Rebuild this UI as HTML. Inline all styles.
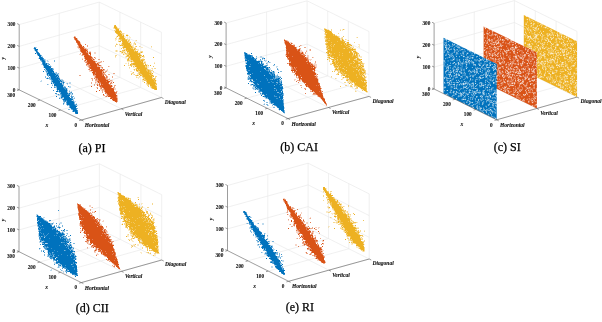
<!DOCTYPE html><html><head><meta charset="utf-8"><style>html,body{margin:0;padding:0;background:#fff}svg{display:block}</style></head><body>
<svg width="602" height="322" viewBox="0 0 602 322">
<defs><filter id="bl" x="0" y="0" width="602" height="322" filterUnits="userSpaceOnUse"><feGaussianBlur stdDeviation="0.3"/></filter></defs>
<rect width="602" height="322" fill="#fff"/>
<g filter="url(#bl)">
<path d="M99.2 67.4L161.4 97.5M99.2 45.63L161.4 75.73M19.2 68.13L99.2 45.63M99.2 23.87L161.4 53.97M19.2 46.37L99.2 23.87M99.2 2.1L161.4 32.2M19.2 24.6L99.2 2.1M161.4 97.5L161.4 32.2M81.4 120L161.4 97.5M140.67 87.47L140.67 22.17M60.67 109.97L140.67 87.47M119.93 77.43L119.93 12.13M39.93 99.93L119.93 77.43M99.2 67.4L99.2 2.1M59.2 78.65L59.2 13.35M59.2 78.65L121.4 108.75" stroke="#e6e6e6" stroke-width="0.6" fill="none"/>
<path d="M114.5 25h1.5v.5h-1.5zM114 25.5h2v.5h-2zM114 26h2.5v1h-2.5zM114 27h3v.5h-3zM113.5 27.5h4v1h-4zM118.5 28h1v.5h-1zM115 28.5h3v.5h-3zM118.5 28.5h.5v.5h-.5zM115.5 29h3.5v1.5h-3.5zM114.5 30h.5v1h-.5zM115.5 30.5h4v.5h-4zM120 30.5h1v.5h-1zM115 31h6.5v1h-6.5zM115 32h5.5v.5h-5.5zM121 32h.5v.5h-.5zM116 32.5h4.5v.5h-4.5zM115 32.5h.5v.5h-.5zM121 32.5h1v.5h-1zM116 33h5.5v.5h-5.5zM123.5 33h.5v.5h-.5zM122 33.5h1v.5h-1zM123.5 33.5h1v.5h-1zM116.5 33.5h5v.5h-5zM117 34h6v.5h-6zM123.5 34h.5v1h-.5zM127.5 34.5h.5v.5h-.5zM126 34.5h.5v.5h-.5zM118 34.5h4v1h-4zM126 35h2.5v.5h-2.5zM123 35h1v.5h-1zM117.5 35.5h6.5v.5h-6.5zM126 35.5h2v.5h-2zM127.5 36h.5v.5h-.5zM119 36h5v.5h-5zM117 36h1.5v.5h-1.5zM129.5 36.5h.5v.5h-.5zM116.5 36.5h1.5v.5h-1.5zM119.5 36.5h5v.5h-5zM129.5 37h1v.5h-1zM116 37h1v.5h-1zM119.5 37h4.5v1h-4.5zM124.5 37.5h1v.5h-1zM115.5 38h.5v.5h-.5zM119 38h6v.5h-6zM115.5 38.5h1v.5h-1zM127.5 38.5h.5v1h-.5zM118.5 38.5h7v1h-7zM126 39h.5v.5h-.5zM115.5 39.5h1v.5h-1zM121.5 39.5h6v.5h-6zM128.5 39.5h1.5v.5h-1.5zM120 39.5h.5v.5h-.5zM115.5 40h.5v.5h-.5zM128 40h2v.5h-2zM120 40h7.5v.5h-7.5zM135.5 40h1v.5h-1zM136 40.5h.5v.5h-.5zM128.5 40.5h.5v.5h-.5zM121 40.5h.5v.5h-.5zM118.5 40.5h.5v.5h-.5zM122 40.5h5v.5h-5zM128 41h1v.5h-1zM122 41h5.5v.5h-5.5zM118.5 41h2.5v1h-2.5zM122 41.5h6.5v.5h-6.5zM129.5 41.5h1v.5h-1zM129 42h2v.5h-2zM122.5 42h6v.5h-6zM122 42.5h6v.5h-6zM134 42.5h1v.5h-1zM128.5 42.5h.5v.5h-.5zM130 42.5h1v.5h-1zM134 43h1.5v.5h-1.5zM122 43h8.5v.5h-8.5zM135 43.5h.5v.5h-.5zM116 43.5h.5v.5h-.5zM133.5 43.5h.5v.5h-.5zM131 43.5h.5v.5h-.5zM121.5 43.5h8.5v.5h-8.5zM123 44h7v.5h-7zM130.5 44h1v.5h-1zM135 44h1v.5h-1zM133.5 44h1v.5h-1zM121.5 44h1v.5h-1zM116 44h1.5v.5h-1.5zM116.5 44.5h1v.5h-1zM135 44.5h.5v.5h-.5zM121.5 44.5h9.5v.5h-9.5zM119 44.5h1v.5h-1zM124 45h7v.5h-7zM119 45h.5v.5h-.5zM120 45h3.5v.5h-3.5zM122 45.5h9v.5h-9zM120 45.5h1.5v.5h-1.5zM131.5 45.5h.5v.5h-.5zM132.5 45.5h1v1h-1zM115 45.5h1v1h-1zM135.5 46h1.5v.5h-1.5zM139.5 46h1v.5h-1zM123 46h9v.5h-9zM151 46.5h1v.5h-1zM139.5 46.5h.5v.5h-.5zM123.5 46.5h9v.5h-9zM135.5 46.5h.5v.5h-.5zM136.5 46.5h.5v.5h-.5zM122.5 46.5h.5v.5h-.5zM151.5 47h.5v.5h-.5zM141.5 47h1v.5h-1zM131 47h2.5v.5h-2.5zM122 47h8.5v.5h-8.5zM123 47.5h9v.5h-9zM132.5 47.5h1v.5h-1zM134.5 47.5h1v1h-1zM125.5 48h6v.5h-6zM132 48h.5v.5h-.5zM121 48h.5v.5h-.5zM123 48h1v.5h-1zM121 48.5h1v.5h-1zM133.5 48.5h2.5v.5h-2.5zM123.5 48.5h1v.5h-1zM126 48.5h7v.5h-7zM133.5 49h3.5v.5h-3.5zM125.5 49h7.5v.5h-7.5zM123.5 49h.5v.5h-.5zM125.5 49.5h9.5v.5h-9.5zM124 49.5h1v.5h-1zM137.5 49.5h1v1h-1zM122.5 50h2.5v.5h-2.5zM126 50h9v.5h-9zM122 50.5h1.5v.5h-1.5zM135 50.5h1v.5h-1zM124 50.5h1.5v.5h-1.5zM126 50.5h1.5v.5h-1.5zM128 50.5h6v.5h-6zM115.5 50.5h2v1h-2zM120 51h1.5v.5h-1.5zM126.5 51h7.5v.5h-7.5zM122 51h2v.5h-2zM137 51h1v.5h-1zM124.5 51h1v.5h-1zM134.5 51h2v.5h-2zM140.5 51.5h2.5v.5h-2.5zM127 51.5h11v.5h-11zM119.5 51.5h2v.5h-2zM128.5 52h9v.5h-9zM127 52h1v.5h-1zM122 52h1v.5h-1zM124.5 52h.5v.5h-.5zM140.5 52h2v1h-2zM138.5 52.5h1v.5h-1zM121 52.5h2.5v.5h-2.5zM127 52.5h.5v.5h-.5zM124 52.5h1.5v.5h-1.5zM128.5 52.5h9.5v1h-9.5zM125 53h1v.5h-1zM122.5 53h1v.5h-1zM138.5 53h1.5v.5h-1.5zM121.5 53h.5v.5h-.5zM124.5 53.5h1v1h-1zM126 53.5h14.5v1h-14.5zM123.5 54h.5v.5h-.5zM123 54.5h1v.5h-1zM128.5 54.5h12v.5h-12zM127 55h2.5v.5h-2.5zM139 55h3v.5h-3zM130 55h8v.5h-8zM143 55h1v1h-1zM115.5 55h1v1h-1zM141.5 55.5h.5v.5h-.5zM130 55.5h11v.5h-11zM126.5 55.5h3v.5h-3zM142 56h2v.5h-2zM126.5 56h13.5v.5h-13.5zM142 56.5h1v.5h-1zM129.5 56.5h12v.5h-12zM128.5 56.5h.5v.5h-.5zM125.5 56.5h2v.5h-2zM115 56.5h1v.5h-1zM143.5 56.5h1v1h-1zM125.5 57h1v.5h-1zM115.5 57h.5v.5h-.5zM129 57h12.5v.5h-12.5zM153 57h1v1h-1zM128 57.5h2.5v.5h-2.5zM140 57.5h1v.5h-1zM131 57.5h8.5v.5h-8.5zM128 58h1.5v.5h-1.5zM131 58h9v.5h-9zM130 58h.5v.5h-.5zM130 58.5h10.5v.5h-10.5zM127.5 58.5h2v.5h-2zM142.5 58.5h1v.5h-1zM141.5 59h2v.5h-2zM127 59h2v.5h-2zM144 59h1v.5h-1zM130.5 59h10.5v.5h-10.5zM141 59.5h1.5v.5h-1.5zM130.5 59.5h9.5v.5h-9.5zM143 59.5h1.5v.5h-1.5zM127.5 59.5h2v.5h-2zM127 60h2v.5h-2zM132.5 60h8v.5h-8zM130.5 60h1.5v.5h-1.5zM141 60h3.5v.5h-3.5zM129 60.5h1v.5h-1zM132.5 60.5h10.5v.5h-10.5zM143.5 60.5h.5v.5h-.5zM127.5 60.5h1v1h-1zM142 61h1v.5h-1zM129 61h.5v.5h-.5zM132.5 61h9v.5h-9zM130.5 61h1.5v1h-1.5zM132.5 61.5h.5v.5h-.5zM133.5 61.5h10v.5h-10zM144.5 61.5h1v1h-1zM134 62h9.5v.5h-9.5zM144 62.5h1.5v.5h-1.5zM154.5 62.5h.5v.5h-.5zM134.5 62.5h8.5v.5h-8.5zM133 62.5h.5v.5h-.5zM131.5 62.5h.5v.5h-.5zM128 62.5h.5v.5h-.5zM133 63h11.5v.5h-11.5zM145 63h.5v.5h-.5zM131 63h1.5v.5h-1.5zM154 63h1v.5h-1zM128 63h1v.5h-1zM125.5 63.5h1v.5h-1zM131.5 63.5h11.5v.5h-11.5zM143.5 63.5h.5v.5h-.5zM144.5 63.5h1v.5h-1zM130 64h1v.5h-1zM145 64h1v.5h-1zM131.5 64h12.5v.5h-12.5zM147 64.5h.5v.5h-.5zM128.5 64.5h.5v.5h-.5zM130 64.5h2.5v.5h-2.5zM145 64.5h1.5v.5h-1.5zM133 64.5h10.5v.5h-10.5zM136 65h11.5v.5h-11.5zM131 65h1.5v.5h-1.5zM148.5 65h.5v.5h-.5zM134 65h1.5v.5h-1.5zM128 65h1v.5h-1zM130 65h.5v.5h-.5zM124 65h1v1h-1zM150 65h1v1h-1zM145.5 65.5h1.5v.5h-1.5zM148 65.5h1v.5h-1zM129.5 65.5h2v.5h-2zM133.5 65.5h.5v.5h-.5zM135 65.5h10v1h-10zM146 66h.5v.5h-.5zM133 66h1v.5h-1zM131.5 66h.5v.5h-.5zM153.5 66h.5v.5h-.5zM153 66.5h1v.5h-1zM135 66.5h12v.5h-12zM131 66.5h1v.5h-1zM147.5 66.5h1v1h-1zM133.5 66.5h1v1h-1zM145.5 67h1.5v.5h-1.5zM136.5 67h8.5v.5h-8.5zM129 67.5h1v.5h-1zM136.5 67.5h10v.5h-10zM136.5 68h10.5v.5h-10.5zM129 68h.5v.5h-.5zM152 68h.5v.5h-.5zM154.5 68h1v1h-1zM151.5 68.5h1v.5h-1zM135.5 68.5h12v1h-12zM133.5 69h1v.5h-1zM152 69h.5v.5h-.5zM136 69.5h1v.5h-1zM140 69.5h6.5v.5h-6.5zM138 69.5h1.5v.5h-1.5zM134 69.5h1v1h-1zM147 69.5h2v1h-2zM149.5 69.5h1v1h-1zM136 70h10.5v.5h-10.5zM151.5 70h1v1h-1zM148 70.5h2.5v.5h-2.5zM138.5 70.5h9v.5h-9zM136 70.5h2v.5h-2zM150.5 71h.5v.5h-.5zM136 71h.5v.5h-.5zM139 71h8.5v.5h-8.5zM137 71h1.5v.5h-1.5zM148 71h1.5v.5h-1.5zM137.5 71.5h1v.5h-1zM153 71.5h1v.5h-1zM130.5 71.5h1v.5h-1zM140 71.5h11.5v.5h-11.5zM138.5 72h.5v.5h-.5zM133 72h1v.5h-1zM139.5 72h11.5v.5h-11.5zM153.5 72h.5v.5h-.5zM151 72.5h1v.5h-1zM138.5 72.5h11v.5h-11zM150 72.5h.5v.5h-.5zM132.5 72.5h1v1h-1zM152 73h1v.5h-1zM138.5 73h13v.5h-13zM131.5 73h.5v1h-.5zM132.5 73.5h.5v.5h-.5zM139.5 73.5h.5v.5h-.5zM151.5 73.5h1.5v.5h-1.5zM140.5 73.5h10.5v.5h-10.5zM137.5 73.5h1v1h-1zM140.5 74h8.5v.5h-8.5zM149.5 74h3v.5h-3zM133.5 74h1v.5h-1zM131 74h1v.5h-1zM139 74h1v1h-1zM140.5 74.5h.5v.5h-.5zM134 74.5h.5v.5h-.5zM142 74.5h9.5v.5h-9.5zM131.5 74.5h.5v.5h-.5zM140 75h10.5v.5h-10.5zM136.5 75h2v.5h-2zM151 75h2.5v.5h-2.5zM135.5 75h.5v.5h-.5zM142.5 75.5h11v.5h-11zM141.5 75.5h.5v.5h-.5zM135.5 75.5h3v.5h-3zM140 75.5h1v.5h-1zM142.5 76h11.5v.5h-11.5zM155.5 76h1v1h-1zM136 76.5h.5v.5h-.5zM153 76.5h1v.5h-1zM142 76.5h10v.5h-10zM139 76.5h1v.5h-1zM139.5 77h.5v.5h-.5zM142.5 77h.5v.5h-.5zM136 77h1v.5h-1zM143.5 77h9v.5h-9zM137.5 77.5h1v.5h-1zM155 77.5h1v.5h-1zM143 77.5h1.5v.5h-1.5zM145 77.5h7.5v.5h-7.5zM155 78h.5v.5h-.5zM153.5 78h1v.5h-1zM143 78h.5v.5h-.5zM138 78h.5v.5h-.5zM144 78h8.5v.5h-8.5zM144.5 78.5h8v.5h-8zM143.5 78.5h.5v.5h-.5zM153 78.5h2.5v.5h-2.5zM154 79h1.5v.5h-1.5zM144.5 79h9v.5h-9zM142.5 79h1.5v.5h-1.5zM145.5 79.5h9.5v.5h-9.5zM142.5 79.5h2v.5h-2zM154.5 80h2v.5h-2zM144 80h10v.5h-10zM146.5 80.5h9.5v.5h-9.5zM144.5 80.5h1v.5h-1zM142.5 80.5h1v1h-1zM146.5 81h7.5v.5h-7.5zM154.5 81h1v.5h-1zM146 81.5h10v.5h-10zM146.5 82h9.5v.5h-9.5zM144 82h1v1h-1zM147 82.5h8.5v.5h-8.5zM146.5 83h10v.5h-10zM146.5 83.5h1v.5h-1zM148 83.5h8.5v.5h-8.5zM150 84h5.5v.5h-5.5zM156 84h1v.5h-1zM146.5 84h3v.5h-3zM150 84.5h5v.5h-5zM148 84.5h.5v.5h-.5zM149 84.5h.5v.5h-.5zM155.5 84.5h1v.5h-1zM150 85h6.5v.5h-6.5zM147.5 85h1v1h-1zM150 85.5h5.5v.5h-5.5zM148 86h1v.5h-1zM150 86h6.5v.5h-6.5zM151.5 86.5h5.5v.5h-5.5zM148 86.5h.5v.5h-.5zM150.5 87h1v.5h-1zM152 87h5v.5h-5zM151 87.5h5.5v.5h-5.5zM151.5 88h5.5v.5h-5.5zM152.5 88.5h4.5v.5h-4.5zM154 89h3v.5h-3zM154.5 89.5h2.5v.5h-2.5z" fill="#edb120"/><path d="M74 36.5h1.5v1h-1.5zM73.5 37.5h2.5v.5h-2.5zM74 38h3v.5h-3zM75 38.5h2.5v.5h-2.5zM74 38.5h.5v.5h-.5zM74 39h3.5v.5h-3.5zM75 39.5h2.5v.5h-2.5zM75.5 40h2.5v.5h-2.5zM75.5 40.5h3.5v.5h-3.5zM76 41h3.5v.5h-3.5zM76 41.5h4v1h-4zM76.5 42.5h4v.5h-4zM77 43h3.5v.5h-3.5zM78 43.5h2.5v.5h-2.5zM77 43.5h.5v.5h-.5zM77.5 44h3.5v.5h-3.5zM85 44h1v.5h-1zM85 44.5h.5v.5h-.5zM77.5 44.5h4v.5h-4zM78 45h4v.5h-4zM78.5 45.5h3.5v1h-3.5zM87 45.5h1v1h-1zM83 46h1v.5h-1zM79 46.5h5v.5h-5zM77.5 46.5h1v1h-1zM79 47h4.5v.5h-4.5zM78.5 47.5h6.5v.5h-6.5zM78.5 48h1v.5h-1zM80 48h4v1h-4zM84.5 48h1v1h-1zM86.5 48.5h.5v.5h-.5zM81 49h5v.5h-5zM80 49h.5v.5h-.5zM86.5 49h1v1h-1zM79.5 49.5h6.5v.5h-6.5zM80.5 50h7v.5h-7zM80 50.5h7.5v.5h-7.5zM80 51h6.5v.5h-6.5zM87 51h1v1.5h-1zM89.5 51.5h1v1h-1zM81 51.5h5.5v1h-5.5zM88 52.5h.5v.5h-.5zM82 52.5h5.5v.5h-5.5zM94.5 52.5h1v1h-1zM82.5 53h6v.5h-6zM89 52.5h2v1.5h-2zM82.5 53.5h5.5v.5h-5.5zM80 53.5h1v.5h-1zM79.5 54h1v.5h-1zM82.5 54h6v.5h-6zM90 54h1v1h-1zM82 54.5h6.5v.5h-6.5zM81.5 55h2v.5h-2zM89.5 55h1.5v.5h-1.5zM84 55h5v.5h-5zM84.5 55.5h6v.5h-6zM84 56h7.5v1h-7.5zM94 57h.5v.5h-.5zM84 57h8v.5h-8zM85 57.5h8v.5h-8zM94 57.5h1.5v.5h-1.5zM92 58h1v.5h-1zM95 58h1v.5h-1zM84.5 58h7v.5h-7zM84.5 58.5h7.5v.5h-7.5zM82.5 58.5h.5v.5h-.5zM92.5 58.5h1v.5h-1zM82 59h1v.5h-1zM85 59h7v.5h-7zM98.5 59h1v1h-1zM92.5 59h2v1h-2zM85.5 59.5h6.5v.5h-6.5zM84.5 60h1.5v.5h-1.5zM87 60h6.5v1h-6.5zM84.5 60.5h2v.5h-2zM94 60.5h.5v.5h-.5zM101 61h.5v.5h-.5zM84 61h1v.5h-1zM103.5 61h.5v1h-.5zM95.5 61h1v1h-1zM86.5 61h8.5v1h-8.5zM85.5 61.5h.5v.5h-.5zM100.5 61.5h1v1h-1zM85.5 62h10v.5h-10zM98.5 62h1v1h-1zM88 62.5h7.5v.5h-7.5zM86.5 62.5h1v.5h-1zM100.5 62.5h.5v.5h-.5zM97.5 62.5h.5v.5h-.5zM85.5 62.5h.5v.5h-.5zM97 63h2.5v.5h-2.5zM87 63h9v.5h-9zM87 63.5h11v.5h-11zM86 63.5h.5v1h-.5zM98 64h1v.5h-1zM87 64h1.5v.5h-1.5zM89.5 64h8v.5h-8zM89.5 64.5h9.5v.5h-9.5zM87.5 64.5h1.5v1h-1.5zM86 64.5h1v1h-1zM97.5 65h2.5v.5h-2.5zM100.5 65h.5v.5h-.5zM89.5 65h7.5v.5h-7.5zM97.5 65.5h1v.5h-1zM99 65.5h2.5v.5h-2.5zM89 65.5h8v1h-8zM108.5 66h1v.5h-1zM100.5 66h1v.5h-1zM99.5 66h.5v.5h-.5zM88 66h.5v.5h-.5zM90.5 66.5h8.5v.5h-8.5zM87.5 66.5h1v.5h-1zM108.5 66.5h.5v.5h-.5zM89 66.5h.5v.5h-.5zM88.5 67h11.5v.5h-11.5zM101.5 67h1v.5h-1zM89.5 67.5h11v.5h-11zM101.5 67.5h1.5v.5h-1.5zM102 68h1v.5h-1zM89.5 68h10.5v1h-10.5zM103 69h1v.5h-1zM88.5 69h1.5v.5h-1.5zM91.5 69h9v.5h-9zM101 69h1v.5h-1zM107 69.5h.5v.5h-.5zM88.5 69.5h1v.5h-1zM103 69.5h2v.5h-2zM91 69.5h11.5v.5h-11.5zM104 70h.5v.5h-.5zM106.5 70h1v.5h-1zM91 70h12v.5h-12zM89.5 70.5h14.5v.5h-14.5zM103 71h1v.5h-1zM89.5 71h1v.5h-1zM92.5 71h9.5v.5h-9.5zM91 71h.5v.5h-.5zM105.5 71h1v1h-1zM93 71.5h10v.5h-10zM92 72h12v.5h-12zM104.5 72h1v1h-1zM103 72.5h1v.5h-1zM95.5 72.5h6.5v.5h-6.5zM92 72.5h3v.5h-3zM92.5 73h2.5v.5h-2.5zM95.5 73h7.5v.5h-7.5zM113.5 73h1v1h-1zM93 73.5h9.5v.5h-9.5zM103 73.5h2v.5h-2zM104 74h1v.5h-1zM93 74h10.5v.5h-10.5zM108.5 74h1v1h-1zM93 74.5h1v.5h-1zM94.5 74.5h7.5v.5h-7.5zM102.5 74.5h1.5v.5h-1.5zM105 74.5h1v1h-1zM103 75h1v.5h-1zM93.5 75h1.5v.5h-1.5zM95.5 75h7v.5h-7zM79.5 75h1v1h-1zM93.5 75.5h.5v.5h-.5zM106 75.5h1v.5h-1zM95.5 75.5h8.5v.5h-8.5zM106 76h.5v.5h-.5zM95.5 76h9v.5h-9zM94.5 76.5h10.5v.5h-10.5zM106 76.5h2v.5h-2zM112 76.5h1v1h-1zM107.5 77h.5v.5h-.5zM94.5 77h11v.5h-11zM106.5 77h.5v.5h-.5zM95.5 77.5h10v.5h-10zM106 77.5h1.5v1h-1.5zM97 78h8.5v.5h-8.5zM95.5 78h1v.5h-1zM94 78h.5v.5h-.5zM91.5 78h1v1h-1zM96 78.5h1v.5h-1zM94 78.5h1v.5h-1zM109 78.5h.5v.5h-.5zM97.5 78.5h8.5v1h-8.5zM95.5 79h1.5v.5h-1.5zM108 79h.5v.5h-.5zM109 79h1v.5h-1zM95.5 79.5h1v.5h-1zM92 79.5h1v1h-1zM97.5 79.5h11v1h-11zM110.5 80h1v.5h-1zM98.5 80.5h9.5v.5h-9.5zM110.5 80.5h.5v.5h-.5zM95 80.5h2.5v.5h-2.5zM111.5 80.5h1v1h-1zM107 81h3.5v.5h-3.5zM96.5 81h3v.5h-3zM100 81h6.5v.5h-6.5zM95.5 81h.5v.5h-.5zM97.5 81.5h12.5v.5h-12.5zM111 82h.5v.5h-.5zM109.5 82h.5v.5h-.5zM95.5 82h.5v.5h-.5zM97.5 82h11.5v.5h-11.5zM113 82h1v1h-1zM98 82.5h1.5v.5h-1.5zM95.5 82.5h1v.5h-1zM100.5 82.5h8.5v.5h-8.5zM110 82.5h.5v.5h-.5zM111 82.5h1v.5h-1zM91 82.5h1v1h-1zM100 83h8.5v.5h-8.5zM110 83h2.5v.5h-2.5zM99 83h.5v.5h-.5zM95.5 83h.5v.5h-.5zM97 83.5h.5v.5h-.5zM110 83.5h.5v.5h-.5zM101 83.5h8v.5h-8zM99 83.5h1v1h-1zM102.5 84h8v.5h-8zM101 84h1v.5h-1zM96.5 84h1v.5h-1zM100.5 84.5h9v.5h-9zM98.5 84.5h1.5v.5h-1.5zM110 84.5h.5v.5h-.5zM94 84.5h1v1h-1zM98.5 85h1v.5h-1zM110.5 85h1.5v.5h-1.5zM100.5 85h9.5v.5h-9.5zM97 84.5h1v1.5h-1zM114 85.5h2v.5h-2zM99 85.5h13.5v1h-13.5zM114 86h1v.5h-1zM91 86h1v1h-1zM101.5 86.5h11v.5h-11zM100 86.5h1v.5h-1zM100.5 87h.5v.5h-.5zM97 87h.5v.5h-.5zM101.5 87h10v.5h-10zM113.5 87h1v1h-1zM100.5 87.5h2v.5h-2zM103 87.5h8.5v.5h-8.5zM96.5 87.5h1v.5h-1zM100.5 88h1v.5h-1zM103.5 88h10v.5h-10zM97.5 88h.5v.5h-.5zM103.5 88.5h10.5v.5h-10.5zM97 88.5h1v.5h-1zM100.5 88.5h1.5v.5h-1.5zM114.5 88.5h1v1h-1zM100.5 89h.5v.5h-.5zM104 89h10v.5h-10zM101.5 89h.5v.5h-.5zM102 89.5h2v.5h-2zM104.5 89.5h9.5v.5h-9.5zM104 90h10v.5h-10zM101.5 90h2v.5h-2zM99 90h1v1h-1zM105 90.5h9v.5h-9zM104.5 91h9.5v.5h-9.5zM96 91h1v1h-1zM104.5 91.5h10.5v.5h-10.5zM116 91.5h1.5v.5h-1.5zM102 91.5h1v1h-1zM105 92h10v.5h-10zM115.5 92h1.5v.5h-1.5zM105.5 92.5h11v.5h-11zM105 93h.5v.5h-.5zM106.5 93h10v.5h-10zM116 93.5h.5v.5h-.5zM105 93.5h1v.5h-1zM106.5 93.5h9v.5h-9zM106.5 94h9.5v.5h-9.5zM103 94h1v1h-1zM107.5 94.5h8.5v.5h-8.5zM107 95h1v.5h-1zM108.5 95h8.5v.5h-8.5zM103.5 95h1v1h-1zM106.5 95.5h1v.5h-1zM108 95.5h9.5v1h-9.5zM105.5 96h2v.5h-2zM108 96.5h8.5v.5h-8.5zM105.5 96.5h1v.5h-1zM110.5 97h6v.5h-6zM110.5 97.5h7v.5h-7zM110 98h7.5v.5h-7.5zM110 98.5h2v.5h-2zM112.5 98.5h5v.5h-5zM112 99h5.5v1h-5.5zM112 100h.5v.5h-.5zM113 100h4.5v1h-4.5zM114.5 101h3v.5h-3zM115 101.5h2.5v.5h-2.5zM116 102h1v.5h-1z" fill="#d95319"/><path d="M34.5 47h.5v.5h-.5zM34 47.5h2.5v.5h-2.5zM33.5 48h2.5v.5h-2.5zM34 48.5h2v.5h-2zM34 49h4v.5h-4zM35 49.5h3v.5h-3zM34.5 50h3v.5h-3zM35 50.5h2.5v.5h-2.5zM35.5 51h2v.5h-2zM36 51.5h2v.5h-2zM36 52h2.5v.5h-2.5zM36.5 52.5h2.5v.5h-2.5zM36.5 53h3v.5h-3zM35 53h1v1h-1zM37 53.5h3v1h-3zM37.5 54.5h3v.5h-3zM37.5 55h4v.5h-4zM38 55.5h3.5v.5h-3.5zM39 56h2v.5h-2zM39 56.5h2.5v.5h-2.5zM42.5 56.5h.5v1h-.5zM39 57h3v.5h-3zM39.5 57.5h3.5v.5h-3.5zM38.5 58h5v.5h-5zM39 58.5h5v.5h-5zM40 59h4.5v.5h-4.5zM40 59.5h3.5v.5h-3.5zM44.5 59.5h1v1h-1zM40 60h4v.5h-4zM47.5 60.5h.5v.5h-.5zM41.5 60.5h3.5v.5h-3.5zM54 60.5h1v1h-1zM47.5 61h1v.5h-1zM41.5 61h4v1h-4zM42 62h3.5v.5h-3.5zM42.5 62.5h3v1h-3zM46 63h1v.5h-1zM47.5 63h1v1h-1zM42 63.5h5v.5h-5zM41.5 64h5.5v.5h-5.5zM49 64h1v.5h-1zM49.5 64.5h.5v.5h-.5zM43 64.5h4.5v.5h-4.5zM48 64.5h1v.5h-1zM43 65h6v.5h-6zM50.5 65.5h.5v.5h-.5zM43.5 65.5h5v.5h-5zM43.5 66h8v.5h-8zM44 66.5h6v.5h-6zM50.5 66.5h.5v.5h-.5zM43.5 67h7.5v.5h-7.5zM44 67.5h7v.5h-7zM52.5 68h.5v.5h-.5zM45 68h7v.5h-7zM45.5 68.5h5v.5h-5zM51 68.5h2.5v.5h-2.5zM44 69h.5v.5h-.5zM46 69h6v.5h-6zM52.5 69h1v.5h-1zM44 69.5h1v.5h-1zM45.5 69.5h8v.5h-8zM47 70h6v.5h-6zM47 70.5h6.5v.5h-6.5zM45.5 70h1v1.5h-1zM47 71h.5v.5h-.5zM48 71h6v.5h-6zM43 71h1v1h-1zM46 71.5h8v.5h-8zM53 72h1v.5h-1zM46 72h1v.5h-1zM47.5 72h5v.5h-5zM55 72.5h.5v.5h-.5zM47.5 72.5h7v.5h-7zM56 72.5h1v1h-1zM47 73h8.5v.5h-8.5zM58 73h.5v.5h-.5zM57.5 73.5h1v.5h-1zM46.5 73.5h9v.5h-9zM46.5 74h9.5v.5h-9.5zM57 74h.5v.5h-.5zM58 74h.5v.5h-.5zM49 74.5h9v.5h-9zM47 74.5h1v1h-1zM48.5 75h10v.5h-10zM47.5 75.5h.5v.5h-.5zM48.5 75.5h6.5v.5h-6.5zM55.5 75.5h3v.5h-3zM50 76h7v.5h-7zM58 76h1v.5h-1zM48.5 76h.5v1h-.5zM50.5 76.5h8.5v.5h-8.5zM45 76.5h1v1h-1zM58.5 77h.5v.5h-.5zM57 77h1v.5h-1zM49 77h1v.5h-1zM50.5 77h6v.5h-6zM47.5 77.5h.5v.5h-.5zM49 77.5h.5v.5h-.5zM50.5 77.5h9v1h-9zM46.5 78h2v.5h-2zM46.5 78.5h1.5v.5h-1.5zM48.5 78.5h1.5v.5h-1.5zM50.5 78.5h9.5v.5h-9.5zM50 79h8.5v.5h-8.5zM49 79h.5v.5h-.5zM59 79h1.5v.5h-1.5zM51.5 79.5h8.5v.5h-8.5zM61.5 79.5h1v.5h-1zM52.5 80h9v.5h-9zM51.5 80h.5v.5h-.5zM62 80h.5v.5h-.5zM51.5 80.5h8v.5h-8zM60 80.5h1.5v.5h-1.5zM41 80.5h.5v.5h-.5zM52 81h10v.5h-10zM40.5 81h1v.5h-1zM62.5 80.5h1v1.5h-1zM51 81.5h9.5v.5h-9.5zM61 81.5h1v.5h-1zM51 82h1v.5h-1zM53 82h7.5v.5h-7.5zM62.5 82h2v1h-2zM61 82.5h1v.5h-1zM52.5 82.5h7.5v.5h-7.5zM69.5 82.5h1v1h-1zM52.5 83h9.5v.5h-9.5zM62.5 83h1v.5h-1zM51 83h1v1h-1zM53 83.5h.5v.5h-.5zM54.5 83.5h7.5v.5h-7.5zM66.5 83.5h1.5v.5h-1.5zM63 83.5h1v1h-1zM67 84h.5v.5h-.5zM47.5 84h1v.5h-1zM54 84h8.5v1h-8.5zM47.5 84.5h.5v.5h-.5zM52.5 84.5h.5v.5h-.5zM52 85h1v.5h-1zM54 85h9.5v1h-9.5zM55.5 86h8v.5h-8zM68 86h1v.5h-1zM68.5 86.5h.5v.5h-.5zM54 86.5h1v.5h-1zM64 86.5h1.5v.5h-1.5zM56.5 86.5h6.5v.5h-6.5zM69.5 86.5h1v1h-1zM54 87h1.5v.5h-1.5zM56.5 87h7v.5h-7zM51 87h.5v.5h-.5zM64.5 87h1v.5h-1zM51 87.5h1v.5h-1zM54.5 87.5h1v.5h-1zM56.5 87.5h9.5v.5h-9.5zM57 88h9.5v.5h-9.5zM65.5 88.5h2v.5h-2zM56.5 88.5h8v.5h-8zM66 89h1v.5h-1zM56.5 89h9v.5h-9zM57 89.5h10.5v.5h-10.5zM53 90h1v.5h-1zM58.5 90h9v.5h-9zM57.5 90h.5v.5h-.5zM53 90.5h.5v.5h-.5zM59 90.5h8.5v.5h-8.5zM57 90.5h1v.5h-1zM69.5 90.5h.5v.5h-.5zM59 91h8v.5h-8zM69 91h1v.5h-1zM56 91h2.5v1h-2.5zM59 91.5h8.5v.5h-8.5zM71 91.5h.5v.5h-.5zM70.5 92h1.5v.5h-1.5zM59 92h1v.5h-1zM60.5 92h7v1h-7zM70.5 92.5h1v.5h-1zM69 92.5h.5v.5h-.5zM60 93h.5v.5h-.5zM72 93h.5v.5h-.5zM70.5 93h.5v.5h-.5zM55 93h1.5v.5h-1.5zM61 93h7v.5h-7zM68.5 93h1.5v.5h-1.5zM55.5 93.5h1.5v.5h-1.5zM60 93.5h8.5v.5h-8.5zM69 93.5h1.5v.5h-1.5zM71.5 93.5h1.5v1h-1.5zM58 94h.5v.5h-.5zM56 94h.5v.5h-.5zM69.5 94h.5v.5h-.5zM60 94h7.5v.5h-7.5zM68 94h1v.5h-1zM59.5 94.5h.5v.5h-.5zM57.5 94.5h1.5v.5h-1.5zM61.5 94.5h7v.5h-7zM69 94.5h1.5v.5h-1.5zM59.5 95h1v.5h-1zM58 95h.5v.5h-.5zM61 95h9v.5h-9zM61.5 95.5h8.5v.5h-8.5zM71 95.5h1v1h-1zM61.5 96h7.5v.5h-7.5zM56 96h1v1h-1zM72.5 96h1v1h-1zM70.5 96.5h1v.5h-1zM60.5 96.5h9v.5h-9zM61 97h1.5v.5h-1.5zM71 97h.5v.5h-.5zM72 97h.5v.5h-.5zM63.5 97h6.5v1h-6.5zM71 97.5h2v.5h-2zM61 97.5h2v.5h-2zM74.5 97.5h.5v.5h-.5zM59.5 97.5h1v1h-1zM61 98h1.5v.5h-1.5zM74 98h1v.5h-1zM64 98h8.5v.5h-8.5zM71.5 98.5h.5v.5h-.5zM72.5 98.5h1v.5h-1zM59 98.5h1v.5h-1zM63.5 98.5h7.5v.5h-7.5zM62.5 99h11v.5h-11zM62.5 99.5h10.5v.5h-10.5zM63.5 100h8v.5h-8zM73 100.5h1v.5h-1zM63 100.5h1.5v.5h-1.5zM65 100.5h1v.5h-1zM66.5 100.5h6v.5h-6zM63 101h1v.5h-1zM64.5 101h1.5v.5h-1.5zM66.5 101h7.5v.5h-7.5zM66.5 101.5h7v.5h-7zM64 101.5h1.5v.5h-1.5zM74.5 101.5h1v.5h-1zM64 102h.5v.5h-.5zM74.5 102h.5v.5h-.5zM66 102h8v.5h-8zM66.5 102.5h8v.5h-8zM63.5 102.5h1v1h-1zM67 103h7v.5h-7zM76 103.5h.5v.5h-.5zM63 103.5h1v1h-1zM66 103.5h9v1h-9zM75.5 104h1.5v.5h-1.5zM67 104.5h7.5v.5h-7.5zM75.5 104.5h1v.5h-1zM67 105h1v.5h-1zM68.5 105h7v.5h-7zM69.5 105.5h6.5v.5h-6.5zM76.5 105.5h1v.5h-1zM69.5 106h7.5v1h-7.5zM69.5 107h6.5v1h-6.5zM71 108h5v.5h-5zM76.5 108h1v.5h-1zM70.5 108.5h7v.5h-7zM71 109h5.5v.5h-5.5zM68.5 109h1v1h-1zM72.5 109.5h4.5v.5h-4.5zM73 110h4.5v.5h-4.5zM72.5 110.5h5.5v1h-5.5zM74.5 111.5h3v.5h-3zM72.5 111.5h1.5v.5h-1.5zM75 112h3v1.5h-3zM75.5 113.5h2.5v.5h-2.5z" fill="#0072bd"/>
<path d="M19.2 89.9L19.2 24.6M19.2 89.9L81.4 120M81.4 120L161.4 97.5M19.2 89.9L17.13 88.9M19.2 68.13L17.13 67.13M19.2 46.37L17.13 45.36M19.2 24.6L17.13 23.6M81.4 120L79.19 120.62M60.67 109.97L58.45 110.59M39.93 99.93L37.72 100.56M19.2 89.9L16.99 90.52M81.4 120L83.47 121M121.4 108.75L123.47 109.75M161.4 97.5L163.47 98.5" stroke="#4d4d4d" stroke-width="0.55" fill="none"/>
<g font-family="Liberation Serif, serif" font-weight="bold" font-size="5.25" fill="#111" stroke="#111" stroke-width="0.1"><text x="15.4" y="91.55" text-anchor="end">0</text><text x="15.4" y="69.78" text-anchor="end">100</text><text x="15.4" y="48.02" text-anchor="end">200</text><text x="15.4" y="26.25" text-anchor="end">300</text><text x="77.2" y="126.75" text-anchor="end">0</text><text x="56.47" y="116.72" text-anchor="end">100</text><text x="35.73" y="106.68" text-anchor="end">200</text><text x="15" y="96.65" text-anchor="end">300</text></g>
<g font-family="Liberation Serif, serif" font-weight="bold" font-style="italic" font-size="5.5" fill="#111" stroke="#111" stroke-width="0.1"><text x="84.8" y="127.1">Horizontal</text><text x="124.8" y="115.65">Vertical</text><text x="164.8" y="103.6">Diagonal</text><text x="46.8" y="126.85" text-anchor="middle">x</text><text transform="translate(5 58.25) rotate(-90)" text-anchor="middle">y</text></g>
<text x="78.5" y="151.5" font-family="Liberation Serif, serif" font-size="12" fill="#000" stroke="#000" stroke-width="0.25">(a) PI</text>
<path d="M307.1 65.7L369 96.4M307.1 44.07L369 74.77M226.1 66.27L307.1 44.07M307.1 22.43L369 53.13M226.1 44.63L307.1 22.43M307.1 0.8L369 31.5M226.1 23L307.1 0.8M369 96.4L369 31.5M288 118.6L369 96.4M348.37 86.17L348.37 21.27M267.37 108.37L348.37 86.17M327.73 75.93L327.73 11.03M246.73 98.13L327.73 75.93M307.1 65.7L307.1 0.8M266.6 76.8L266.6 11.9M266.6 76.8L328.5 107.5" stroke="#e6e6e6" stroke-width="0.6" fill="none"/>
<path d="M324 28.5h1.5v.5h-1.5zM326.5 29h.5v.5h-.5zM343.5 29h.5v.5h-.5zM324 29h2v.5h-2zM340.5 29.5h.5v.5h-.5zM324.5 29.5h3v.5h-3zM328 29.5h.5v.5h-.5zM342.5 29.5h2v.5h-2zM331 29.5h1v1h-1zM340 30h1v.5h-1zM342.5 30h.5v.5h-.5zM325 30h4.5v.5h-4.5zM324.5 30.5h5v.5h-5zM324.5 31h7v.5h-7zM324.5 31.5h1v.5h-1zM326 31.5h5.5v.5h-5.5zM325 32h7v1h-7zM325 33h.5v.5h-.5zM327 33h5.5v.5h-5.5zM338 33h.5v1h-.5zM324.5 33.5h8.5v.5h-8.5zM334 34h.5v.5h-.5zM324.5 34h9v.5h-9zM325.5 34.5h9.5v.5h-9.5zM333.5 35h2v.5h-2zM325.5 35h7.5v.5h-7.5zM336 35.5h1v.5h-1zM326 35.5h9.5v.5h-9.5zM324.5 36h1v.5h-1zM343 36h1v.5h-1zM338.5 36h1v.5h-1zM326 36h12v.5h-12zM338.5 36.5h.5v.5h-.5zM343.5 36.5h.5v.5h-.5zM325 36.5h12.5v.5h-12.5zM325 37h13.5v.5h-13.5zM356.5 37h1v.5h-1zM326 37.5h13.5v.5h-13.5zM357 37.5h.5v.5h-.5zM341.5 37.5h1.5v.5h-1.5zM324.5 37.5h1v1h-1zM326 38h1.5v.5h-1.5zM329.5 38h10.5v.5h-10.5zM328 38h1v.5h-1zM341 38h2v.5h-2zM326.5 38.5h14v1h-14zM325.5 39h.5v.5h-.5zM342 39h1v.5h-1zM345.5 39h.5v.5h-.5zM325.5 39.5h14.5v.5h-14.5zM343.5 39.5h.5v.5h-.5zM341.5 39.5h1.5v.5h-1.5zM345.5 39.5h1v.5h-1zM325.5 40h15v.5h-15zM342 40h2v.5h-2zM348 40h.5v.5h-.5zM347.5 40.5h1v.5h-1zM329.5 40.5h14.5v.5h-14.5zM325 40.5h3.5v.5h-3.5zM344.5 41h1v.5h-1zM325 41h19v.5h-19zM325.5 41.5h1v.5h-1zM343.5 41.5h2v.5h-2zM337.5 41.5h5.5v.5h-5.5zM327 41.5h10v.5h-10zM332 42h13v.5h-13zM327.5 42h4v.5h-4zM347 42h2v.5h-2zM346.5 42.5h2.5v.5h-2.5zM354 42.5h1v.5h-1zM328 42.5h17v.5h-17zM326 42.5h1.5v.5h-1.5zM346.5 43h2v.5h-2zM326 43h20v.5h-20zM344.5 43.5h2v.5h-2zM347.5 43.5h1.5v.5h-1.5zM327 43.5h17v.5h-17zM325 43.5h1.5v.5h-1.5zM347 44h3v.5h-3zM331.5 44h10v.5h-10zM350.5 44h.5v.5h-.5zM342 44h4v.5h-4zM325.5 44h5.5v.5h-5.5zM345 44.5h6v.5h-6zM358.5 44.5h1v.5h-1zM335 44.5h9.5v.5h-9.5zM325.5 44.5h8.5v.5h-8.5zM348.5 45h1v.5h-1zM359 45h.5v.5h-.5zM350.5 45h1.5v.5h-1.5zM327 45h21v.5h-21zM331 45.5h2v.5h-2zM333.5 45.5h11.5v.5h-11.5zM349.5 45.5h2.5v.5h-2.5zM326 45.5h1.5v.5h-1.5zM328 45.5h2.5v.5h-2.5zM345.5 45.5h3.5v.5h-3.5zM326 46h2.5v.5h-2.5zM329 46h4.5v.5h-4.5zM334 46h16v.5h-16zM358.5 46.5h1v.5h-1zM347.5 46.5h2.5v.5h-2.5zM332 46.5h14.5v.5h-14.5zM327 46.5h4.5v.5h-4.5zM352.5 46.5h1v.5h-1zM350.5 46.5h1v1h-1zM352.5 47h.5v.5h-.5zM326.5 47h.5v.5h-.5zM359 47h.5v.5h-.5zM327.5 47h22v.5h-22zM328.5 47.5h20v.5h-20zM353 47.5h1v.5h-1zM349.5 47.5h2v.5h-2zM326 47.5h2v.5h-2zM347.5 48h4v.5h-4zM353.5 48h.5v.5h-.5zM327 48h20v.5h-20zM352 48h1v1h-1zM343.5 48.5h.5v.5h-.5zM350.5 48.5h1v.5h-1zM326.5 48.5h1v.5h-1zM345 48.5h5v.5h-5zM328 48.5h3.5v.5h-3.5zM332 48.5h11v.5h-11zM354.5 48.5h1v.5h-1zM329.5 49h26v.5h-26zM326.5 49h2v1h-2zM331.5 49.5h24.5v.5h-24.5zM329 49.5h2v.5h-2zM332 50h24v.5h-24zM327.5 50h4v.5h-4zM352 50.5h1v.5h-1zM327.5 50.5h24v1h-24zM353 51h3v.5h-3zM350 51.5h2v.5h-2zM327 51.5h22.5v.5h-22.5zM353 51.5h3.5v.5h-3.5zM353 52h1v.5h-1zM328 52h11v.5h-11zM339.5 52h10v.5h-10zM326 52h1.5v.5h-1.5zM354.5 52h3v.5h-3zM350 52h2.5v1h-2.5zM329.5 52.5h20v.5h-20zM354 52.5h3.5v.5h-3.5zM326 52.5h3v.5h-3zM354 53h1v.5h-1zM327 53h2v.5h-2zM332 53h10v.5h-10zM342.5 53h10.5v.5h-10.5zM329.5 53h.5v.5h-.5zM330.5 53h1v.5h-1zM355.5 53h3.5v.5h-3.5zM330 53.5h4.5v.5h-4.5zM358 53.5h.5v.5h-.5zM335 53.5h18.5v.5h-18.5zM327.5 53.5h1.5v.5h-1.5zM354 53.5h3.5v.5h-3.5zM354 54h1.5v.5h-1.5zM328 54h25.5v.5h-25.5zM356 54h1.5v.5h-1.5zM331.5 54.5h7.5v.5h-7.5zM339.5 54.5h14v.5h-14zM354 54.5h1v.5h-1zM329 54.5h1.5v.5h-1.5zM359 54.5h.5v.5h-.5zM327.5 54.5h1v.5h-1zM356 54.5h2.5v1h-2.5zM339.5 55h2.5v.5h-2.5zM342.5 55h11v.5h-11zM331 55h8v.5h-8zM359 55h1v.5h-1zM327.5 55h3v.5h-3zM354 55h1.5v.5h-1.5zM352.5 55.5h5v.5h-5zM327.5 55.5h24.5v.5h-24.5zM359 55.5h.5v1h-.5zM330 56h2.5v.5h-2.5zM328 56h1.5v.5h-1.5zM333 56h19.5v.5h-19.5zM353 56h4.5v.5h-4.5zM358.5 56.5h1v.5h-1zM334 56.5h22.5v.5h-22.5zM330.5 56.5h3v.5h-3zM357 56.5h1v.5h-1zM329 56.5h.5v.5h-.5zM360.5 56.5h1v1h-1zM331.5 57h5.5v.5h-5.5zM337.5 57h20v.5h-20zM329 57h1v.5h-1zM327.5 57h1v.5h-1zM358.5 57.5h.5v.5h-.5zM333 57.5h25v.5h-25zM331.5 57.5h1v.5h-1zM327.5 57.5h2.5v.5h-2.5zM329 58h1.5v.5h-1.5zM336 58h20v.5h-20zM334 58h1.5v.5h-1.5zM356.5 58h2.5v.5h-2.5zM358.5 58.5h1v.5h-1zM349.5 58.5h5.5v.5h-5.5zM357 58.5h1v.5h-1zM355.5 58.5h.5v.5h-.5zM333.5 58.5h15.5v.5h-15.5zM330 58.5h1.5v.5h-1.5zM328.5 58.5h1v1h-1zM361 59h1v.5h-1zM357 59h3.5v.5h-3.5zM331 59h6.5v.5h-6.5zM338 59h2.5v.5h-2.5zM355 59h1.5v.5h-1.5zM341 59h8v.5h-8zM349.5 59h5v1h-5zM327 59h1v1h-1zM335 59.5h2v.5h-2zM356.5 59.5h5.5v.5h-5.5zM337.5 59.5h11.5v.5h-11.5zM331.5 59.5h3v.5h-3zM332 60h2.5v.5h-2.5zM336 60h1v.5h-1zM360.5 60h.5v.5h-.5zM337.5 60h18.5v.5h-18.5zM356.5 60h3.5v.5h-3.5zM333 60.5h14.5v.5h-14.5zM358.5 60.5h2.5v.5h-2.5zM348 60.5h9.5v.5h-9.5zM329 60.5h1v1h-1zM359.5 61h2.5v.5h-2.5zM335.5 61h18v.5h-18zM354 61h4.5v.5h-4.5zM332 61h2.5v1h-2.5zM335 61.5h18.5v.5h-18.5zM354.5 61.5h4v.5h-4zM361 61.5h1v1h-1zM359.5 62h1v.5h-1zM355 62h3.5v.5h-3.5zM332.5 62h6v.5h-6zM339 62h15v.5h-15zM335.5 62.5h7v.5h-7zM343 62.5h5v.5h-5zM332.5 62.5h2.5v.5h-2.5zM348.5 62.5h12.5v.5h-12.5zM361.5 62.5h1v1h-1zM352 63h1.5v.5h-1.5zM338 63h13.5v.5h-13.5zM354 63h7v.5h-7zM332 63h5.5v.5h-5.5zM363.5 63h.5v.5h-.5zM360.5 63.5h2.5v.5h-2.5zM363.5 63.5h1v.5h-1zM335.5 63.5h14.5v.5h-14.5zM330 63.5h.5v.5h-.5zM350.5 63.5h9.5v.5h-9.5zM332 63.5h3v.5h-3zM331 63.5h.5v.5h-.5zM349.5 64h9v.5h-9zM340.5 64h8.5v.5h-8.5zM330 64h2v.5h-2zM333 64h7v.5h-7zM359.5 64h1.5v.5h-1.5zM360 64.5h1.5v.5h-1.5zM334 64.5h2.5v.5h-2.5zM337 64.5h21.5v.5h-21.5zM362.5 64h1v1.5h-1zM333.5 65h2v.5h-2zM336.5 65h2.5v.5h-2.5zM339.5 65h16.5v.5h-16.5zM356.5 65h2v.5h-2zM360.5 65h1.5v.5h-1.5zM338 65.5h11v.5h-11zM333.5 65.5h3.5v.5h-3.5zM349.5 65.5h14v.5h-14zM334 66h.5v.5h-.5zM335 66h23.5v.5h-23.5zM359 66h5v.5h-5zM344.5 66.5h7.5v.5h-7.5zM339 66.5h5v.5h-5zM362 66.5h2v.5h-2zM357 66.5h4v.5h-4zM352.5 66.5h4v.5h-4zM334 66.5h4.5v1h-4.5zM362.5 67h.5v.5h-.5zM339 67h14.5v.5h-14.5zM358 67h2v.5h-2zM354 67h3.5v.5h-3.5zM360.5 67h1.5v.5h-1.5zM339 67.5h1.5v.5h-1.5zM346.5 67.5h7.5v.5h-7.5zM337.5 67.5h1v.5h-1zM356 67.5h6v.5h-6zM335.5 67.5h1v.5h-1zM341 67.5h5v.5h-5zM362.5 67.5h1v.5h-1zM354.5 67.5h1v.5h-1zM343 68h18.5v.5h-18.5zM336 68h1v.5h-1zM337.5 68h5v.5h-5zM362.5 68h.5v.5h-.5zM344 68.5h20.5v.5h-20.5zM338.5 68.5h4.5v.5h-4.5zM335 68.5h2v.5h-2zM357.5 69h1.5v.5h-1.5zM359.5 69h5v.5h-5zM345 69h11v.5h-11zM338.5 69h6v.5h-6zM335 69h3v.5h-3zM334.5 69.5h24.5v.5h-24.5zM359.5 69.5h2v.5h-2zM362 69.5h2.5v.5h-2.5zM334.5 70h2v.5h-2zM337 70h1v.5h-1zM338.5 70h8v.5h-8zM359.5 70h6v.5h-6zM347 70h11.5v1h-11.5zM362.5 70.5h2v.5h-2zM337.5 70.5h1v.5h-1zM340 70.5h6.5v.5h-6.5zM359 70.5h2.5v.5h-2.5zM365 70.5h.5v.5h-.5zM359 71h3v.5h-3zM337.5 71h1.5v.5h-1.5zM340 71h13.5v.5h-13.5zM332 71h1v.5h-1zM364 71h1.5v.5h-1.5zM334 71h1v.5h-1zM354 71h4.5v.5h-4.5zM339 71.5h2v.5h-2zM334 71.5h.5v.5h-.5zM364.5 71.5h1v.5h-1zM341.5 71.5h21v.5h-21zM363 71.5h1v.5h-1zM332.5 71.5h.5v.5h-.5zM345 72h14.5v.5h-14.5zM360 72h5.5v.5h-5.5zM338.5 72h2v.5h-2zM341 72h3.5v.5h-3.5zM342.5 72.5h21v.5h-21zM338 72.5h1v.5h-1zM341.5 72.5h.5v.5h-.5zM340 72.5h1v.5h-1zM364 72.5h1.5v.5h-1.5zM362.5 73h2v.5h-2zM340.5 73h1.5v.5h-1.5zM342.5 73h1v.5h-1zM344 73h18v.5h-18zM337.5 73h1v1h-1zM360 73.5h4.5v.5h-4.5zM341 73.5h18.5v.5h-18.5zM365 73.5h1v1h-1zM341.5 74h4v.5h-4zM364 74h.5v.5h-.5zM346 74h17.5v.5h-17.5zM338 74h1v1h-1zM336.5 74h1v1h-1zM343.5 74.5h.5v.5h-.5zM344.5 74.5h1v.5h-1zM356.5 74.5h3v.5h-3zM360 74.5h1.5v.5h-1.5zM362 74.5h1.5v.5h-1.5zM342.5 74.5h.5v.5h-.5zM346.5 74.5h9.5v.5h-9.5zM342 75h3v.5h-3zM346 75h10v.5h-10zM363 75h1v.5h-1zM360.5 75h1.5v.5h-1.5zM356.5 75h3.5v.5h-3.5zM341 75.5h1v.5h-1zM348.5 75.5h16.5v.5h-16.5zM343 75.5h5v.5h-5zM341.5 76h.5v.5h-.5zM363 76h.5v.5h-.5zM364 76h1v1h-1zM345 76h17.5v1h-17.5zM331 76.5h1v.5h-1zM365.5 76.5h1v.5h-1zM344.5 77h18.5v.5h-18.5zM343 77h1v.5h-1zM331.5 77h.5v.5h-.5zM364.5 77h2v.5h-2zM344.5 77.5h1v.5h-1zM342.5 77.5h1.5v.5h-1.5zM346.5 77.5h2v.5h-2zM349 77.5h8.5v.5h-8.5zM358 77.5h7.5v.5h-7.5zM349 78h16.5v.5h-16.5zM342.5 78h1v.5h-1zM346.5 78h.5v.5h-.5zM335.5 78h.5v.5h-.5zM335.5 78.5h1v.5h-1zM349 78.5h15.5v.5h-15.5zM347 78.5h1v1h-1zM341.5 79h.5v.5h-.5zM348.5 79h17v.5h-17zM350 79.5h15.5v.5h-15.5zM347.5 79.5h2v.5h-2zM341.5 79.5h1v.5h-1zM346 79.5h1v.5h-1zM349.5 80h17v.5h-17zM346 80h2v.5h-2zM346.5 80.5h2v.5h-2zM349 80.5h.5v.5h-.5zM361.5 80.5h5v.5h-5zM350.5 80.5h10.5v.5h-10.5zM366 81h.5v.5h-.5zM349 81h1v.5h-1zM364.5 81h1v.5h-1zM347.5 81h1v.5h-1zM350.5 81h11.5v.5h-11.5zM362.5 81h1.5v.5h-1.5zM365 81.5h.5v.5h-.5zM350.5 81.5h.5v.5h-.5zM351.5 81.5h12.5v.5h-12.5zM348 82h.5v.5h-.5zM353.5 82h1.5v.5h-1.5zM350.5 82h2v.5h-2zM355.5 82h8.5v.5h-8.5zM365.5 82h1.5v.5h-1.5zM364.5 82h.5v.5h-.5zM344.5 82h1v1h-1zM353.5 82.5h13.5v.5h-13.5zM347.5 82.5h1v.5h-1zM352 82.5h1v.5h-1zM349 82.5h.5v.5h-.5zM350 82.5h1v.5h-1zM350.5 83h.5v.5h-.5zM354 83h12.5v.5h-12.5zM349 83h1v1h-1zM351 83.5h1v.5h-1zM351.5 84h1.5v.5h-1.5zM354.5 83.5h12v1.5h-12zM352 84.5h.5v.5h-.5zM354 85h11.5v.5h-11.5zM366 85h1v.5h-1zM345.5 85h1v1h-1zM355 85.5h.5v.5h-.5zM356.5 85.5h10.5v.5h-10.5zM350.5 85h1v1.5h-1zM356 86h7.5v.5h-7.5zM340 86h1v.5h-1zM364.5 86h2v.5h-2zM354.5 86h1v.5h-1zM358 86.5h9v.5h-9zM354.5 86.5h.5v.5h-.5zM340 86.5h.5v.5h-.5zM350.5 86.5h2v.5h-2zM356.5 87h1v.5h-1zM359 87h7.5v.5h-7.5zM352 87h.5v.5h-.5zM356.5 87.5h1.5v.5h-1.5zM360 87.5h6.5v.5h-6.5zM360.5 88h6v.5h-6zM357 88h1v.5h-1zM355.5 88h1v1h-1zM361 88.5h6v.5h-6zM361.5 89h5.5v.5h-5.5zM363 89.5h3.5v.5h-3.5zM362 90h1v.5h-1zM363.5 90h3v.5h-3zM364 90.5h3v.5h-3zM355.5 90.5h.5v.5h-.5zM362 90.5h.5v.5h-.5zM355 91h1.5v.5h-1.5zM365 91h2.5v.5h-2.5zM366 91.5h1.5v.5h-1.5zM366.5 92h1v.5h-1z" fill="#edb120"/><path d="M284 39.5h1v.5h-1zM284 40h1.5v.5h-1.5zM284 40.5h3.5v.5h-3.5zM284.5 41h3v.5h-3zM284.5 41.5h4.5v1.5h-4.5zM289.5 42.5h.5v.5h-.5zM290.5 42.5h1v.5h-1zM284.5 43h5.5v.5h-5.5zM290.5 43h2v.5h-2zM285 43.5h5v.5h-5zM291 43.5h1.5v.5h-1.5zM285 44h6v.5h-6zM285.5 44.5h6.5v.5h-6.5zM293.5 44.5h1v.5h-1zM285.5 45h9v.5h-9zM300.5 45h1v.5h-1zM293.5 45.5h1.5v.5h-1.5zM300.5 45.5h.5v.5h-.5zM286 45.5h7v.5h-7zM299.5 46h.5v.5h-.5zM286 46h9v.5h-9zM286 46.5h8.5v.5h-8.5zM299 46.5h1v.5h-1zM285.5 47h11v.5h-11zM304.5 47h1v1h-1zM286 47.5h10.5v1.5h-10.5zM299.5 48h1v1h-1zM298 49h.5v.5h-.5zM286.5 49h11v.5h-11zM299 49h1v.5h-1zM300.5 49.5h.5v.5h-.5zM298 49.5h2v1h-2zM286 49.5h11.5v1h-11.5zM309.5 49.5h1.5v1h-1.5zM300.5 50h1v.5h-1zM306 50.5h.5v.5h-.5zM286 50.5h14v1h-14zM306 51h1v.5h-1zM302 51.5h.5v.5h-.5zM286.5 51.5h13v.5h-13zM300.5 51.5h1v1h-1zM302 52h1v.5h-1zM286.5 52h13.5v.5h-13.5zM286 52.5h2.5v.5h-2.5zM302 52.5h1.5v.5h-1.5zM289 52.5h11.5v.5h-11.5zM301 52.5h.5v.5h-.5zM305 52.5h1v1h-1zM286 53h14.5v.5h-14.5zM301 53h2.5v.5h-2.5zM286.5 53.5h2v.5h-2zM289 53.5h14.5v.5h-14.5zM286 54h16.5v.5h-16.5zM303 54h.5v.5h-.5zM302.5 54.5h2.5v.5h-2.5zM285.5 54.5h16v.5h-16zM304 55h.5v.5h-.5zM285.5 55h18v.5h-18zM305.5 55h.5v.5h-.5zM287 55.5h19v.5h-19zM307.5 55.5h1v1h-1zM286 56h19v.5h-19zM293 56.5h12v.5h-12zM286 56.5h6.5v.5h-6.5zM289 57h15.5v.5h-15.5zM305 57h1.5v.5h-1.5zM312.5 57h1v.5h-1zM287 57h1v.5h-1zM287 57.5h19v.5h-19zM312.5 57.5h.5v.5h-.5zM306.5 57.5h2v1h-2zM287.5 58h18.5v.5h-18.5zM287.5 58.5h20v1h-20zM308.5 59h.5v.5h-.5zM308.5 59.5h1v.5h-1zM310.5 59.5h1v.5h-1zM288.5 59.5h19.5v.5h-19.5zM310.5 60h.5v.5h-.5zM289 60h19v.5h-19zM308.5 60h.5v.5h-.5zM289 60.5h18.5v.5h-18.5zM308 60.5h1v.5h-1zM289 61h17v.5h-17zM307 61h2v.5h-2zM290.5 61.5h17v.5h-17zM308 61.5h1v.5h-1zM315 61.5h1v1h-1zM289 61.5h1v1h-1zM309.5 62h1v.5h-1zM290.5 62h18.5v.5h-18.5zM290.5 62.5h20.5v.5h-20.5zM287.5 63h.5v.5h-.5zM288.5 63h22.5v.5h-22.5zM288.5 63.5h19v.5h-19zM287 63.5h1v.5h-1zM308 63.5h2.5v.5h-2.5zM311 63.5h1.5v1h-1.5zM314.5 63.5h1v1h-1zM289 64h21.5v.5h-21.5zM289 64.5h24.5v.5h-24.5zM316 64.5h.5v.5h-.5zM290.5 65h23v.5h-23zM315.5 65h1v.5h-1zM289 65h1v.5h-1zM290 65.5h21v.5h-21zM311.5 65.5h1.5v.5h-1.5zM289 65.5h.5v.5h-.5zM313.5 65.5h1.5v.5h-1.5zM291.5 66h23.5v.5h-23.5zM290 66.5h24.5v.5h-24.5zM315.5 66.5h1v.5h-1zM295 67h18v.5h-18zM314 67h2.5v.5h-2.5zM291 67h3.5v.5h-3.5zM312 67.5h1.5v.5h-1.5zM292.5 67.5h1.5v.5h-1.5zM294.5 67.5h1.5v.5h-1.5zM296.5 67.5h15v.5h-15zM314 67.5h1.5v.5h-1.5zM291.5 68h2.5v.5h-2.5zM294.5 68h21v.5h-21zM295.5 68.5h20v.5h-20zM293 68.5h2v.5h-2zM291.5 68.5h1v1h-1zM293.5 69h1.5v.5h-1.5zM295.5 69h19.5v.5h-19.5zM291.5 69.5h23.5v.5h-23.5zM291 70h22v.5h-22zM313.5 70h2v.5h-2zM314 70.5h1v.5h-1zM291 70.5h5v.5h-5zM297 70.5h15.5v.5h-15.5zM292 71h1v.5h-1zM294 71h19v.5h-19zM313.5 71h1v.5h-1zM294 71.5h1v.5h-1zM295.5 71.5h19.5v.5h-19.5zM292 71.5h.5v.5h-.5zM292 72h1v.5h-1zM293.5 72h1.5v.5h-1.5zM295.5 72h20v.5h-20zM295 72.5h.5v.5h-.5zM296 72.5h19v.5h-19zM293.5 72.5h1v.5h-1zM295 73h21v.5h-21zM295 73.5h21.5v.5h-21.5zM317 74h.5v.5h-.5zM296 74h20v.5h-20zM316.5 74.5h1.5v.5h-1.5zM294 74.5h22v.5h-22zM296 75h19.5v.5h-19.5zM294.5 75h.5v.5h-.5zM314.5 75.5h.5v.5h-.5zM297.5 75.5h3v.5h-3zM296 75.5h1v.5h-1zM301 75.5h13v.5h-13zM316 75.5h1v.5h-1zM298 76h19.5v.5h-19.5zM298.5 76.5h17.5v.5h-17.5zM317 76.5h.5v.5h-.5zM296 76.5h1v1h-1zM301.5 77h15v.5h-15zM298.5 77h2.5v.5h-2.5zM316 77.5h1.5v.5h-1.5zM298 77.5h3v.5h-3zM302 77.5h13.5v.5h-13.5zM297 77.5h.5v1h-.5zM298.5 78h19v.5h-19zM317.5 78.5h.5v.5h-.5zM299 78.5h18v.5h-18zM301 79h17.5v.5h-17.5zM299 79h1.5v1h-1.5zM294.5 79.5h1v.5h-1zM301.5 79.5h16.5v1h-16.5zM294.5 80h.5v.5h-.5zM299 80h1v.5h-1zM297.5 80h1v1h-1zM299.5 80.5h1v1h-1zM302 80.5h16.5v1h-16.5zM296 81h1v.5h-1zM296 81.5h.5v.5h-.5zM302.5 81.5h15.5v.5h-15.5zM298 82h1v.5h-1zM303.5 82h15v1h-15zM298.5 82.5h.5v.5h-.5zM306 83h13.5v.5h-13.5zM304 83h1.5v.5h-1.5zM306 83.5h14v.5h-14zM305 84h14.5v.5h-14.5zM305 84.5h15v.5h-15zM319 85h1v.5h-1zM316.5 85h2v.5h-2zM305 85h11v.5h-11zM300.5 85h1v1h-1zM308 85.5h12v.5h-12zM306 85.5h1.5v.5h-1.5zM306 86h14.5v.5h-14.5zM307.5 86.5h13v.5h-13zM306 86.5h1v.5h-1zM308 87h12v.5h-12zM301 87h.5v1h-.5zM309 87.5h12v.5h-12zM309.5 88h12v1h-12zM304.5 88h1v1h-1zM305 89h1v.5h-1zM310 89h11v.5h-11zM310.5 89.5h10v.5h-10zM305.5 89.5h.5v.5h-.5zM310.5 90h1v.5h-1zM312 90h9v.5h-9zM312 90.5h9.5v.5h-9.5zM313.5 91h5.5v.5h-5.5zM322 91h.5v.5h-.5zM319.5 91h1.5v.5h-1.5zM310.5 91h1v1h-1zM312 91h1v1h-1zM313.5 91.5h9.5v.5h-9.5zM314.5 92h7.5v.5h-7.5zM314.5 92.5h7v.5h-7zM313 92.5h.5v.5h-.5zM313 93h9.5v.5h-9.5zM305.5 93h.5v.5h-.5zM315.5 93.5h7.5v.5h-7.5zM305 93.5h1v.5h-1zM314.5 93.5h.5v.5h-.5zM313 93.5h.5v.5h-.5zM314.5 94h8.5v.5h-8.5zM312.5 94h1v.5h-1zM314.5 94.5h.5v.5h-.5zM316.5 94.5h6v.5h-6zM313 94.5h.5v.5h-.5zM317.5 95h5.5v1.5h-5.5zM318 96.5h.5v.5h-.5zM319 96.5h4.5v.5h-4.5zM319.5 97h4v.5h-4zM320.5 97.5h3v.5h-3zM320.5 98h4v.5h-4zM321 98.5h3.5v.5h-3.5zM321.5 99h3.5v.5h-3.5zM322 99.5h3v.5h-3zM322.5 100h2.5v1h-2.5zM323 101h2.5v.5h-2.5zM323.5 101.5h2v.5h-2zM324 102h2v1h-2zM324.5 103h1.5v.5h-1.5zM325 103.5h2v.5h-2zM325.5 104h1v.5h-1zM326 104.5h1v1h-1z" fill="#d95319"/><path d="M244 52h1v.5h-1zM244.5 52.5h1.5v.5h-1.5zM244 53h3v.5h-3zM251 53h1v1h-1zM244.5 53.5h3v1h-3zM244.5 54.5h5.5v.5h-5.5zM244.5 55h7v.5h-7zM244.5 55.5h8.5v.5h-8.5zM252 56h1v.5h-1zM244.5 56h7v.5h-7zM256 56.5h1v.5h-1zM252.5 56.5h.5v.5h-.5zM245 56.5h7v.5h-7zM260.5 56.5h1v1h-1zM256 57h.5v.5h-.5zM245 57h9v.5h-9zM244.5 57.5h7v.5h-7zM252 57.5h2v.5h-2zM262.5 57.5h1v.5h-1zM262.5 58h2.5v.5h-2.5zM244.5 58h10v.5h-10zM256.5 58h.5v.5h-.5zM255.5 58.5h1.5v.5h-1.5zM245.5 58.5h9.5v.5h-9.5zM264 58.5h1v.5h-1zM262 58.5h1v1h-1zM245.5 59h9v.5h-9zM260 59h1v.5h-1zM255 59h1.5v.5h-1.5zM246.5 59.5h9.5v.5h-9.5zM245 59.5h1v.5h-1zM260 59.5h.5v.5h-.5zM264.5 59.5h.5v.5h-.5zM245 60h11.5v.5h-11.5zM264 60h1v.5h-1zM245 60.5h3v.5h-3zM258.5 60.5h.5v.5h-.5zM259.5 60.5h2v.5h-2zM265.5 60.5h1v.5h-1zM248.5 60.5h8v.5h-8zM245 61h.5v.5h-.5zM246.5 61h16v.5h-16zM265.5 61h.5v.5h-.5zM268 61h1v1h-1zM247 61.5h13v.5h-13zM261 61.5h1.5v.5h-1.5zM261 62h1v.5h-1zM269.5 62h.5v.5h-.5zM247 62h12.5v.5h-12.5zM245.5 62.5h14.5v.5h-14.5zM269.5 62.5h1v.5h-1zM267.5 62.5h1v.5h-1zM261 62.5h1.5v1h-1.5zM245.5 63h12.5v.5h-12.5zM258.5 63h1.5v.5h-1.5zM266.5 63h.5v.5h-.5zM261 63.5h1v.5h-1zM246 63.5h14.5v.5h-14.5zM262.5 63.5h1.5v.5h-1.5zM266.5 63.5h1v.5h-1zM274 64h1v.5h-1zM246.5 64h4v.5h-4zM251 64h13v.5h-13zM274 64.5h.5v.5h-.5zM267 64.5h.5v.5h-.5zM247 64.5h14v.5h-14zM261.5 64.5h2v.5h-2zM266 65h1.5v.5h-1.5zM273.5 65h1v.5h-1zM245.5 65h17.5v1h-17.5zM267 65.5h.5v.5h-.5zM273.5 65.5h.5v.5h-.5zM263.5 65.5h.5v.5h-.5zM264.5 65.5h2v.5h-2zM245.5 66h3.5v.5h-3.5zM249.5 66h17v.5h-17zM261.5 66.5h5v.5h-5zM245.5 66.5h4v.5h-4zM276.5 66.5h1v.5h-1zM250.5 66.5h10.5v.5h-10.5zM246 67h22.5v.5h-22.5zM276.5 67h.5v.5h-.5zM269 67h1v1h-1zM246 67.5h20.5v.5h-20.5zM267 67.5h1.5v.5h-1.5zM265 68h3.5v.5h-3.5zM246 68h18v.5h-18zM266 68.5h2.5v.5h-2.5zM269.5 68.5h1v.5h-1zM246 68.5h18.5v.5h-18.5zM277 68.5h1v1h-1zM246.5 69h18.5v.5h-18.5zM266 69h4.5v.5h-4.5zM277.5 69.5h1v.5h-1zM246.5 69.5h22v.5h-22zM278 70h.5v.5h-.5zM269 70h1v.5h-1zM267 70h1.5v.5h-1.5zM246.5 70h20v.5h-20zM271 70h.5v.5h-.5zM250 70.5h17v.5h-17zM271 70.5h1v.5h-1zM267.5 70.5h1v.5h-1zM269 70.5h.5v.5h-.5zM246.5 70.5h2v.5h-2zM249 70.5h.5v.5h-.5zM273 71h1v.5h-1zM269 71h1v.5h-1zM247.5 71h12.5v.5h-12.5zM260.5 71h8v.5h-8zM280.5 71h1v1h-1zM272 71.5h2.5v.5h-2.5zM271 71.5h.5v.5h-.5zM247 71.5h23.5v.5h-23.5zM247.5 72h25.5v.5h-25.5zM273.5 72h1v.5h-1zM278 72h1v1h-1zM248 72.5h21.5v.5h-21.5zM270 72.5h2v.5h-2zM273 72.5h1.5v.5h-1.5zM273 73h1v.5h-1zM269.5 73h.5v.5h-.5zM270.5 73h2v.5h-2zM247 73h5v.5h-5zM252.5 73h16.5v.5h-16.5zM269.5 73.5h3.5v.5h-3.5zM247 73.5h22v.5h-22zM273.5 73.5h1.5v1h-1.5zM250.5 74h20v.5h-20zM247 74h3v.5h-3zM271.5 74h1.5v.5h-1.5zM251 74.5h24v.5h-24zM248.5 74.5h1v.5h-1zM277.5 74.5h.5v.5h-.5zM248.5 75h.5v.5h-.5zM274 75h1v.5h-1zM277 75h1v.5h-1zM249.5 75h24v.5h-24zM249.5 75.5h14.5v.5h-14.5zM272 75.5h3v.5h-3zM265 75.5h6.5v.5h-6.5zM275.5 75.5h.5v.5h-.5zM276.5 75.5h.5v.5h-.5zM278.5 76h.5v.5h-.5zM275.5 76h2v.5h-2zM248.5 76h1v.5h-1zM250 76h25v.5h-25zM250.5 76.5h25v.5h-25zM277.5 76.5h1.5v.5h-1.5zM248 76.5h1v.5h-1zM279.5 76.5h1v1h-1zM277.5 77h1v.5h-1zM251 77h24.5v.5h-24.5zM249.5 77h1v.5h-1zM274 77.5h1v.5h-1zM251 77.5h22.5v.5h-22.5zM247.5 77.5h3v.5h-3zM278.5 77.5h.5v.5h-.5zM275.5 77.5h2v.5h-2zM279.5 77.5h1.5v.5h-1.5zM249 78h24.5v.5h-24.5zM274.5 78h.5v.5h-.5zM278 78h2v.5h-2zM276 78h1.5v.5h-1.5zM247.5 78h1v.5h-1zM281 78h1v1h-1zM266.5 78.5h9.5v.5h-9.5zM248 78.5h1v.5h-1zM249.5 78.5h16.5v.5h-16.5zM276.5 78.5h3.5v.5h-3.5zM247.5 79h3.5v.5h-3.5zM280 79h1v.5h-1zM253 79h26v.5h-26zM251.5 79h1v1h-1zM267.5 79.5h3v.5h-3zM273 79.5h1.5v.5h-1.5zM250 79.5h.5v.5h-.5zM257 79.5h10v.5h-10zM271 79.5h.5v.5h-.5zM275 79.5h5.5v.5h-5.5zM253 79.5h3.5v.5h-3.5zM248 79.5h.5v.5h-.5zM267.5 80h9.5v.5h-9.5zM253 80h14v.5h-14zM250 80h1v.5h-1zM251.5 80h.5v.5h-.5zM277.5 80h3v.5h-3zM250 80.5h1.5v.5h-1.5zM253 80.5h26.5v.5h-26.5zM281 80.5h1v.5h-1zM251 81h1.5v.5h-1.5zM280.5 81h1v.5h-1zM253 81h.5v.5h-.5zM260.5 81h19v.5h-19zM254 81h6v.5h-6zM249.5 81h1v1h-1zM271.5 81.5h8.5v.5h-8.5zM254.5 81.5h16.5v.5h-16.5zM251 81.5h2.5v.5h-2.5zM280.5 81.5h1.5v.5h-1.5zM273 82h3.5v.5h-3.5zM252.5 82h17v.5h-17zM270 82h2.5v.5h-2.5zM277.5 82h3v.5h-3zM251 82h.5v.5h-.5zM281 82h1v1h-1zM279.5 82.5h1v.5h-1zM253 82.5h15v.5h-15zM273.5 82.5h3v.5h-3zM277.5 82.5h1.5v.5h-1.5zM268.5 82.5h4.5v.5h-4.5zM277.5 83h4.5v.5h-4.5zM253.5 83h23.5v.5h-23.5zM248 83h1v1h-1zM254 83.5h3v.5h-3zM280.5 83.5h1v.5h-1zM257.5 83.5h22.5v.5h-22.5zM254.5 84h3.5v.5h-3.5zM276.5 84h3v.5h-3zM251.5 84h2v.5h-2zM258.5 84h17.5v.5h-17.5zM280 84h2.5v.5h-2.5zM254 84.5h.5v.5h-.5zM255 84.5h2v.5h-2zM250.5 84.5h3v.5h-3zM258.5 84.5h24v.5h-24zM257.5 84.5h.5v.5h-.5zM253.5 85h2v.5h-2zM275 85h7v.5h-7zM250.5 85h1v.5h-1zM256 85h18v.5h-18zM253 85.5h29v.5h-29zM282 86h1v.5h-1zM280.5 86h1v.5h-1zM255.5 86h24.5v.5h-24.5zM253.5 86h.5v.5h-.5zM253.5 86.5h29v.5h-29zM254 87h.5v.5h-.5zM256.5 87h26.5v1h-26.5zM255 87h1v1h-1zM252.5 87.5h1v1h-1zM275.5 88h8v.5h-8zM261.5 88h13v.5h-13zM255.5 88h5.5v.5h-5.5zM255.5 88.5h2v.5h-2zM258.5 88.5h16v.5h-16zM275 88.5h8v.5h-8zM253.5 88.5h1v1h-1zM256.5 89h1v.5h-1zM258.5 89h24v.5h-24zM255 89h1v.5h-1zM277 89.5h3.5v.5h-3.5zM257 89.5h1.5v.5h-1.5zM281 89.5h1.5v.5h-1.5zM255.5 89.5h.5v.5h-.5zM259.5 89.5h17v1h-17zM258 90h.5v.5h-.5zM277 90h6v.5h-6zM275 90.5h1v.5h-1zM276.5 90.5h5.5v.5h-5.5zM259 90.5h15.5v.5h-15.5zM260.5 91h20.5v.5h-20.5zM259 91h1v.5h-1zM261.5 91.5h20v.5h-20zM259.5 91.5h1.5v.5h-1.5zM258 91.5h1v.5h-1zM282 91h1v1.5h-1zM260.5 92h.5v.5h-.5zM258.5 92h1.5v.5h-1.5zM262.5 92h15v.5h-15zM278.5 92h3v.5h-3zM255 92h1v1h-1zM262 92.5h15.5v.5h-15.5zM278.5 92.5h4.5v.5h-4.5zM262 93h21.5v.5h-21.5zM260 93h.5v.5h-.5zM260 93.5h1v.5h-1zM261.5 93.5h18v.5h-18zM280.5 93.5h3v.5h-3zM261.5 94h5v.5h-5zM267 94h16.5v.5h-16.5zM260 94h.5v.5h-.5zM262 94.5h.5v.5h-.5zM264 94.5h18v.5h-18zM282.5 94.5h1v.5h-1zM282 95h1.5v.5h-1.5zM264.5 95h17v.5h-17zM261 95h1v1h-1zM275 95.5h8.5v.5h-8.5zM264.5 95.5h10v.5h-10zM276.5 96h6.5v.5h-6.5zM264.5 96h11v.5h-11zM262.5 96h1.5v.5h-1.5zM279.5 96.5h3.5v.5h-3.5zM275 96.5h4v.5h-4zM263 96.5h11.5v.5h-11.5zM264 97h.5v.5h-.5zM265.5 97h13.5v.5h-13.5zM279.5 97h4v.5h-4zM267.5 97.5h12v.5h-12zM265.5 97.5h1.5v.5h-1.5zM280 97.5h3v.5h-3zM267.5 98h9.5v.5h-9.5zM277.5 98h5.5v.5h-5.5zM266.5 98h.5v.5h-.5zM265.5 98h.5v.5h-.5zM277 98.5h6v.5h-6zM268 98.5h8.5v.5h-8.5zM266.5 98.5h1v.5h-1zM268.5 99h13.5v.5h-13.5zM283 99h.5v.5h-.5zM281 99.5h2.5v.5h-2.5zM269 99.5h11.5v.5h-11.5zM263 100h.5v.5h-.5zM270.5 100h13v.5h-13zM269 100h1v.5h-1zM270 100.5h13.5v.5h-13.5zM263 100.5h2v.5h-2zM264 101h1v.5h-1zM269.5 101h14v.5h-14zM270.5 101.5h13v.5h-13zM270.5 102h12.5v.5h-12.5zM266.5 102h1v1h-1zM271 102.5h13v.5h-13zM269.5 102.5h1v1h-1zM271.5 103h12.5v.5h-12.5zM264 103.5h.5v.5h-.5zM274 103.5h9.5v.5h-9.5zM271 103.5h1v.5h-1zM273 104h10.5v.5h-10.5zM263.5 104h1v.5h-1zM266.5 104h1v1h-1zM272 104.5h.5v.5h-.5zM264 104.5h.5v.5h-.5zM273 104.5h11v.5h-11zM267.5 105h1v.5h-1zM274.5 105h9v.5h-9zM272 105h1v.5h-1zM274.5 105.5h1v.5h-1zM267.5 105.5h.5v.5h-.5zM276 105.5h8v1h-8zM277 106.5h7v1h-7zM273.5 107h1v1h-1zM277.5 107.5h7v.5h-7zM278.5 108h6v.5h-6zM279 108.5h5v1h-5zM278.5 109.5h5.5v.5h-5.5zM279 110h.5v.5h-.5zM281 110h3.5v1h-3.5zM282.5 111h2v.5h-2zM282 111.5h2.5v.5h-2.5zM283 112h1.5v.5h-1.5zM283.5 112.5h1.5v.5h-1.5zM284 113h.5v.5h-.5z" fill="#0072bd"/>
<path d="M226.1 87.9L226.1 23M226.1 87.9L288 118.6M288 118.6L369 96.4M226.1 87.9L224.04 86.88M226.1 66.27L224.04 65.24M226.1 44.63L224.04 43.61M226.1 23L224.04 21.98M288 118.6L285.78 119.21M267.37 108.37L265.15 108.97M246.73 98.13L244.52 98.74M226.1 87.9L223.88 88.51M288 118.6L290.06 119.62M328.5 107.5L330.56 108.52M369 96.4L371.06 97.42" stroke="#4d4d4d" stroke-width="0.55" fill="none"/>
<g font-family="Liberation Serif, serif" font-weight="bold" font-size="5.25" fill="#111" stroke="#111" stroke-width="0.1"><text x="222.3" y="89.55" text-anchor="end">0</text><text x="222.3" y="67.92" text-anchor="end">100</text><text x="222.3" y="46.28" text-anchor="end">200</text><text x="222.3" y="24.65" text-anchor="end">300</text><text x="283.8" y="125.35" text-anchor="end">0</text><text x="263.17" y="115.12" text-anchor="end">100</text><text x="242.53" y="104.88" text-anchor="end">200</text><text x="221.9" y="94.65" text-anchor="end">300</text></g>
<g font-family="Liberation Serif, serif" font-weight="bold" font-style="italic" font-size="5.5" fill="#111" stroke="#111" stroke-width="0.1"><text x="291.4" y="125.7">Horizontal</text><text x="331.9" y="114.4">Vertical</text><text x="372.4" y="102.5">Diagonal</text><text x="253.55" y="125.15" text-anchor="middle">x</text><text transform="translate(211.9 56.45) rotate(-90)" text-anchor="middle">y</text></g>
<text x="280.3" y="151.4" font-family="Liberation Serif, serif" font-size="12" fill="#000" stroke="#000" stroke-width="0.25">(b) CAI</text>
<path d="M514.4 66.3L577 97.1M514.4 44.4L577 75.2M434.1 67.1L514.4 44.4M514.4 22.5L577 53.3M434.1 45.2L514.4 22.5M514.4 0.6L577 31.4M434.1 23.3L514.4 0.6M577 97.1L577 31.4M496.7 119.8L577 97.1M556.13 86.83L556.13 21.13M475.83 109.53L556.13 86.83M535.27 76.57L535.27 10.87M454.97 99.27L535.27 76.57M514.4 66.3L514.4 0.6M474.25 77.65L474.25 11.95M474.25 77.65L536.85 108.45" stroke="#e6e6e6" stroke-width="0.6" fill="none"/>
<polygon points="523.8,15.1 577,41.3 577,97.1 523.8,70.9" fill="#edb120"/><path d="M530.7 23.3h.8M561.7 86h.8M544.9 73.3h.8M535.6 67h.8M538.9 25.6h.8M528.3 71.8h.8M531.2 48.2h.8M528.1 44.3h.8M575.6 68.8h.8M553.7 72.9h.8M551.2 56.8h.8M573.5 60.5h.8M576.7 60.6h.8M532.8 36h.8M524.7 35.3h.8M535.3 64.5h.8M560.2 87.2h.8M539.5 72.2h.8M561.1 48.8h.8M537.6 42.4h.8M562.1 64.3h.8M535.4 56.4h.8M524.4 58.3h.8M524.5 50.3h.8M530 30.9h.8M528.4 45.8h.8M539.3 65.1h.8M547.5 28.6h.8M527.9 59.7h.8M572.2 79.4h.8M557.3 52.7h.8M544.8 67.6h.8M551.6 32.5h.8M534.8 35.8h.8M566.6 81.2h.8M573.7 72.4h.8M570.3 48.5h.8M525.8 16.2h.8M569.9 88.1h.8M565 44.6h.8M556.9 64.8h.8M543.8 75h.8M535.4 29h.8M572.8 74.9h.8M527.4 38.1h.8M536.4 35.7h.8M559.9 73.5h.8M566.9 76.2h.8M545.3 27.3h.8M545.4 39.8h.8M562.8 88h.8M568 47.6h.8M536.2 27.6h.8M541.2 26.7h.8M534.4 47.1h.8M565.3 69.8h.8M538.5 62h.8M573 48.5h.8M576.6 80.5h.8M567.5 73.9h.8M535.4 36.8h.8M548.3 35.4h.8M544.2 48.5h.8M545.5 68.3h.8M543.2 69.2h.8M559.8 71.2h.8M538.7 77.2h.8M576.2 82.8h.8M556.9 44.4h.8M574.1 73.7h.8M570.3 89.9h.8M528.9 55.6h.8M544.9 47.8h.8M534.9 30.9h.8M544.8 54h.8M546.6 61h.8M534.7 37.2h.8M543.8 39.2h.8M549.8 79h.8M547.4 77.2h.8M546.7 38h.8M558.8 35.9h.8M541.5 24.1h.8M555.4 75.3h.8M542.2 67.2h.8M551.2 67.2h.8M537.2 73.1h.8M540.1 72.9h.8M574.9 50.1h.8M535.4 53.8h.8M529.3 48.5h.8M559.4 39.4h.8M538 45.3h.8M532 59.2h.8M550.5 63.1h.8M570.1 46h.8M538.1 39h.8M532.4 67.3h.8M560.4 49.5h.8M565.4 75.8h.8M536.2 73.9h.8M549.5 41.7h.8M576.2 80.4h.8M566.6 78h.8M565.4 70.4h.8M546.1 77.4h.8M547.3 61.8h.8M549.5 68.2h.8M558.9 58.7h.8M556.1 65.2h.8M550.4 74.8h.8M546.7 38.4h.8M546.9 44.3h.8M538.9 32.7h.8M524.1 58.4h.8M537.2 26h.8M550.9 38h.8M525 43.3h.8M570.3 67.2h.8M526.3 63.1h.8M550.3 82.9h.8M551.3 48.6h.8M531.8 39.5h.8M544.6 37.8h.8M533.3 69.8h.8M557.4 76.3h.8M547.5 36.4h.8M542.5 36h.8M564.4 69.1h.8M536.4 52.5h.8M568.7 53h.8M569.9 81h.8M562.7 52.3h.8M533.9 30.2h.8M551.7 53.5h.8M575.1 59h.8M566.5 84.2h.8M547 64h.8M573.8 90.1h.8M560.2 86.2h.8M565.7 37.6h.8M540.3 77.4h.8M569.3 90.8h.8M557.3 35.1h.8M553.1 60.4h.8M529 44h.8M555.5 47.4h.8M569.8 41h.8M554.6 58.1h.8M557.2 32h.8M546.8 33.7h.8M570.3 93.2h.8M554.5 53.2h.8M542.2 45.7h.8M555.2 51.7h.8M526.6 40.4h.8M557.6 35.7h.8M530.6 30.2h.8M559.3 48.1h.8M555.7 38.6h.8M539.5 70.9h.8M548.3 67h.8M527.4 59.2h.8M529.9 63.3h.8M561.9 71.7h.8M559.8 39.2h.8M542.7 48h.8M534.8 36.6h.8M571 93.4h.8M528.8 18.9h.8M558.1 85.4h.8M569.4 48h.8M562.9 86.7h.8M534.5 50.2h.8M563.4 64.6h.8M570.7 88h.8M545.2 61.2h.8M528.4 40.7h.8M560.3 33.3h.8M549.8 54.4h.8M556.3 53.8h.8M526.9 35.7h.8M531 67h.8M551 47h.8M524.9 47.9h.8M565.1 85.4h.8M554.8 63.2h.8M547 42.4h.8M536 66.6h.8M539.5 47.3h.8M554.8 70.3h.8M527.1 22h.8M524.8 58.4h.8M531.7 33.8h.8M552.8 34.9h.8M533.4 59.5h.8M562.8 46.2h.8M567.8 82h.8M573 66.2h.8M534.3 61.2h.8M525.1 63.8h.8M561.2 36.3h.8M538.7 57.9h.8M563 52.1h.8M535.9 29.1h.8M568.1 61.7h.8M549.4 34.3h.8M534.9 28h.8M525.4 32.7h.8M541.2 33h.8M540.4 58.3h.8M555.4 53h.8M568 39.4h.8M534.1 54.5h.8M572.7 82.6h.8M537.2 38.8h.8M560.5 87.9h.8M574.2 51.9h.8M569.1 90.9h.8M548.6 52.7h.8M560.1 85.2h.8M570 57.1h.8M559.8 75.5h.8M534.5 41.1h.8M538.3 28.6h.8M552.3 49.9h.8M557.4 81.3h.8M524.3 28.9h.8M549.8 41.4h.8M541.1 57.3h.8M532.4 68.2h.8M550 42.5h.8M543.7 55.8h.8M553.3 57.3h.8M532.5 27.8h.8M536.4 53.9h.8M553.1 68.2h.8M532.9 24.5h.8M564.3 58.2h.8M558.4 38.1h.8M541.2 44h.8M570.2 43.6h.8M527.6 50.2h.8M575.8 70.2h.8M527.5 59.9h.8M561.6 66.2h.8M529.6 73h.8M560.7 55.3h.8M535.4 62h.8M548.6 34h.8M553.8 61.7h.8M548.3 52.8h.8M524 65.6h.8M529.1 20h.8M560.8 64.9h.8M564.1 43.7h.8M527.3 44.4h.8M570.5 82.9h.8M572.5 78.3h.8M542 55.4h.8M567 59.9h.8M576.6 88.9h.8M542.6 62h.8M571.6 60.4h.8M564.6 84.9h.8M538 65.5h.8M526 62.2h.8M552.9 35.3h.8M552 38.6h.8M574 63.7h.8M550.2 47.8h.8M566.6 48.6h.8M548.3 40.6h.8M571.4 62.8h.8M561.9 51.2h.8M530.8 25.9h.8M559.2 85.4h.8M534.3 70.3h.8M541.7 76.8h.8M571.2 76.7h.8M552.7 66.8h.8M549.3 79.7h.8M551.5 61.8h.8M566.6 86.7h.8M560.9 64.8h.8M537.2 59.5h.8M545.8 47h.8M555.2 58.2h.8M552.8 53.4h.8M552.9 73.5h.8M550.7 45.5h.8M547.3 79.2h.8M529 53h.8M576 84.9h.8M544.5 42.4h.8M573 39.4h.8M572.3 43.8h.8M526.2 33.9h.8M543.5 35.3h.8M550 37.5h.8M534.4 28.1h.8M549.2 73.2h.8M530.5 26.8h.8M529.8 48.2h.8M524.8 37.1h.8M573.8 65.8h.8M556.4 42.9h.8M566.5 76.1h.8M539.7 53.8h.8M543.9 66.4h.8M558.2 84.2h.8M569.4 57.5h.8M549.8 61.2h.8M571 44.4h.8M536.8 21.8h.8M551.2 39.1h.8M572.2 65.8h.8M536.6 73.5h.8M563.5 40.6h.8M550.2 67.6h.8M539.1 56.9h.8M556.7 65.6h.8M566.1 37h.8M547.1 35.3h.8M537.8 57.9h.8M531.1 46.2h.8M566.6 65.4h.8M554.9 82.2h.8M539 77.9h.8M571.5 58.7h.8M575.5 74.9h.8M529.5 45.4h.8M557.7 38.3h.8M531.8 72.8h.8M533.1 73.7h.8M540.1 43.2h.8M524.9 29.9h.8M565.7 44.1h.8M552.5 51.9h.8M565.3 66h.8M567.5 68.9h.8M562.3 52.1h.8M558.9 66.4h.8M567.1 50.2h.8M548.7 65.4h.8M529.8 51.4h.8M550 74.8h.8M568.8 74.4h.8M569.4 74.2h.8M536.7 47.3h.8M559.4 76.8h.8M573.2 50.6h.8M532.4 44.3h.8M526.2 24.2h.8M545.4 66.3h.8M573.7 80.4h.8M564.3 38.3h.8M539.7 59.2h.8M537.4 35.7h.8M572.6 76.2h.8M525.3 63.5h.8M570.2 72.2h.8M523.9 34.4h.8M543.7 48.7h.8M552 34h.8M534 53.9h.8M534 38.1h.8M571.6 45.3h.8M567.4 67.2h.8M527 29.3h.8M527.5 45.9h.8M532.3 51.2h.8M576.9 85h.8M548.1 41.2h.8M562 49.9h.8M546.8 78.5h.8M571 44.2h.8M536.6 30.8h.8M571.2 49.1h.8M562.4 87.4h.8M564.8 62.9h.8M529.8 21.1h.8M559.1 66.8h.8M563.5 67h.8M559.6 80.2h.8M554.4 79.9h.8M548.5 41.5h.8M542.7 67.1h.8M556.6 63h.8M540 48.9h.8M540.6 57.1h.8M551.8 67.8h.8M564.5 90h.8M534.4 69.5h.8M552.8 59.4h.8M554.1 60.3h.8M553.4 67.6h.8M531.7 72.9h.8M537.7 23.1h.8M528 36.5h.8M572.2 76.6h.8M561.6 50.9h.8M554.7 42.3h.8M560.3 49.1h.8M531 48.2h.8M574.8 64h.8M567.4 71.5h.8M529.5 48.5h.8M571.4 83.9h.8M524.6 26.5h.8M551.9 78.9h.8M528.4 37.1h.8M538.7 42h.8M542.9 63.1h.8M561.9 63.8h.8M537.2 47.7h.8M564.3 80.3h.8M574.6 90.6h.8M561 36.9h.8M555.1 35.5h.8M573.7 84.7h.8M553.5 81.5h.8M549 78.3h.8M540.3 71.3h.8M544.1 64.8h.8M575 95.6h.8M534.9 52.9h.8M574.8 87h.8M550.8 30.4h.8M573.6 73.5h.8M554 49.6h.8M569.6 60.8h.8M530.5 46.3h.8M529.2 32.7h.8M563.9 36.4h.8M571.9 61h.8M545.4 70.1h.8M544.6 51.6h.8M541.9 61.4h.8M562.5 62.4h.8M531.1 52.5h.8M573.1 65.4h.8M561.6 87.2h.8M526.4 49.6h.8M566.8 78.5h.8M564.7 58.8h.8M538.3 74.9h.8M562.9 83.4h.8M537.8 61.8h.8M573.8 52.6h.8M560.8 38.1h.8M533.9 54.5h.8M543 44.8h.8M548.6 71.1h.8M534.4 32.6h.8M571.1 80.2h.8M566 51.8h.8M564.5 45.6h.8M569.1 69.9h.8M563.7 50.6h.8M540.2 63.4h.8M557.3 36.7h.8M532.7 60.1h.8M565.3 82.1h.8M553.5 73h.8M534.8 53.3h.8M557 61.8h.8M541.5 61.4h.8M540.1 24.3h.8M535.4 65.1h.8M573.2 54.7h.8M535 20.8h.8M564.1 51.9h.8M574.3 40.7h.8M569.7 48.1h.8M540.1 31.2h.8M567.8 43.5h.8M540.8 51.8h.8M545 69.4h.8M561.6 42.9h.8M525.5 24.5h.8M571.1 59.8h.8M534.5 34.3h.8M550.5 29.5h.8M547.6 39.6h.8M533.7 33.8h.8M551.8 66.8h.8M535.1 62.2h.8M570.6 74.2h.8M557.3 44.2h.8M530.2 46.7h.8M565.8 49.4h.8M531.4 31.9h.8M540.6 77h.8M556 78.1h.8M537.7 45.8h.8M557.3 34.9h.8M560.1 61.3h.8M542.9 46.7h.8M551.1 53.8h.8M566.1 56.1h.8M557.8 45.2h.8M552.3 73.3h.8M562.7 49.6h.8M563.6 82.4h.8M562.4 62.5h.8M532.3 55.4h.8M575.7 92.1h.8M544.2 58h.8M556.1 54.8h.8M532.1 50.5h.8M568.2 69.4h.8M570.8 55.7h.8M529.2 44.2h.8M540.1 49h.8M541.1 61.8h.8M543.8 53.5h.8M541.7 37.3h.8M562.8 66.6h.8M537.9 50.3h.8M572.3 45.8h.8M559.3 38.4h.8M555.3 59.2h.8M556.8 70.8h.8M575.3 62.6h.8M576.2 92.1h.8M546 26.8h.8M540.4 56h.8M549.6 53.1h.8M553 44h.8M565.8 91.5h.8M557.3 59.3h.8M538.7 62.9h.8M531 54.6h.8M555.9 70.3h.8M537.8 45.5h.8M576.5 57.7h.8M564.4 57.3h.8M550.7 69.5h.8M536.3 44h.8M532.2 71.6h.8M559.7 34.2h.8M571.3 41.1h.8M534 60.2h.8M538.3 34.5h.8M538.8 73.1h.8M569.2 58.2h.8M526.6 46.9h.8M535.4 41.5h.8M540.8 63.9h.8M557.7 50.8h.8M556.4 41.3h.8M538.6 49.1h.8M546.7 49.7h.8M575.6 86.5h.8M529.6 19h.8M552.4 71.2h.8M562.8 53.1h.8M533.3 40.4h.8M576.7 87h.8M540.5 62.6h.8M564.2 51.8h.8M560.6 78.1h.8M536.2 35.4h.8M553 80.2h.8M527.5 70.8h.8M536.6 67.1h.8M531.5 71.6h.8M529.1 36.5h.8M549.1 73.7h.8M541.6 39.3h.8M551.8 44.4h.8M551 35.1h.8M561.3 36.1h.8M575.9 68.1h.8M557.1 45.5h.8M525.6 23.1h.8M547 71.6h.8M533 55.6h.8M534.3 23.8h.8M540.7 54.4h.8M567.1 81.8h.8M564.8 81.1h.8M535.4 28.3h.8M530.1 36.5h.8M524.3 68.2h.8M556.7 44.9h.8M572.4 57.8h.8M527.5 70.1h.8M544.8 61.5h.8M553.1 55.2h.8M568.3 73.3h.8M569.3 41h.8M565.5 66.6h.8M535.2 34.7h.8M538.7 69.5h.8M551.8 44.4h.8M529 49.2h.8M529.7 38.3h.8M570 78.3h.8M532.9 29.5h.8M555.7 72.4h.8M535.7 64.1h.8M542.1 34.8h.8M575 82.8h.8M566.1 54.3h.8M526.7 19.3h.8M570.9 48.1h.8M547.1 59.8h.8M543 55.6h.8M526.9 28.7h.8M563.9 55.2h.8M543.2 52.6h.8M565.5 70.4h.8M558.3 65.6h.8M531.6 43.5h.8M563.3 55.1h.8M535.1 40h.8M530.6 74h.8M551.5 59.6h.8M555.8 44.9h.8M530.1 54h.8M555.9 53.7h.8M525.1 63.2h.8M565.5 76.6h.8M549.2 60.4h.8M549.7 34h.8M558.9 64.6h.8M567.3 45.1h.8M559.6 81.4h.8M564.9 81.5h.8M561.9 89.4h.8M574.2 77.1h.8M544.7 63.5h.8M559 41.9h.8M527.4 37.8h.8M562.4 39.5h.8M563.8 50.1h.8M551.9 59.4h.8M576.3 42h.8M558.8 84.7h.8M568.5 59.4h.8M572.7 44h.8M573.7 87.1h.8M561.1 43.4h.8M573 56.7h.8M558.6 53.8h.8M533.3 21.7h.8M567 54.2h.8M569.5 86.1h.8M555.5 45.8h.8M550.1 69.2h.8M533.3 27.3h.8M550.5 77.6h.8M529.2 44.7h.8M571 84h.8M575.1 93.2h.8M530.6 37.9h.8M545.3 40.3h.8M562.1 79.1h.8M535.3 48.8h.8M574.6 50.8h.8M555.4 39.9h.8M551.6 53.4h.8M567.8 68h.8M550.8 52.5h.8M557.9 83.4h.8M536.6 62.8h.8M550.1 76.3h.8M534.7 42.1h.8M569.5 57.3h.8M576.8 55.3h.8M559.8 52.7h.8M546.8 38.5h.8M555 47.4h.8M573.7 65.3h.8M566.4 76.8h.8M572.4 81.2h.8M525.8 65h.8M551.5 60.1h.8M541.5 55.7h.8M539.5 54.2h.8M575.7 73.5h.8M571.4 66.2h.8M542.4 44.9h.8M556.6 33.5h.8M563.8 74.6h.8M563.4 37.2h.8M573.5 81.9h.8M560.4 77.2h.8M565.4 49.2h.8M560 52.8h.8M564.9 47h.8M542 68.4h.8M541 64.1h.8M558.9 82.1h.8M552.2 73.4h.8M552.4 59.6h.8M545.6 58.4h.8M554.2 82.3h.8M558.4 65.5h.8M533.4 23.5h.8M532.7 25.2h.8M548.3 48.4h.8M536.1 56.6h.8M535.4 55.9h.8M533.1 38.6h.8M538.8 51h.8M560.9 62.9h.8M555.3 48.3h.8M533.1 67h.8M541.2 74h.8M537.9 49.2h.8M536.8 26.2h.8M545.2 72.1h.8M556.7 62.4h.8M537 76.1h.8M531.6 19h.8M540.2 35.3h.8M551.2 43.5h.8M562.8 62.8h.8M568.2 52.6h.8M539.6 48.3h.8M557.8 57.5h.8M556.1 39.8h.8M531.2 23.1h.8M556.2 80.1h.8M550.4 71.3h.8M553.4 46.5h.8M535.6 46.5h.8M530.6 23.7h.8M546.9 61.2h.8M543.9 54.4h.8M537.1 51.8h.8M560.9 71.8h.8M551.7 77.1h.8M536.1 59.9h.8M574.6 54.3h.8M575.3 87.3h.8M561.1 79.6h.8M556.6 85h.8M570.2 74h.8M573.9 92.4h.8M562.2 62.8h.8M542.2 48h.8M567.2 56.7h.8M555.4 49.2h.8M541.6 25.4h.8M548.7 62.3h.8M560.9 34.9h.8M536 37.6h.8M535.8 61.4h.8M566.6 85.3h.8M527.9 36.5h.8M535.5 38.5h.8M560.7 66.2h.8M543.7 42.8h.8M563.3 42h.8M569.6 61.3h.8M544 75.7h.8M563 42.4h.8M532.9 50.3h.8M557.6 55.8h.8M525 58.5h.8M555.5 56.2h.8M560.6 69.6h.8M552.3 72.5h.8M527.2 69.6h.8M566.7 41.6h.8M553.7 32.9h.8M553.6 82.9h.8M548.2 55.2h.8M541 76.6h.8M541 33.5h.8M552.5 54h.8M550.6 60.6h.8M528.5 29.2h.8M539 69.8h.8M541.8 38.9h.8M570.2 69.3h.8M551.1 39.3h.8M531.6 20.6h.8M547.4 49.8h.8M551.7 33h.8M542.3 47.7h.8M568.2 38.3h.8M555.6 76.9h.8M563.9 76.3h.8M530.3 41.6h.8M528.3 47.2h.8M529.5 44.6h.8M560.3 48.9h.8M528.4 66.2h.8M571.3 57h.8M571.9 81.9h.8M569.2 87.4h.8M550.8 50h.8M555.2 81.5h.8M566.5 54.6h.8M528.4 49.9h.8M566.3 37.3h.8M527.5 55.2h.8M565.3 75.3h.8M548.4 39.8h.8M523.8 68.4h.8M569.3 57.2h.8M563.3 71.4h.8M550.6 51.2h.8M560.7 43.1h.8M543.9 61.2h.8M548.6 50.7h.8M539 73.2h.8M526.2 16.3h.8M530.5 49.7h.8M527.1 58.8h.8M542.8 77.3h.8M573.1 44.6h.8M567.1 41.2h.8M530.1 37.5h.8M570.3 51.5h.8M564 44.9h.8M546 40.6h.8M567.3 88.5h.8M524.4 34.6h.8M576.7 74h.8M545.4 27.8h.8M525.2 32h.8M575.7 85.6h.8M563.9 77.7h.8M568.4 84.6h.8M569.9 72h.8M526.7 36.2h.8M536.2 36.5h.8M554.1 62.1h.8M537.9 29.2h.8M567.7 38.2h.8M525.9 27.9h.8M548.6 51.3h.8M557.2 34.9h.8M542.7 65.8h.8M536.9 34.1h.8M543.9 55.1h.8M540.3 53.4h.8M530.9 25.8h.8M544.9 56.8h.8M527.7 25.8h.8M547 66.2h.8M534.3 30.5h.8M547.2 54.3h.8M545.8 68.9h.8M559.9 84.1h.8M533.3 72.5h.8M549.4 30.4h.8M550.6 62.5h.8M550.2 53.4h.8M529.8 29.9h.8M549.1 34.8h.8M534.6 37.5h.8M551.7 65.6h.8M568.4 73h.8M544.2 74.2h.8M536.4 71.5h.8M524.4 43.1h.8M575.1 83.3h.8M525.3 61.3h.8M557.8 44.6h.8M571.5 91.2h.8M547.6 48h.8M548.1 62.2h.8M560.3 55.5h.8M531.3 38.2h.8M556.2 71.1h.8M550.5 31.5h.8M570.3 80.8h.8M526.6 59.2h.8M540.7 46.9h.8M565.3 88.8h.8M526 58.5h.8M546.6 34.3h.8M563.8 79.1h.8M565.4 65.3h.8M527.8 30.7h.8M566.6 64.3h.8M529.2 46.6h.8M529.3 65.4h.8M558.2 52.6h.8M547.6 58.9h.8M538.5 41.5h.8M546.6 59.4h.8M526.1 70.6h.8M563.4 83.8h.8M567.2 67.3h.8M562.7 77h.8M543.8 64.1h.8M549.3 66.1h.8M527.9 53.4h.8M524.2 59.5h.8M530.1 36h.8M535.7 73.7h.8M574.3 78h.8M553.2 37.8h.8M556.1 65.2h.8M548.1 73.2h.8M542 64.9h.8M575.4 88.3h.8M553.2 50.9h.8M571.2 68.8h.8M542.2 43.4h.8M556.2 84.3h.8M532.3 53h.8M536.4 34.8h.8M570.8 78.2h.8M574.8 43.1h.8M536.2 54.8h.8M539.8 34.8h.8M529.2 39.6h.8M569.3 90.7h.8M538.2 57.9h.8M542.9 54.4h.8M545.4 27.7h.8M564.8 61.6h.8M564.5 55h.8M548.5 77h.8M552.9 37.2h.8M528.1 27.8h.8M564.3 49.2h.8M570.3 83.6h.8M561 38.8h.8M557.2 67.4h.8M537.8 60h.8M537.7 29h.8M551.6 53.5h.8M557 60.1h.8M549.4 48.7h.8M543.9 44.2h.8M551.4 30.8h.8M530.5 66.7h.8M557.6 55.5h.8M565.4 63.8h.8M541.6 63.1h.8M541.6 36.6h.8M551.9 82.6h.8M574.5 58.4h.8M567.1 45.1h.8M555.5 56.7h.8M544.9 63.1h.8M529.7 69.2h.8M566.4 53.1h.8M570.6 53.4h.8M576 51.5h.8M544.6 75.2h.8M561.7 34.4h.8M527.9 37.7h.8M570.2 92.3h.8M566.7 81.5h.8M558.8 54.6h.8M535.3 76.3h.8M571.3 91.6h.8M540 76.1h.8M550.2 59.8h.8M543.2 31.5h.8M533.5 54.1h.8M562.7 44.7h.8M527 19.7h.8M533.8 50h.8M525.2 42.9h.8M531 61.1h.8M526.6 63.5h.8M541.7 24.1h.8M551.8 81h.8M526.9 47.9h.8M532.4 60.4h.8M551.8 59.1h.8M550.3 35.8h.8M565.7 58.6h.8M523.8 48.8h.8M562.4 69h.8M560.8 33.7h.8M563.7 54.5h.8M531.5 38.7h.8M568.2 53.9h.8M534.7 52.1h.8M543.7 27.3h.8M537.7 62.8h.8M564.8 81.8h.8M563.1 55.5h.8M530.5 59.2h.8M556.5 50.6h.8M559.2 33.1h.8M532.7 70.5h.8M534.7 58h.8M561.2 82.3h.8M544.1 56.7h.8M549.8 58.5h.8M565.4 79h.8M570.2 58.9h.8M541.1 40.9h.8M533.5 49.2h.8M560.2 82.2h.8M570.8 50.2h.8" stroke="#fff" stroke-opacity="0.95" stroke-width=".8" fill="none"/><polygon points="483.6,26.4 536.9,52.6 536.9,108.5 483.6,82.3" fill="#d95319"/><path d="M519.5 73.5h.8M484.3 55.7h.8M519.9 99.4h.8M494.9 58.6h.8M490.6 43.3h.8M516 58.2h.8M513.6 56.3h.8M517 61.3h.8M531.2 100.8h.8M511.4 69.1h.8M524 77.2h.8M523.2 72.1h.8M527 94.2h.8M526.5 83.3h.8M493.5 55.3h.8M514.3 69.6h.8M523.2 81.6h.8M505.4 75.9h.8M504.7 88.8h.8M502.4 87.7h.8M488.4 33.9h.8M528.9 68.8h.8M517.1 92h.8M521.7 55.2h.8M536 60.6h.8M527.2 65.1h.8M515.8 71.4h.8M515.9 45.7h.8M504 87h.8M512.8 62.1h.8M504.5 58.6h.8M525 94.5h.8M529.7 90.9h.8M519.3 90.8h.8M531.7 83.6h.8M517.4 60.6h.8M512.4 94.5h.8M498.6 81.4h.8M490.7 47.6h.8M534.1 57.1h.8M486 43.3h.8M498.5 61.2h.8M484.2 37.9h.8M530.5 83.6h.8M516.9 52.6h.8M510.1 67.4h.8M497.1 43.5h.8M520.3 54.9h.8M512.9 83h.8M522.2 100.3h.8M512.9 63.3h.8M509.7 57.8h.8M506.8 55h.8M499.4 73.8h.8M524 100.8h.8M503.3 57.2h.8M532.1 66.6h.8M504.3 89h.8M512.4 85.4h.8M529.7 87.4h.8M523.2 94.7h.8M533.4 71.1h.8M517 50.2h.8M515.4 47.4h.8M510.8 49.6h.8M533.1 77.1h.8M498.8 67.9h.8M519.9 58.4h.8M521.9 83.3h.8M489.4 64.5h.8M504.9 69.6h.8M501.8 66.6h.8M508.6 43.6h.8M525.3 74.8h.8M528.8 79.7h.8M527.1 88.4h.8M518.7 71.7h.8M527.8 72.1h.8M511.4 66.2h.8M485.4 45.4h.8M497.5 61.4h.8M520.3 83.5h.8M520.5 64h.8M495.2 59.2h.8M485 40.8h.8M504.2 77.1h.8M523.2 84.6h.8M512.9 69.6h.8M528.5 73.8h.8M513.7 71h.8M489.5 54.9h.8M526.1 85.1h.8M513.3 95h.8M503.2 90.6h.8M486.4 69.1h.8M503.4 88.5h.8M513.3 85.6h.8M502.1 75.4h.8M521.2 65.9h.8M531.6 50.1h.8M492.6 48.1h.8M512 75.9h.8M487.5 40.4h.8M526.9 87.9h.8M536.2 62.3h.8M509.5 69.5h.8M498.9 68.1h.8M484.2 81.5h.8M502.9 79.3h.8M532 71.4h.8M507.1 39.9h.8M516.3 66.8h.8M527 63.5h.8M493.3 62.4h.8M498.8 58.5h.8M493.8 44.2h.8M504.4 90.9h.8M499.7 68.1h.8M500.3 56.2h.8M523.3 80.8h.8M507.1 70.9h.8M490.4 84.1h.8M517.2 73.3h.8M528 90.5h.8M535.7 96.4h.8M532.6 51.8h.8M513.7 94.8h.8M535.8 89h.8M500.7 62.4h.8M498.3 84.6h.8M487.1 59.8h.8M497.3 46.7h.8M514.1 83.3h.8M495.5 66.7h.8M496.5 50h.8M533.4 71.7h.8M535.4 101.7h.8M526.5 85h.8M486.4 48.5h.8M516.6 55.3h.8M493.3 77.3h.8M517.4 78.3h.8M502.3 52.2h.8M517 94.5h.8M493.2 74.9h.8M509.4 92.7h.8M486.6 33h.8M493.6 76.7h.8M484.7 49.7h.8M519.2 90.1h.8M522.1 81h.8M502.4 45.5h.8M499.4 71.9h.8M514.2 50.8h.8M528.8 78.4h.8M523.6 46.2h.8M483.7 72.5h.8M520.5 57.1h.8M519.2 70.2h.8M509.5 83.1h.8M530.7 78.3h.8M528.8 69h.8M494.6 54.5h.8M510.7 71.8h.8M525.2 77.4h.8M488.6 83.2h.8M522.6 72h.8M500.4 49.2h.8M499.8 72.4h.8M531.8 102.3h.8M532.7 81h.8M495.7 43.3h.8M529.6 59.9h.8M526.4 93.3h.8M490.4 67.7h.8M507.5 71.4h.8M489.3 74.2h.8M489.7 72.4h.8M498 46.9h.8M532.3 77.4h.8M509.2 86.3h.8M523.2 94.9h.8M527.8 68h.8M513.8 49.2h.8M494.1 46.5h.8M486.6 77.6h.8M509.7 41.9h.8M509.8 63.7h.8M490.1 74.8h.8M505.9 67.1h.8M492.6 63.1h.8M510.4 40.6h.8M485.2 28.6h.8M499.3 46.4h.8M512.7 44.4h.8M528.2 61.9h.8M488.2 39.6h.8M533.7 85.5h.8M533.8 76.6h.8M535.9 79.8h.8M492.2 72.1h.8M498.6 86.5h.8M533.7 69.1h.8M533.8 62.7h.8M528 49.8h.8M500 73.9h.8M518.1 79.7h.8M493.7 63.7h.8M485.7 52.4h.8M502.2 39.6h.8M511.7 42.5h.8M490.5 43.4h.8M522.3 59.7h.8M498.5 71h.8M534.8 65.4h.8M522.8 76h.8M502.6 72.3h.8M497 36.1h.8M513.6 60.2h.8M512 47.4h.8M497.1 54.4h.8M497.7 53.5h.8M497.7 53.8h.8M488.8 71.8h.8M532.6 80h.8M521.3 72.8h.8M497.4 65.1h.8M489.3 40.7h.8M491.8 85.8h.8M513 47.8h.8M494.4 76.5h.8M505.6 87.2h.8M531.2 50.8h.8M491.9 31.9h.8M515 89h.8M536.1 54.1h.8M525.8 89.3h.8M524.9 71.2h.8M533.6 71.2h.8M485.7 79.9h.8M514.1 84.1h.8M507.1 81.1h.8M505.2 87.5h.8M486.6 76.7h.8M507.8 84.3h.8M518.7 98.1h.8M513.6 61.1h.8M520.4 80.3h.8M496.6 49h.8M490.5 64.7h.8M527.3 50.1h.8M535.3 68.5h.8M490.7 35.8h.8M502.4 83.9h.8M487.2 31.1h.8M519 85.3h.8M526.3 53.6h.8M489 62.3h.8M533.5 53.6h.8M495.2 35.6h.8M494.5 52.6h.8M492.1 44.1h.8M512.3 50.5h.8M524.9 79.7h.8M535.3 75.8h.8M511.9 61.9h.8M483.8 50.6h.8M518.5 75h.8M508.4 68.4h.8M529.1 87.8h.8M500.3 81h.8M492.3 55.3h.8M520.5 50.6h.8M508.4 80.2h.8M522.3 56.7h.8M521.4 69.1h.8M534.2 69.7h.8M515 57.7h.8M492.1 31.1h.8M496.4 34.9h.8M499.5 70.7h.8M516.2 72.5h.8M509.3 76.4h.8M504.3 51.2h.8M530.9 69h.8M493.3 42.5h.8M522.1 63.5h.8M517.6 82.9h.8M533.2 70h.8M512.6 44.7h.8M497.2 43.1h.8M515.3 67.1h.8M508.6 75.8h.8M504.2 61.6h.8M487.5 34.3h.8M491.7 66.3h.8M511 78h.8M519.3 81.6h.8M492.7 75.1h.8M508.5 81.4h.8M493 49.5h.8M528.2 74.8h.8M523.1 68.3h.8M500.8 80.1h.8M505.1 79.6h.8M519.2 70.8h.8M517.3 80.4h.8M518.1 77.9h.8M495.2 42.4h.8M533.2 80.9h.8M525.8 87.1h.8M501.4 36.6h.8M527.1 76.2h.8M504.8 37.9h.8M514.3 67.5h.8M493.7 62.1h.8M495.2 84.6h.8M521.4 57.5h.8M526.1 52.5h.8M533.6 72.5h.8M513.6 77.9h.8M513.5 94.9h.8M497.9 42.5h.8M497.5 73.1h.8M496.5 84.4h.8M499.7 37.7h.8M504 50.7h.8M514.2 75.2h.8M525.3 48.1h.8M497.4 75.4h.8M494.9 41.2h.8M528.2 79.4h.8M523.2 100.8h.8M507.9 91h.8M522.8 82.7h.8M510.8 94.4h.8M488.8 69.9h.8M519.7 83.5h.8M503.2 42h.8M505.9 73.8h.8M517.6 59.4h.8M519.3 79.6h.8M514.2 82.9h.8M536.7 76.8h.8M530.9 99h.8M494.7 47.9h.8M528.3 102h.8M521.7 69h.8M511.9 47.7h.8M493.6 70.4h.8M498.2 42.1h.8M512.2 75.1h.8M497.8 69.4h.8M522.4 64.9h.8M494.1 44.6h.8M533.7 106h.8M523.2 52.7h.8M523.2 99.5h.8M515.5 47.9h.8M530.1 84.3h.8M489.4 55.4h.8M519 56.9h.8M506.2 52.1h.8M532.3 73.1h.8M510.6 91.6h.8M514.7 63.9h.8M534.4 79.4h.8M509.4 88.7h.8M500.5 89.2h.8M493.3 85.2h.8M498.8 62.3h.8M495.9 81.6h.8M504.1 81.9h.8M499.5 85.8h.8M514.9 59h.8M511.9 45h.8M517.6 97.1h.8M503 60.1h.8M514.9 46.6h.8M507.8 91.3h.8M490.5 64.7h.8M503.2 77.5h.8M509.2 65h.8M512.2 83.4h.8M499.1 88.2h.8M497.2 37.4h.8M488.7 29.8h.8M519.5 95h.8M511.9 40.6h.8M505.3 91.8h.8M494.9 79.3h.8M509.4 73.1h.8M527.1 60.5h.8M497.9 40h.8M529.5 81h.8M510.4 85h.8M484.1 34.4h.8M489.7 51.1h.8M489.1 46.6h.8M525 78.4h.8M536 91h.8M532 106.1h.8M496.3 40.8h.8M486.4 60.3h.8M484.9 69.9h.8M513.1 51.8h.8M497.2 76.1h.8M493.3 79h.8M533.9 55.1h.8M507.9 72.8h.8M496 44.2h.8M516.2 56.6h.8M510.9 47.8h.8M535.9 69h.8M527.1 51.2h.8M529.1 63.3h.8M510.9 79.2h.8M487.3 48.1h.8M504.3 76h.8M507.5 83.3h.8M520.2 91.4h.8M531.5 56.2h.8M512.2 74.4h.8M511.5 85.3h.8M519.7 76.3h.8M533.7 75.3h.8M487 36.1h.8M503.4 58.7h.8M506.6 89.7h.8M505.9 53.3h.8M505.2 91.3h.8M505.2 51.9h.8M501.8 40h.8M522.6 63h.8M528.2 55.8h.8M506 38.6h.8M493.9 80.3h.8M514 52.1h.8M508.1 39.8h.8M533.7 87.1h.8M509.7 52.7h.8M520.6 65.3h.8M494 53.1h.8M532.4 92.5h.8M525.6 59.8h.8M495.6 34.4h.8M533.7 87.1h.8M520 73.1h.8M508.3 69.4h.8M509.6 72.2h.8M508.2 49.8h.8M485.2 27.2h.8M536.1 66.7h.8M499.9 63.5h.8M519.7 73.1h.8M521.5 96.8h.8M533.5 99.4h.8M523.9 55h.8M488.5 68.3h.8M488.2 58.8h.8M486.2 58h.8M510 49.1h.8M529.1 69.9h.8M533.5 96.6h.8M521 65.1h.8M511.2 83.2h.8M510.4 48.4h.8M490.5 63.1h.8M510.8 77.1h.8M495 50.2h.8M523 47.3h.8M485.1 28.3h.8M487.1 43.2h.8M518.9 46.7h.8M488.9 41.1h.8M504.5 87.4h.8M516.6 60.6h.8M518.6 91.8h.8M512 85.6h.8M533.8 92.5h.8M495.2 47.3h.8M522.1 81.5h.8M495.3 60.1h.8M530 52.8h.8M511.5 64.2h.8M529.6 99.9h.8M510.6 77.5h.8M499.7 64.2h.8M508.4 73.1h.8M528.8 96.3h.8M486.8 38.7h.8M488.9 74.8h.8M486.3 51.4h.8M511.9 83.1h.8M508.5 84.9h.8M527.2 77.4h.8M526.6 73.4h.8M502.4 82.6h.8M498 41.7h.8M513.8 49h.8M501.2 89.3h.8M500.8 58.7h.8M510.7 85.6h.8M515 72.9h.8M487.1 70.6h.8M527.9 88.9h.8M519.9 63.8h.8M489.4 60.2h.8M504 82.3h.8M506.7 50.7h.8M510.5 74.5h.8M521.3 90.4h.8M501.1 83.1h.8M507.1 38.9h.8M518.3 72.6h.8M508.6 91.8h.8M507.7 68.9h.8M502.9 68.3h.8M528.6 69.7h.8M534.8 57h.8M533.5 93.4h.8M514.6 83.1h.8M507.2 73.6h.8M494.6 86.1h.8M512.6 71.3h.8M492 80h.8M512.8 68.7h.8M532 102.7h.8M535 98.5h.8M509.6 76.8h.8M518.2 64.7h.8M531.8 59.2h.8M519.3 75.3h.8M495 55.9h.8M484.4 47.5h.8M534 84.6h.8M534 80.1h.8M533.2 65.3h.8M517.9 79.8h.8M516.8 92.5h.8M521.6 89.5h.8M494.9 49.1h.8M522.8 59.2h.8M518.3 55.6h.8M517.3 64.2h.8M514.1 53.4h.8M524.6 66.9h.8M500.7 64h.8M507.6 43.7h.8M502.3 40.2h.8M513.5 90.2h.8M520.5 83.2h.8M511.3 41.3h.8M495.9 44.4h.8M486.8 37.7h.8M497.1 40.2h.8M524.6 56.2h.8M515.6 64h.8M498.9 79.2h.8M491.4 44.8h.8M522.8 68.7h.8M526.2 92.9h.8M528.4 73.9h.8M500 67.8h.8M526.7 63.6h.8M501.2 57.8h.8M507.5 67.1h.8M494.7 63.5h.8M515.2 43.7h.8M505.5 38.7h.8M487.4 64.4h.8M527.7 51.2h.8M515.6 56.1h.8M507.3 81.8h.8M492.5 35.1h.8M515.4 54.2h.8M517.9 43.9h.8M502 75.4h.8M515.4 81.4h.8M516.2 57.5h.8M508.2 74.4h.8M526.8 70.7h.8M535.9 64.7h.8M512.3 83.2h.8M506.2 70.4h.8M515.8 90h.8M517.9 73.5h.8M508.5 65.9h.8M527.3 82.8h.8M533.2 93.9h.8M513.2 42.3h.8M528.5 79.3h.8M521.3 76.7h.8M517.4 88.2h.8M523.7 69.3h.8M510.2 59.6h.8M502.9 39.9h.8M529.7 89h.8M489.1 79.9h.8M502.7 66.8h.8M484.1 70.5h.8M492.4 34.2h.8M508.3 77.7h.8M500.2 51.1h.8M505.3 72.5h.8M530.5 92.6h.8M485.9 52.9h.8M521.4 82.5h.8M520 71.5h.8M534 97.7h.8M512.4 80.8h.8M523.2 57.9h.8M493.8 42.7h.8M506.8 76h.8M499.7 63.4h.8M522.2 83h.8M511.6 65.8h.8M513.3 88.4h.8M526.1 78h.8M511.4 62.8h.8M508.2 93.1h.8M499.9 45.3h.8M518.9 86.2h.8M517.7 69h.8M507.7 62.6h.8M490.4 80.5h.8M524.2 95h.8M494.3 50.2h.8M493.8 69.7h.8M530 81.4h.8M514.8 76.9h.8M530.6 57h.8M509.8 64.1h.8M490.8 51.8h.8M487.3 75.5h.8M531.4 61h.8M533.7 95.2h.8M493.6 60.1h.8M535.7 81.8h.8M492.6 31h.8M515.7 42.5h.8M501.8 66.9h.8M487.8 52h.8M525.1 94.4h.8M499 72.2h.8M506 67.6h.8M490.8 58h.8M503 75.8h.8M498.1 59.3h.8M486.5 33.7h.8M515.2 80.2h.8M514.6 78.5h.8M532.6 68.3h.8M493 58.8h.8M509.6 85.6h.8M484 76.6h.8M517.9 62.9h.8M489.2 39.1h.8M514.4 92.5h.8M492.4 42h.8M526.8 99.3h.8M532.9 85.1h.8M522.4 62h.8M492.5 64.6h.8M491.3 41.2h.8M528.3 55.5h.8M521 58.5h.8M502.3 76.5h.8M524 57h.8M492.2 40.1h.8M489.7 46.6h.8M524.3 85.2h.8M531.2 69.8h.8M515.2 80.2h.8M512.6 94.1h.8M516.4 97.1h.8M506.1 46.2h.8M484 65.8h.8M524.8 54.7h.8M486.5 80h.8M497.3 48.5h.8M509.6 55.9h.8M521.6 63.7h.8M528.9 81.6h.8M530.6 54.7h.8M535.7 83.9h.8M515.6 90.5h.8M513.6 56.8h.8M519.8 57.6h.8M491.8 54.1h.8M493.7 38.9h.8M532.5 52.2h.8M506.1 64h.8M528 65.7h.8M536.4 65.2h.8M484.9 60.1h.8M518.4 49.7h.8M518.6 87.7h.8M525.3 85.9h.8M490.2 57.8h.8M532.7 102h.8M505.9 64.7h.8M491.7 58.8h.8M494.5 37.9h.8M514.9 86.8h.8M503.8 40.4h.8M535.9 104.5h.8M490.5 40.5h.8M536.6 90.7h.8M505.8 86.3h.8M508.7 50.3h.8M534.1 61.8h.8M536.3 52.7h.8M525 68.8h.8M515.2 56.6h.8M499.1 62.8h.8M509.6 77.8h.8M491.5 55.3h.8M498.5 52.6h.8M498 75h.8M524.3 62.6h.8M500.2 53.8h.8M503.1 54.8h.8M497.3 66.8h.8M500.1 39.7h.8M508.3 57h.8M523.5 55.5h.8M525.1 55.1h.8M512.4 49h.8M530.2 84.4h.8M509.9 72.1h.8M532.8 76.5h.8M529.1 71.3h.8M484.4 27.4h.8M518.2 64.1h.8M489.1 39.9h.8M492 55.2h.8M506.3 50.4h.8M486.6 42h.8M498.3 48.8h.8M532.6 98.4h.8M518.2 60.9h.8M502.4 61.4h.8M516.1 47.3h.8M519.6 71.7h.8M514.9 72.6h.8M515.8 95.8h.8M497.1 79h.8M493.8 47.5h.8M497.8 56.2h.8M501.4 73.8h.8M495.8 42.1h.8M517.6 95.3h.8M492.4 58.7h.8M517.8 89h.8M492 56.4h.8M498.3 43.7h.8M508 50.5h.8M528.9 56.2h.8M501.3 85.2h.8M528.5 78.3h.8M522 88h.8M495.7 51.5h.8M508.2 88.3h.8M522.9 75.9h.8M487.1 42.2h.8M532.6 56.9h.8M495.6 63.6h.8M489.2 53.6h.8M526.5 66.7h.8M486.5 54.1h.8M528.7 87.8h.8M524.2 55h.8M509 59.3h.8M484 50.3h.8M517.9 80.4h.8M536.3 59h.8M505 82.7h.8M520.3 73.1h.8M487.1 78h.8M525.5 49.2h.8M500.9 58.2h.8M536.4 89h.8M502.4 42.7h.8M525.1 49.8h.8M489.5 82.3h.8M524.5 69.7h.8M510.2 63.5h.8M494.7 34.6h.8M531 80.2h.8M519.9 80.3h.8M491.2 65.7h.8M495.3 54.4h.8M493.4 44.8h.8M495.7 47.3h.8M500.9 45.8h.8M515.2 47.1h.8M484.8 75.1h.8M517.4 71.4h.8M492.7 53.6h.8M503.6 81.8h.8M515.2 47.7h.8M532.8 70.8h.8M535 92.9h.8M523.5 69.7h.8M496 55.5h.8M500.6 83.6h.8M529.3 69.1h.8M510.9 40.7h.8M524.6 86.2h.8M527.6 59.4h.8M500.2 39.1h.8M512.8 74.7h.8M501.7 71.9h.8M512.6 59h.8M489.4 29.8h.8M536.7 70.8h.8M510.2 68.4h.8M532.2 100.5h.8M534.4 77.5h.8M500.6 44.2h.8M534.3 72.9h.8M491.4 34.8h.8M528.7 92.1h.8M528.4 101.2h.8M505.6 38.2h.8M524.5 79.2h.8M499.9 44h.8M512 63.9h.8M489.4 64.7h.8M499.5 63.7h.8M508.3 77.1h.8M506.5 52.5h.8M489.2 32.7h.8M513.4 72.6h.8M501.8 62.7h.8M496.9 71.7h.8M504.2 62.8h.8M505.4 51.3h.8M502.9 74.5h.8M522.4 79.4h.8M529.2 54.9h.8M515 91.4h.8M509.5 44.8h.8M519.7 84.4h.8M505.4 90.2h.8M501.9 59.2h.8M494.5 66.3h.8M501.1 49.3h.8M488.7 53.5h.8M500.3 55.8h.8M519.2 69.8h.8M506.8 71.4h.8M531.5 71.2h.8M502.8 53.5h.8M484 42.8h.8M498.2 49.3h.8M536.6 63.4h.8M507.9 72.7h.8M530.3 61.6h.8M498.3 38.8h.8M531.7 89.1h.8M499.3 60.1h.8M535.9 105h.8M498.6 42.9h.8M503.4 49.5h.8M497.8 87.2h.8M495.3 61.8h.8M508.3 64.3h.8M489.5 35.5h.8M500.3 46h.8M514.9 43.4h.8M515 47.4h.8M516.8 47.4h.8M516.2 67.2h.8M495.5 70.4h.8M534.1 100.8h.8M521.7 52.9h.8M490.6 68.4h.8M517 52.9h.8M497.5 70.4h.8M525.8 91.8h.8M491.4 50.4h.8M532 80.5h.8M503.4 80.9h.8M530.8 89.2h.8M505.3 64.9h.8M505 71.2h.8M528.7 58.1h.8M521.7 51.1h.8M532.5 58.6h.8M518.6 73.4h.8M528.7 73.2h.8M528.8 98.7h.8M522.6 58.7h.8M527.4 53.6h.8M487.2 56h.8M496.5 59.4h.8M534.3 54h.8M528.5 101.9h.8M487.3 33.5h.8M506.8 39.4h.8M512.7 49.4h.8M533.7 98.8h.8M533.5 64h.8M514.5 63.8h.8M515.6 48.7h.8M517.4 68.9h.8M534.9 105.1h.8M522.1 62h.8M499.3 76.1h.8M510.4 61.8h.8M518 93.3h.8M494.2 83.6h.8M530.8 73.6h.8M501.1 46.6h.8M523.8 98.9h.8M497.3 81.7h.8M519.9 76.1h.8M532.2 76.7h.8M511.3 81.1h.8M530.7 63.8h.8M497 56.4h.8M488.3 44.4h.8M509.1 58.9h.8M495.4 82.5h.8M509.5 74.7h.8M490 54h.8M525.1 90.5h.8M527.8 53.7h.8M533.6 93.2h.8M520.9 83.7h.8M512.5 71.6h.8M516.8 58.4h.8M531.8 105.6h.8M509.3 42.6h.8M534 80.2h.8M515.2 56.2h.8M494.6 34.3h.8M507.6 73.1h.8M505.4 43h.8M512.9 94.2h.8M513.1 52.9h.8M532.7 59.4h.8M533.7 88.4h.8M517 75.6h.8M492.9 64.1h.8M507.5 48.2h.8M502.5 53.8h.8M490.6 69.2h.8M491.4 39.5h.8M498 68.3h.8M511 68.9h.8M534.8 57.5h.8M516.2 75.6h.8M519.3 51.2h.8M507.2 88.4h.8M496.5 81.5h.8M490.6 80h.8M494.9 65.5h.8M502.8 63h.8M506.8 81h.8M512.7 79.7h.8M535.8 63h.8M519.7 76.6h.8M512.9 51.4h.8M516.5 66.7h.8M485.9 56.3h.8M502.1 71.3h.8M489.6 48.8h.8M499 36.7h.8M509.8 71h.8M506.3 55.3h.8M507.6 90.6h.8M514.4 51.7h.8M528.1 60.8h.8M535.3 97.1h.8M528.7 92.5h.8M524.5 95.6h.8M486.2 57.9h.8M517.3 67.4h.8M520.1 89.9h.8M525.5 76.2h.8M494.9 66.4h.8M510 81.2h.8M518.3 81.3h.8M507.3 50.9h.8M520.8 86.8h.8M507.2 75.7h.8M491.4 70h.8M523.1 61.2h.8M490.4 75.9h.8M513.5 92.1h.8M532.2 90.8h.8M536.7 104.3h.8M525.6 78.4h.8M517.9 56.2h.8M492.1 33.1h.8M516 69.9h.8M499.5 40.3h.8" stroke="#fff" stroke-opacity="0.95" stroke-width=".8" fill="none"/><polygon points="443.5,37.8 496.7,64 496.7,119.8 443.5,93.6" fill="#0072bd"/><path d="M463.4 54.9h.8M449 47.3h.8M455.4 64.8h.8M484.7 84.8h.8M480.7 100.7h.8M450.2 67.9h.8M496.4 103.4h.8M453 91.3h.8M454.3 91.8h.8M471.8 62.8h.8M480.6 60.4h.8M481.9 104.6h.8M483.1 112.4h.8M473 93.4h.8M469.9 99.1h.8M467.2 94.8h.8M443.7 61.2h.8M454.5 75.5h.8M463.6 79.5h.8M444.1 82.4h.8M485.2 77h.8M488.2 99.4h.8M464.1 81.5h.8M494.4 92.8h.8M494.8 68.4h.8M469.3 92.6h.8M471.9 67.5h.8M447.9 78.5h.8M463.2 53.4h.8M469.3 84.3h.8M470.3 78.6h.8M483.5 64.3h.8M496.1 81.9h.8M486.5 109.5h.8M459.9 94h.8M486 59.2h.8M477 108.5h.8M496.5 102.9h.8M452.5 44.5h.8M488.5 114.9h.8M482.5 103.8h.8M449.9 84.8h.8M469.6 101.6h.8M451.6 71.3h.8M462.7 70h.8M457.2 82.6h.8M491.8 111.3h.8M467.9 60.3h.8M469.7 61.6h.8M450.3 65.6h.8M477.5 102.6h.8M464.9 73.9h.8M493.5 83.1h.8M476.1 85.7h.8M479.5 63.1h.8M488.7 94.1h.8M453.3 69.9h.8M476.5 103.5h.8M444.6 62.7h.8M465.3 61.6h.8M464.5 63.1h.8M462.8 88.7h.8M460.7 46.7h.8M488.7 75.6h.8M473.3 84.6h.8M484 90.4h.8M475.3 65.7h.8M491.6 107.5h.8M445.2 58.7h.8M485.3 74h.8M461 73.4h.8M480.7 63.2h.8M450.2 70.7h.8M461.5 76.5h.8M489.7 100.5h.8M451.7 46.3h.8M446.4 77.4h.8M448.6 57.3h.8M466.4 82h.8M489 63.8h.8M486.5 61.8h.8M447.3 93.8h.8M467.3 49.8h.8M487.1 81.3h.8M449.7 92.5h.8M462.6 75.2h.8M466.4 102.1h.8M476.7 79.3h.8M474.8 98.7h.8M484 93h.8M494.7 101.8h.8M450.1 63.2h.8M471.8 61.6h.8M467.6 53.2h.8M479.6 93h.8M456.7 68.3h.8M495.4 118.8h.8M476.9 89.3h.8M495.1 65.4h.8M490.2 109.9h.8M445.2 45.9h.8M461.7 66.1h.8M473.9 92.2h.8M468.8 62.6h.8M450.3 80.8h.8M478.4 60.8h.8M465.3 99.7h.8M460.3 95.3h.8M477.8 68.6h.8M469.1 81.1h.8M456 91.5h.8M448.3 67.3h.8M488.7 99.3h.8M447 64.7h.8M496.4 78.1h.8M456.6 52.2h.8M453.6 95.3h.8M489.4 83.1h.8M474.4 53.9h.8M453.3 72.8h.8M495.9 76.4h.8M463.3 97.9h.8M454.5 50.3h.8M469.4 73.9h.8M458.1 51.2h.8M484.7 69.9h.8M486.1 66.1h.8M477.4 107.1h.8M487.2 75.1h.8M478.3 99.7h.8M446.3 80.1h.8M466.2 86.7h.8M478.6 77.9h.8M482.3 77.6h.8M446 42.9h.8M473 107.5h.8M444.5 83.3h.8M469.3 86.1h.8M469 60.5h.8M449 65.6h.8M457.2 71.8h.8M465.8 62.1h.8M474 72h.8M450 80.6h.8M474.8 104.2h.8M447.6 69.8h.8M493 68.8h.8M473.8 75.1h.8M469.1 103.2h.8M446.1 70.3h.8M483.3 91.8h.8M453.8 66.2h.8M460.7 69.3h.8M458.5 47.9h.8M463.2 84.4h.8M445 71.6h.8M479 76.8h.8M475.5 59.9h.8M485.9 75.1h.8M494 92.2h.8M485.4 68.7h.8M448 68.7h.8M452 44h.8M490.7 101.1h.8M464.6 96.9h.8M471.2 60.9h.8M465.1 87.6h.8M461.6 55.2h.8M480.4 77.7h.8M445.5 66.2h.8M471.9 102.7h.8M463.3 59.4h.8M462.9 99.5h.8M486.9 61.1h.8M493.4 69.2h.8M474.8 92.1h.8M456 92.7h.8M453.3 49h.8M457.9 73.9h.8M490.7 109.9h.8M448.1 68h.8M454 85h.8M450 74h.8M468.9 70.3h.8M448 44.7h.8M494.2 73.9h.8M495.1 110h.8M495.6 92.6h.8M483.3 85.7h.8M483.5 58h.8M486.7 110h.8M466.5 76.4h.8M494.6 67.7h.8M465.3 82.1h.8M487.9 100.8h.8M460.6 71h.8M495.6 101.4h.8M480.2 59.9h.8M446.8 90.5h.8M468.1 94.2h.8M453.5 93.9h.8M461.7 62.8h.8M464.2 87.4h.8M486.5 64.5h.8M466.1 54.9h.8M494.6 66.5h.8M454 84.5h.8M445.6 94.6h.8M451.3 75.8h.8M494 64.7h.8M478.7 68.3h.8M479.8 108.1h.8M490.7 77.6h.8M463.4 52.2h.8M454.3 44.9h.8M480 71.6h.8M450.8 49h.8M454.3 51.9h.8M489.8 96.4h.8M455.9 94.2h.8M449.7 56.1h.8M486.2 107h.8M466.2 83.3h.8M462.7 47.5h.8M464.3 72.6h.8M491.6 88.1h.8M461.5 49.6h.8M463.1 87.4h.8M452.9 42.4h.8M453.9 47.8h.8M479.3 90.9h.8M458.3 82.6h.8M450.6 90h.8M449.2 45.3h.8M488.1 105.2h.8M495.3 118.6h.8M462.1 53.1h.8M485.3 80.8h.8M466.7 67.5h.8M446.4 54.1h.8M476.5 107.5h.8M483.2 108.1h.8M472.4 79.9h.8M461.7 99.8h.8M491.3 89h.8M476.4 68.7h.8M489.6 79.6h.8M461.5 68h.8M452.5 95.5h.8M476.6 96.7h.8M476.9 59.9h.8M468 98.8h.8M485.3 84.4h.8M483.5 110.5h.8M479.1 58.7h.8M472.4 98.2h.8M492.4 94.8h.8M456.6 69.6h.8M465.9 64.5h.8M480.8 59.6h.8M492.6 76.6h.8M456.1 80.4h.8M489.7 112.2h.8M489.6 76.8h.8M489.7 62.1h.8M492.4 116.7h.8M448.5 52.8h.8M482.4 102.9h.8M480.4 86.1h.8M452.4 68.8h.8M463.7 69.3h.8M486.7 59.6h.8M473.6 70h.8M449.7 74.7h.8M476.7 70h.8M458.9 75.1h.8M491.5 94.2h.8M458 80.3h.8M455.4 71.9h.8M452.8 82.5h.8M460.8 88.6h.8M477 101.8h.8M493.3 93.5h.8M469.1 89.8h.8M456.4 53.2h.8M486.5 67.5h.8M482.5 93.6h.8M468.2 71.2h.8M456.9 49.8h.8M449 76.3h.8M490 85.5h.8M486.9 90.2h.8M454.2 62.6h.8M462.4 49.3h.8M458.3 93.2h.8M443.7 39.8h.8M446.7 58h.8M451.8 53.3h.8M455.3 64h.8M475.7 60.9h.8M462.6 84.8h.8M486.9 75.4h.8M456.3 85.2h.8M456.4 71.6h.8M458.3 62.9h.8M473 96.9h.8M476.6 106.5h.8M474.4 64.6h.8M494.9 73.8h.8M451.8 60.5h.8M467.8 87.7h.8M476.1 72.9h.8M467.5 100.8h.8M458.3 63.9h.8M476.4 77.6h.8M452.5 63.6h.8M447.8 70.8h.8M476.1 97.1h.8M489.4 75.7h.8M456.2 74h.8M443.9 52.2h.8M488.8 95.6h.8M458.8 96.2h.8M452.8 67.9h.8M447.7 60.9h.8M490.1 65.1h.8M491.8 67.8h.8M444.1 90.7h.8M490.5 73.6h.8M487.3 100.6h.8M466.1 65.8h.8M473 86.9h.8M456.8 82.2h.8M486.6 87.5h.8M448 66.2h.8M485.1 75.3h.8M455.8 64h.8M493.1 80.2h.8M471.5 86h.8M495 81.1h.8M480 92.3h.8M480.1 77.7h.8M458.4 75.3h.8M472.5 76.5h.8M493.7 117.3h.8M443.7 65.9h.8M449.4 84.2h.8M447.9 74.3h.8M483.6 109.2h.8M475.7 72.8h.8M484.6 64h.8M490.1 96.7h.8M494.9 113.1h.8M469.9 72h.8M490.1 109.5h.8M487.3 65.4h.8M450.9 90.4h.8M470.9 86.9h.8M486.9 87.4h.8M461.1 95.7h.8M482.6 95h.8M468.7 90.6h.8M481.6 72.6h.8M469.2 51.2h.8M463.3 83.1h.8M468.2 61.6h.8M475.6 101.6h.8M454.6 66.7h.8M450.2 72.8h.8M487.2 99h.8M489.4 70.3h.8M490.7 75.2h.8M444.6 86.7h.8M446.6 78.8h.8M484.4 68h.8M445.1 39h.8M485.6 80.2h.8M469.8 57.9h.8M470.2 51.8h.8M448 54.5h.8M494.5 82.7h.8M479.9 99.2h.8M464.8 83.4h.8M493.2 83.2h.8M484.1 61.9h.8M472 90.8h.8M449.8 74.7h.8M456.2 98.6h.8M452.6 59.2h.8M456.2 75.1h.8M459 56.7h.8M451.5 84.5h.8M460.4 65.1h.8M457.6 63h.8M480.6 86h.8M487.8 104.9h.8M456.4 77.5h.8M487.9 73.9h.8M447.8 85.2h.8M465 99.2h.8M479.2 85.3h.8M446.9 82.2h.8M488.4 71h.8M469.3 60.7h.8M491.8 64.6h.8M445.3 47.6h.8M466.1 68.6h.8M453.9 88.3h.8M481.7 66.5h.8M454 58.1h.8M459.3 59.7h.8M462.4 64h.8M446.1 48.6h.8M473.6 91.8h.8M474.6 71.4h.8M459.9 72.8h.8M452.3 79.1h.8M478.9 92.8h.8M461.1 93.6h.8M485.6 86.9h.8M467.3 84.8h.8M455.8 76.1h.8M493.2 70.5h.8M458 62.7h.8M495.9 81.4h.8M445.7 39.8h.8M471.8 95.4h.8M474.9 80.7h.8M458.4 95.8h.8M468.9 84.2h.8M457.8 47.6h.8M492.2 112.8h.8M466.8 62.8h.8M467 56.9h.8M447.1 67h.8M494.6 74.2h.8M472.6 83.3h.8M463.1 83.5h.8M467.4 77.1h.8M492.8 107h.8M465.1 87.1h.8M484.9 96.9h.8M486.3 59.5h.8M449.9 78.1h.8M486.2 101.8h.8M472.5 55.4h.8M456.8 92.4h.8M459.1 47.3h.8M467.3 57.7h.8M453.8 62.5h.8M471.9 83.7h.8M463.7 92.5h.8M453.1 92.4h.8M460.6 96.3h.8M462.5 83.5h.8M475.1 86.4h.8M467 53.6h.8M475.6 79.5h.8M457.1 45h.8M476.5 69.6h.8M471.9 99.4h.8M456.5 69.1h.8M469.9 97.7h.8M478.7 108.8h.8M452.7 45.4h.8M476.4 91h.8M451.8 87.1h.8M454.9 93.6h.8M472.9 71.7h.8M458.8 75.4h.8M494.9 118.2h.8M476 69.7h.8M450.9 82.9h.8M465.9 61h.8M467 77.9h.8M461.3 72.5h.8M460.6 76.5h.8M465.6 66.8h.8M474.3 53.5h.8M486.9 70.4h.8M481.1 108.3h.8M481.1 84.5h.8M473.8 95.4h.8M443.5 87.9h.8M477.9 99.7h.8M472.9 94.2h.8M476.9 56.5h.8M465.8 63h.8M446.3 47.3h.8M449.4 57.5h.8M476.6 92.3h.8M482.5 91h.8M449.6 72h.8M470.4 90.5h.8M460.2 78.3h.8M492.8 74.8h.8M450.6 92.9h.8M480 96.2h.8M470.4 80.1h.8M486.2 76.9h.8M474.3 72.7h.8M452.6 57.6h.8M452.7 92.3h.8M471.5 97.3h.8M455.8 82.4h.8M472.3 92.1h.8M476.8 67.8h.8M467.7 50h.8M486 76.4h.8M479.9 109.7h.8M459.1 84.7h.8M455.7 54.8h.8M493.7 66.7h.8M457.7 67.4h.8M453.2 78.9h.8M473 88.3h.8M493.4 82.8h.8M460.4 53.7h.8M483.6 94.3h.8M462.5 92.3h.8M476.7 109.8h.8M462.8 95.4h.8M483 65.5h.8M471.3 72.4h.8M468.8 50.7h.8M463.1 99.4h.8M485.9 94h.8M445.5 50.2h.8M481.3 75.3h.8M480.4 108.1h.8M483.1 90.7h.8M493.1 82.4h.8M474.2 70.3h.8M455.6 74.4h.8M458.9 90.7h.8M486.3 60.7h.8M489.4 90.2h.8M479.6 71.3h.8M455.8 69.8h.8M470.7 102.5h.8M447.6 82.4h.8M461.8 99.1h.8M463.7 92.9h.8M455.9 88.5h.8M456.8 77h.8M478.4 92.8h.8M483 92.8h.8M473.4 62.7h.8M470.7 105.8h.8M489.2 110.3h.8M473.2 63.1h.8M462.7 73.2h.8M489.5 91.7h.8M489.4 101.3h.8M487.5 85h.8M481.6 100h.8M445.5 46.7h.8M495.3 73.1h.8M486.9 97h.8M487.9 114.1h.8M471.5 57.8h.8M495.9 102.7h.8M472.3 71.1h.8M488 67.6h.8M482.4 68.2h.8M454.5 50.9h.8M486.9 87.7h.8M463.9 56.6h.8M475.1 83.4h.8M474.5 94.1h.8M453.2 71.6h.8M488.1 96.9h.8M447.5 52.8h.8M449.2 50h.8M461.1 94.4h.8M494.1 109.3h.8M461.4 81h.8M464.8 78.2h.8M455.6 46.2h.8M485.3 61.6h.8M446 40.8h.8M449.5 55.8h.8M490.6 79h.8M479.9 96.4h.8M495 98.1h.8M452.5 97.9h.8M448 49.3h.8M444 78.5h.8M464.1 99.4h.8M461.3 84.7h.8M460.6 84h.8M466.4 64.4h.8M446 94.5h.8M464.4 91h.8M478.8 60.9h.8M469.4 58.6h.8M495.7 84.2h.8M458.2 69.6h.8M459.8 89.2h.8M474.3 59.9h.8M451.4 55h.8M456.5 71.4h.8M478.8 102h.8M492.6 105.7h.8M489.7 95.2h.8M486.9 96.5h.8M480.5 108.4h.8M472.9 85.4h.8M447.3 70.4h.8M481.9 96.5h.8M448.9 74.8h.8M460.5 83.4h.8M451.3 76.4h.8M475.2 74.7h.8M496.5 91.9h.8M454.8 88.2h.8M483.6 69h.8M489.1 87.4h.8M454.2 73.3h.8M460.2 62h.8M485.4 72.2h.8M482.5 65.4h.8M446.7 49.9h.8M482.4 75.4h.8M459.3 61.1h.8M489.8 107.6h.8M453.3 59.4h.8M490.4 102.5h.8M469.2 91.9h.8M494.8 112.2h.8M467.4 83.2h.8M451.7 96.5h.8M492.2 80.9h.8M482.1 70.8h.8M456 56.5h.8M464.3 96.7h.8M480.1 75.8h.8M463.2 56.5h.8M472.5 105.9h.8M450.8 86.4h.8M481.1 97.2h.8M456.4 74.2h.8M462.9 93.5h.8M457.3 70.3h.8M476.6 90.7h.8M458.1 64.2h.8M459.5 71.8h.8M476.1 71.3h.8M495.3 105.4h.8M445.5 55.1h.8M458.7 60.1h.8M485.8 74.1h.8M457.8 96.8h.8M481.9 59.7h.8M471.7 75.3h.8M450.9 82.1h.8M472.9 83.8h.8M481.4 83.4h.8M480.4 82.9h.8M492.6 103.9h.8M485 99.3h.8M482.3 92.4h.8M487.5 71.7h.8M493.3 93.7h.8M471.9 105.4h.8M485.3 88.9h.8M457.4 89.2h.8M447.6 95h.8M482.2 58.1h.8M466.3 88.4h.8M469.7 76.5h.8M492.7 97.8h.8M490.1 113.5h.8M449.6 46.3h.8M471.5 55.1h.8M453.9 88.3h.8M493.2 94.7h.8M465 83.4h.8M450.7 87.8h.8M450.6 60.1h.8M496.4 76h.8M468.9 63.7h.8M477.1 72.4h.8M456.3 98.9h.8M492.8 105.1h.8M482.6 84.1h.8M453.5 59.3h.8M471.7 85.9h.8M472.6 82.8h.8M445.2 47.5h.8M479.7 110.1h.8M494.5 103.7h.8M475.8 93.3h.8M488.5 60.3h.8M492.3 104.9h.8M466.5 102.3h.8M446 71.6h.8M465.9 68.4h.8M462.3 94.3h.8M479.5 64.4h.8M466.3 93.9h.8M456.7 60.8h.8M465.3 95.3h.8M454 49.5h.8M467.4 94.1h.8M486.2 73.8h.8M465.7 57.7h.8M470.6 92.7h.8M487.9 110.3h.8M463.8 70.9h.8M453.2 70.5h.8M489.5 89.5h.8M467.7 61.9h.8M457.7 74.7h.8M475.3 81.5h.8M482.3 85.5h.8M476.9 84.7h.8M467.9 83h.8M460.2 92.8h.8M466.9 88.7h.8M491 102.2h.8M453.2 84.5h.8M447.5 51.9h.8M491.3 110.8h.8M483.4 101.8h.8M487.5 85.9h.8M451.5 80.1h.8M448.3 82.6h.8M494.3 97.8h.8M479 83.1h.8M486.5 77.1h.8M471.7 53.2h.8M447.7 48.1h.8M493 93.9h.8M487.6 90.1h.8M470.8 83.8h.8M468.8 92.7h.8M457 47.1h.8M473.4 104.5h.8M489.2 104.7h.8M477.9 73.6h.8M444.4 61.2h.8M456.8 84.6h.8M490.5 64.4h.8M453.7 75.8h.8M480.2 78.4h.8M455.1 94.3h.8M496 69.7h.8M450.3 91.2h.8M488.1 93.5h.8M472.4 58.4h.8M461.5 49.7h.8M469.7 56h.8M487.9 69.3h.8M489.3 103.1h.8M481.6 110.6h.8M493.9 93.2h.8M485.2 110.6h.8M489.8 62.8h.8M472 107.2h.8M477.7 92.3h.8M465.5 93.1h.8M481.8 111.7h.8M494.9 91h.8M479.1 106.9h.8M456.5 49.8h.8M483.1 74.7h.8M475.2 88.5h.8M456.5 53h.8M475.1 64.7h.8M449.5 78.3h.8M447.8 48.5h.8M480.2 59.8h.8M457.5 65.9h.8M483.2 93.5h.8M489.3 65.9h.8M473.4 55.7h.8M464.6 84.6h.8M446.9 90.5h.8M488.9 67.5h.8M458.8 64h.8M471.4 94.4h.8M489.7 84.7h.8M444.9 77.1h.8M459.7 50.3h.8M489.8 97.3h.8M448.5 85.1h.8M491.2 114.7h.8M491.8 98.2h.8M479.1 55.9h.8M446.8 83.1h.8M494.9 93.4h.8M447.8 41.5h.8M464.2 103.4h.8M493.1 101.6h.8M466.4 59.1h.8M472.3 102.4h.8M466.7 53.2h.8M457.5 53.9h.8M460.6 94h.8M443.6 60.6h.8M488.4 84.7h.8M453.4 59.8h.8M474.8 91.9h.8M455 77.8h.8M449.2 83h.8M443.9 77.5h.8M482.5 103h.8M472.6 57.4h.8M446.5 45.6h.8M446.4 74.9h.8M476.9 71.3h.8M446.7 67.8h.8M475.1 93.5h.8M476.8 90.5h.8M456.4 46.1h.8M471.6 88.4h.8M472.9 75.8h.8M476.2 56.9h.8M473.7 91.9h.8M489.3 71h.8M493.5 111.8h.8M456.6 59.1h.8M466.7 60h.8M460.9 55.4h.8M454 44.3h.8M484.5 74.1h.8M484.3 59.1h.8M481.9 97h.8M480.5 82.7h.8M456.2 87.9h.8M476.8 105.3h.8M479.5 86.8h.8M462.8 63h.8M486.8 71.4h.8M491 116.1h.8M459.6 48.9h.8M456.4 86.2h.8M480.9 95.7h.8M462.9 56.7h.8M494.9 69h.8M475.2 68.1h.8M465.9 86.1h.8M483.2 87.3h.8M478.2 64.1h.8M464.3 83.9h.8M465.3 59.4h.8M488.5 72.1h.8M459.1 75.1h.8M492.4 67.6h.8M445.1 72.9h.8M485.9 72.6h.8M483.2 77.4h.8M486 96.1h.8M443.9 64.1h.8M481.5 78.5h.8M464.5 74h.8M444 87.7h.8M446.1 39.6h.8M494.4 64.7h.8M469 104.1h.8M464.7 51.3h.8M459.3 71.7h.8M478.8 104h.8M479.3 65.4h.8M496.5 95.5h.8M494.8 79h.8M467.4 59.2h.8M492.7 87.8h.8M485.9 111.7h.8M479 65.1h.8M493 79.2h.8M495.1 68.2h.8M447.4 80.4h.8M473.5 64.6h.8M485.8 65.7h.8M459 81.4h.8M496.2 96.6h.8M483.7 94.7h.8M445.6 94.3h.8M448.9 83.4h.8M462.9 84.6h.8M491.7 111.3h.8M479.8 68.7h.8M495.2 95.2h.8M485 82.3h.8M495.3 103.2h.8M490 96.4h.8M463 61.1h.8M491.4 90.9h.8M488.4 82.4h.8M448.7 72.6h.8M478.9 79.9h.8M479 61h.8M492.1 102.6h.8M454.3 70h.8M460.7 63.7h.8M467.6 100.6h.8M463.8 49.9h.8M491.4 89.3h.8M482.8 99.3h.8M465.6 62.1h.8M446 49.3h.8M453.2 63.2h.8M462.6 51.9h.8M469.1 101.3h.8M495.9 89.9h.8M449.3 55h.8M493.1 66.9h.8M489.8 80.6h.8M459.8 68h.8M453.5 76.9h.8M454.8 67.3h.8M472.6 77h.8M487.3 64.6h.8M494.8 72.7h.8M451.4 56.3h.8M444.7 42.6h.8M483.7 109.7h.8M450.6 54.1h.8M475.3 83.4h.8M480.1 69.7h.8M469.8 90h.8M496.3 93.5h.8M473.1 62.2h.8M486.1 112.6h.8M458.8 84.9h.8M470 79.4h.8M450.5 49.5h.8M449 81.2h.8M479.8 65.5h.8M481.8 98.8h.8M446.7 78.3h.8M469.9 75.7h.8M491.6 80.8h.8M494.3 69.5h.8M444 44.8h.8M465.9 90.7h.8M493.8 76.7h.8M469.5 71h.8M469.9 85h.8M473.5 65.1h.8M446.1 44.8h.8M446.2 68.2h.8M490.1 65.4h.8M488.6 108.7h.8M475 99.9h.8M452.3 55.3h.8M463.5 86.4h.8M457.9 68h.8M466 77h.8M485.5 106.2h.8M453.2 56.3h.8M496 78h.8M459.5 93.4h.8M486.4 100.2h.8M471.6 62.8h.8M444.8 43.3h.8M468 57.1h.8M493.7 90.3h.8M473.9 88.1h.8M461.6 77.6h.8M493.7 108.5h.8M483.3 85.5h.8M495.7 106.4h.8M468 96.6h.8M476.4 88.6h.8M469.9 103h.8M481 85.8h.8M461.8 63.7h.8M487.5 78.9h.8M448.5 41.6h.8M445.6 45.2h.8M470.5 71.5h.8M471.9 57.5h.8M451 72.5h.8M481.3 67.6h.8M454 82.9h.8M481.4 82.9h.8M458.4 46.2h.8M478.9 77.6h.8M464.6 75.7h.8M447.4 51.6h.8M493.8 100.9h.8M453.7 52.3h.8M467.9 104.6h.8M476.5 96.6h.8M478.1 100.7h.8M493 103.6h.8M483 60.2h.8M463.5 102.2h.8M491.5 100.6h.8M461.1 70.2h.8M445.5 55.3h.8M444.5 50.9h.8M449.4 75.1h.8M453.8 86.4h.8M487.2 67.5h.8M445.1 87.6h.8M485.9 110.9h.8" stroke="#fff" stroke-opacity="0.95" stroke-width=".8" fill="none"/>
<path d="M434.1 89L434.1 23.3M434.1 89L496.7 119.8M496.7 119.8L577 97.1M434.1 89L432.04 87.98M434.1 67.1L432.04 66.08M434.1 45.2L432.04 44.18M434.1 23.3L432.04 22.28M496.7 119.8L494.49 120.43M475.83 109.53L473.62 110.16M454.97 99.27L452.75 99.89M434.1 89L431.89 89.63M496.7 119.8L498.76 120.82M536.85 108.45L538.91 109.47M577 97.1L579.06 98.12" stroke="#4d4d4d" stroke-width="0.55" fill="none"/>
<g font-family="Liberation Serif, serif" font-weight="bold" font-size="5.25" fill="#111" stroke="#111" stroke-width="0.1"><text x="430.3" y="90.65" text-anchor="end">0</text><text x="430.3" y="68.75" text-anchor="end">100</text><text x="430.3" y="46.85" text-anchor="end">200</text><text x="430.3" y="24.95" text-anchor="end">300</text><text x="492.5" y="126.55" text-anchor="end">0</text><text x="471.63" y="116.28" text-anchor="end">100</text><text x="450.77" y="106.02" text-anchor="end">200</text><text x="429.9" y="95.75" text-anchor="end">300</text></g>
<g font-family="Liberation Serif, serif" font-weight="bold" font-style="italic" font-size="5.5" fill="#111" stroke="#111" stroke-width="0.1"><text x="500.1" y="126.9">Horizontal</text><text x="540.25" y="115.35">Vertical</text><text x="580.4" y="103.2">Diagonal</text><text x="461.9" y="126.3" text-anchor="middle">x</text><text transform="translate(419.9 57.15) rotate(-90)" text-anchor="middle">y</text></g>
<text x="493.7" y="151.4" font-family="Liberation Serif, serif" font-size="12" fill="#000" stroke="#000" stroke-width="0.25">(c) SI</text>
<path d="M99.4 229.1L161.7 260M99.4 207.33L161.7 238.23M19 229.93L99.4 207.33M99.4 185.57L161.7 216.47M19 208.17L99.4 185.57M99.4 163.8L161.7 194.7M19 186.4L99.4 163.8M161.7 260L161.7 194.7M81.3 282.6L161.7 260M140.93 249.7L140.93 184.4M60.53 272.3L140.93 249.7M120.17 239.4L120.17 174.1M39.77 262L120.17 239.4M99.4 229.1L99.4 163.8M59.2 240.4L59.2 175.1M59.2 240.4L121.5 271.3" stroke="#e6e6e6" stroke-width="0.6" fill="none"/>
<path d="M117.5 192h1v.5h-1zM117.5 192.5h1.5v.5h-1.5zM120.5 193h.5v.5h-.5zM117.5 193h2.5v.5h-2.5zM118 193.5h3v.5h-3zM117.5 194h3.5v.5h-3.5zM118.5 194.5h3v.5h-3zM118.5 195h4v.5h-4zM123 195h.5v.5h-.5zM118.5 195.5h5v.5h-5zM118.5 196h6.5v1h-6.5zM137.5 197h1v.5h-1zM118 197h7.5v.5h-7.5zM138 197.5h.5v.5h-.5zM126 197.5h1v.5h-1zM117.5 197.5h8v.5h-8zM127.5 197.5h1v.5h-1zM117.5 198h1v.5h-1zM127.5 198h1.5v.5h-1.5zM129.5 198h.5v.5h-.5zM119 198h8v.5h-8zM118 198.5h9.5v.5h-9.5zM128 198.5h1v.5h-1zM129.5 198.5h1.5v1h-1.5zM118 199h10.5v.5h-10.5zM138 199h1v1h-1zM118.5 199.5h10.5v.5h-10.5zM118 200h2.5v.5h-2.5zM122.5 200h8.5v.5h-8.5zM121 200h1v.5h-1zM123 200.5h8v.5h-8zM118 200.5h4.5v.5h-4.5zM123.5 201h8v.5h-8zM119 201h4v.5h-4zM117.5 201h1v1h-1zM119 201.5h12.5v.5h-12.5zM118.5 202h13v.5h-13zM135 202h1v1h-1zM118.5 202.5h14.5v.5h-14.5zM118.5 203h.5v.5h-.5zM119.5 203h14v.5h-14zM141.5 203.5h1v.5h-1zM118 203.5h15.5v.5h-15.5zM139.5 203.5h.5v.5h-.5zM134.5 203.5h1v1h-1zM152 203.5h1v1h-1zM139 204h1v.5h-1zM141.5 204h.5v.5h-.5zM136 204h.5v.5h-.5zM118 204h14v.5h-14zM132.5 204h1.5v.5h-1.5zM119 204.5h15.5v.5h-15.5zM135 204.5h2.5v.5h-2.5zM119 205h18.5v.5h-18.5zM137 205.5h.5v.5h-.5zM119 205.5h17.5v.5h-17.5zM125 206h9.5v.5h-9.5zM136 206h.5v.5h-.5zM139 206h.5v.5h-.5zM137 206h1v.5h-1zM123.5 206h1v.5h-1zM119 206h4v.5h-4zM122 206.5h13v.5h-13zM138.5 206.5h1v.5h-1zM135.5 206.5h2v.5h-2zM142 206.5h1v1h-1zM120 206.5h1.5v1h-1.5zM141 207h.5v.5h-.5zM122 207h16v.5h-16zM139 207h.5v.5h-.5zM147.5 207h1v1h-1zM140.5 207.5h1v.5h-1zM119.5 207.5h20.5v1h-20.5zM141 208h1v1h-1zM126 208.5h14.5v.5h-14.5zM119 208.5h6.5v.5h-6.5zM124 209h17v.5h-17zM119 209h4.5v.5h-4.5zM141.5 209.5h1v.5h-1zM145.5 209.5h.5v.5h-.5zM119.5 209.5h21.5v.5h-21.5zM124 210h18.5v.5h-18.5zM145.5 210h1v.5h-1zM123 210h.5v.5h-.5zM119.5 210h3v.5h-3zM119.5 210.5h23v.5h-23zM141.5 211h1.5v.5h-1.5zM146.5 211h1v.5h-1zM120 211h21v.5h-21zM120.5 211.5h8.5v.5h-8.5zM129.5 211.5h14.5v.5h-14.5zM146 211.5h2v1h-2zM120.5 212h2.5v.5h-2.5zM124 212h21v1h-21zM146.5 212.5h1v.5h-1zM150.5 212.5h.5v1h-.5zM120 212.5h3.5v1h-3.5zM146.5 213h1.5v.5h-1.5zM142.5 213h1.5v.5h-1.5zM124.5 213h17.5v.5h-17.5zM125 213.5h17v.5h-17zM142.5 213.5h2.5v.5h-2.5zM147.5 213.5h1v.5h-1zM120 213.5h4v1h-4zM150 213.5h1v1h-1zM142.5 214h3.5v.5h-3.5zM124.5 214h17.5v.5h-17.5zM145 214.5h1.5v.5h-1.5zM121.5 214.5h1v.5h-1zM148 214.5h1.5v.5h-1.5zM123.5 214.5h21v.5h-21zM151.5 214.5h.5v.5h-.5zM145.5 215h.5v.5h-.5zM125 215h20v.5h-20zM121.5 215h.5v.5h-.5zM123.5 215h1v.5h-1zM148 215h2v.5h-2zM151.5 215h1v1h-1zM126 215.5h20v.5h-20zM148.5 215.5h1v.5h-1zM123.5 215.5h2v.5h-2zM124 216h18v.5h-18zM148 216h1v.5h-1zM122 216h1v.5h-1zM121 216h.5v.5h-.5zM142.5 216h4.5v.5h-4.5zM145 216.5h4v.5h-4zM152 216.5h1v.5h-1zM121 216.5h23.5v.5h-23.5zM151 217h2v.5h-2zM147 217h1.5v.5h-1.5zM141.5 217h2v.5h-2zM144.5 217h1.5v.5h-1.5zM133 217h6.5v.5h-6.5zM140 217h1v.5h-1zM122.5 217h.5v.5h-.5zM123.5 217h9v.5h-9zM121 217h.5v.5h-.5zM122.5 217.5h22v.5h-22zM145 217.5h1.5v.5h-1.5zM147 217.5h2v.5h-2zM151 217.5h1v1h-1zM126.5 218h11v.5h-11zM138 218h9.5v.5h-9.5zM122.5 218h3.5v.5h-3.5zM148 218h2v.5h-2zM121 218h1v1h-1zM146 218.5h1v.5h-1zM147.5 218.5h2.5v.5h-2.5zM153.5 218.5h1v.5h-1zM151.5 218.5h.5v.5h-.5zM126 218.5h.5v.5h-.5zM127 218.5h1.5v.5h-1.5zM142.5 218.5h3v.5h-3zM129 218.5h13v.5h-13zM123.5 218.5h2v1h-2zM126 219h3v.5h-3zM153 219h1.5v.5h-1.5zM146 219h3.5v.5h-3.5zM150 219h1v.5h-1zM130 219h15.5v.5h-15.5zM152.5 219.5h1v.5h-1zM148 219.5h3v.5h-3zM128 219.5h19.5v.5h-19.5zM123.5 219.5h1.5v.5h-1.5zM126.5 219.5h1v.5h-1zM123.5 220h2.5v.5h-2.5zM153 220h1.5v.5h-1.5zM149 220h2.5v.5h-2.5zM144.5 220h4v.5h-4zM127 220h17v.5h-17zM128 220.5h7v.5h-7zM124 220.5h3.5v.5h-3.5zM135.5 220.5h9.5v.5h-9.5zM152.5 220.5h.5v.5h-.5zM145.5 220.5h3v.5h-3zM149.5 220.5h2v.5h-2zM152.5 221h1v.5h-1zM149 221h3v.5h-3zM122.5 221h6v.5h-6zM130 221h18.5v.5h-18.5zM125 221.5h18.5v.5h-18.5zM144 221.5h4v.5h-4zM122.5 221.5h2v.5h-2zM150.5 221.5h3v.5h-3zM148.5 221.5h1.5v1h-1.5zM125 222h6v.5h-6zM150.5 222h4v.5h-4zM131.5 222h2v.5h-2zM134 222h12v.5h-12zM146.5 222h1v.5h-1zM150.5 222.5h2.5v.5h-2.5zM153.5 222.5h1v.5h-1zM125.5 222.5h1v.5h-1zM127 222.5h22v.5h-22zM149.5 222.5h.5v.5h-.5zM134.5 223h19.5v.5h-19.5zM125.5 223h8.5v.5h-8.5zM125.5 223.5h1.5v.5h-1.5zM129.5 223.5h21.5v.5h-21.5zM127.5 223.5h1v.5h-1zM152 223.5h2v.5h-2zM122 223.5h.5v.5h-.5zM124 223.5h1v1h-1zM128 224h25.5v.5h-25.5zM126 224h1.5v.5h-1.5zM121.5 224h1.5v.5h-1.5zM125 224.5h28.5v.5h-28.5zM122 224.5h1v.5h-1zM153 225h1v.5h-1zM128.5 225h20v.5h-20zM149 225h3.5v.5h-3.5zM125 225h3v.5h-3zM139.5 225.5h14.5v.5h-14.5zM126 225.5h2v.5h-2zM129.5 225.5h9v.5h-9zM125.5 226h2v.5h-2zM154.5 226h.5v.5h-.5zM128 226h7v.5h-7zM151 226h3v.5h-3zM146 226h4.5v.5h-4.5zM135.5 226h10v.5h-10zM155.5 226.5h1v.5h-1zM128 226.5h27v.5h-27zM125.5 226.5h1.5v.5h-1.5zM125.5 227h2v.5h-2zM129 227h2.5v.5h-2.5zM132.5 227h22.5v.5h-22.5zM155.5 227h.5v.5h-.5zM129 227.5h20.5v.5h-20.5zM125.5 227.5h1v.5h-1zM150 227.5h5v.5h-5zM127 227.5h1v1h-1zM129.5 228h26v.5h-26zM129 228.5h3.5v.5h-3.5zM133 228.5h22.5v.5h-22.5zM147 229h1v.5h-1zM130.5 229h16v.5h-16zM129 229h1v.5h-1zM148.5 229h6.5v.5h-6.5zM152 229.5h2v.5h-2zM130 229.5h5v.5h-5zM135.5 229.5h16v.5h-16zM128.5 229.5h1v1h-1zM151 230h.5v.5h-.5zM131 230h1v.5h-1zM130 230h.5v.5h-.5zM135 230h15.5v.5h-15.5zM133 230h1.5v.5h-1.5zM152.5 230h3v.5h-3zM152 230.5h3.5v.5h-3.5zM130.5 230.5h19.5v.5h-19.5zM156 230.5h.5v.5h-.5zM156 231h1v.5h-1zM153 231h2.5v.5h-2.5zM133.5 231h18.5v.5h-18.5zM130.5 231h2.5v.5h-2.5zM130 231.5h3v.5h-3zM146 231.5h11v.5h-11zM134 231.5h11.5v.5h-11.5zM151.5 232h4v.5h-4zM150 232h1v.5h-1zM129.5 232h19.5v.5h-19.5zM132.5 232.5h23.5v.5h-23.5zM131 232.5h.5v.5h-.5zM130.5 233h1.5v.5h-1.5zM156 233h1v.5h-1zM132.5 233h16v.5h-16zM149 233h5.5v1h-5.5zM132 233.5h16.5v.5h-16.5zM156 233.5h1.5v.5h-1.5zM130.5 233.5h1v1h-1zM132.5 234h2.5v.5h-2.5zM135.5 234h13v.5h-13zM155 234h.5v.5h-.5zM152 234h2.5v.5h-2.5zM127.5 234h1v.5h-1zM149 234h2.5v.5h-2.5zM149 234.5h7v.5h-7zM128 234.5h.5v.5h-.5zM156.5 234.5h.5v.5h-.5zM133 234.5h15.5v.5h-15.5zM132 234.5h.5v.5h-.5zM151.5 235h6v.5h-6zM132 235h19v.5h-19zM130.5 235.5h1.5v.5h-1.5zM135 235.5h1.5v.5h-1.5zM133.5 235.5h.5v.5h-.5zM137 235.5h20v.5h-20zM127.5 235.5h1v1h-1zM134.5 236h22v.5h-22zM131 236h.5v.5h-.5zM157 236h.5v.5h-.5zM132 236h1.5v1h-1.5zM126 236h1v1h-1zM135 236.5h.5v.5h-.5zM136 236.5h21.5v.5h-21.5zM134.5 237h17.5v.5h-17.5zM152.5 237h5v.5h-5zM132 237h1v.5h-1zM134 237.5h1v.5h-1zM155 237.5h2.5v.5h-2.5zM139 237.5h15.5v.5h-15.5zM136 237.5h2.5v.5h-2.5zM137.5 238h18.5v.5h-18.5zM133 238h2v.5h-2zM156.5 238h1v.5h-1zM131.5 238h1v1h-1zM133 238.5h1v.5h-1zM141 238.5h16.5v.5h-16.5zM138 238.5h2.5v.5h-2.5zM137.5 239h20.5v.5h-20.5zM128.5 239h.5v.5h-.5zM142 239.5h16v.5h-16zM130.5 239.5h1.5v.5h-1.5zM141 239.5h.5v.5h-.5zM138 239.5h.5v.5h-.5zM128.5 239.5h1v.5h-1zM139.5 239.5h1v1h-1zM138 240h1v.5h-1zM141.5 240h16.5v.5h-16.5zM129 240h1v.5h-1zM131 240h.5v.5h-.5zM132.5 240.5h.5v.5h-.5zM138 240.5h2v.5h-2zM141.5 240.5h13v.5h-13zM129 240.5h.5v.5h-.5zM155 240.5h3v.5h-3zM132.5 241h1v.5h-1zM157.5 241h1v.5h-1zM142 241h13.5v.5h-13.5zM156 241h1v.5h-1zM139 241h1v1h-1zM140.5 241.5h1v.5h-1zM142.5 241.5h15.5v1h-15.5zM139 242h3v.5h-3zM153.5 242.5h5v.5h-5zM141.5 242.5h11.5v.5h-11.5zM139.5 242.5h1v1h-1zM141.5 243h16.5v1h-16.5zM135 244h1v.5h-1zM142 244h1v.5h-1zM143.5 244h14.5v1h-14.5zM135 244.5h.5v.5h-.5zM133.5 244.5h1v1h-1zM137.5 244.5h1v1h-1zM143 245h14v.5h-14zM131.5 245h1v.5h-1zM144.5 245.5h2v.5h-2zM131.5 245.5h.5v.5h-.5zM134.5 245.5h.5v.5h-.5zM143.5 245.5h.5v.5h-.5zM157 245.5h1.5v.5h-1.5zM148 245.5h8.5v.5h-8.5zM146 246h12.5v.5h-12.5zM134.5 246h1v.5h-1zM132 246h.5v.5h-.5zM145 246.5h10v.5h-10zM131.5 246.5h1.5v.5h-1.5zM156 246.5h2.5v1h-2.5zM145.5 247h.5v.5h-.5zM131 247h1v.5h-1zM146.5 247h2v.5h-2zM149 247h6.5v.5h-6.5zM156.5 247.5h1.5v.5h-1.5zM149 247.5h7v.5h-7zM146.5 247.5h1v.5h-1zM142 247.5h1v1h-1zM147 248h.5v.5h-.5zM149 248h8.5v.5h-8.5zM149 248.5h1.5v.5h-1.5zM151 248.5h7.5v.5h-7.5zM147 248.5h1v1h-1zM151.5 249h7v.5h-7zM149.5 249h.5v.5h-.5zM147 249.5h.5v.5h-.5zM157.5 249.5h1v.5h-1zM152 249.5h5v.5h-5zM147 250h1v.5h-1zM150.5 250h7.5v.5h-7.5zM149.5 250h.5v.5h-.5zM147 250.5h.5v.5h-.5zM150.5 250.5h1v.5h-1zM152.5 250.5h6.5v.5h-6.5zM149 250.5h1v.5h-1zM153.5 251h5v1h-5zM147 252h.5v.5h-.5zM155 252h4v.5h-4zM148 252h.5v.5h-.5zM150 252.5h.5v.5h-.5zM155.5 252.5h.5v.5h-.5zM140.5 252.5h1v.5h-1zM156.5 252.5h2.5v.5h-2.5zM148 252.5h1v.5h-1zM146.5 252.5h1v.5h-1zM148 253h.5v.5h-.5zM141 253h.5v.5h-.5zM157 253h2.5v.5h-2.5zM149.5 253h1.5v.5h-1.5zM155.5 253h1v.5h-1zM150 253.5h.5v.5h-.5zM154 253.5h1.5v.5h-1.5zM155 254h.5v.5h-.5zM154.5 254.5h.5v.5h-.5zM154.5 255h1v.5h-1zM153 255h1v.5h-1zM153.5 255.5h.5v.5h-.5z" fill="#edb120"/><path d="M77 203.5h1v.5h-1zM77 204h2v.5h-2zM77.5 204.5h3.5v1h-3.5zM77.5 205.5h3v.5h-3zM89.5 205.5h1v1h-1zM77.5 206h4v.5h-4zM77.5 206.5h4.5v.5h-4.5zM77.5 207h5v.5h-5zM92 207h.5v.5h-.5zM91.5 207.5h1v.5h-1zM77.5 207.5h6v1h-6zM78 208.5h7.5v1h-7.5zM78 209.5h7v.5h-7zM90 209.5h1v1h-1zM78 210h8.5v.5h-8.5zM78.5 210.5h8.5v.5h-8.5zM78.5 211h9v.5h-9zM95 211h1v1h-1zM92 211.5h.5v.5h-.5zM94 211.5h.5v.5h-.5zM78.5 211.5h10v1h-10zM93.5 212h1v.5h-1zM92 212h1v.5h-1zM90 212.5h1v.5h-1zM94 212.5h.5v.5h-.5zM79 212.5h10.5v.5h-10.5zM78.5 213h11.5v.5h-11.5zM90.5 213h1v1h-1zM78 213.5h12v.5h-12zM78.5 214h11.5v.5h-11.5zM80.5 214.5h9.5v.5h-9.5zM90.5 214.5h2v.5h-2zM78 214.5h2v.5h-2zM78.5 215h14v.5h-14zM82 215.5h10v.5h-10zM92.5 215.5h.5v.5h-.5zM78.5 215.5h3v.5h-3zM92.5 216h1.5v.5h-1.5zM79 216h12.5v.5h-12.5zM79 216.5h15.5v.5h-15.5zM81.5 217h13.5v.5h-13.5zM79 217h2v.5h-2zM83.5 217.5h11.5v.5h-11.5zM79 217.5h4v.5h-4zM96.5 218h1.5v.5h-1.5zM79 218h16v.5h-16zM94 218.5h1v.5h-1zM97 218.5h.5v.5h-.5zM79.5 218.5h14v.5h-14zM79 219h17.5v.5h-17.5zM98.5 219h1v.5h-1zM79.5 219.5h15v.5h-15zM98.5 219.5h.5v.5h-.5zM95 219.5h2.5v.5h-2.5zM99.5 219.5h1v1h-1zM82.5 220h15v.5h-15zM81 220h1v.5h-1zM81.5 220.5h15v.5h-15zM97 220.5h1v.5h-1zM103 220.5h.5v.5h-.5zM99 220.5h1v1h-1zM102.5 221h1v.5h-1zM81.5 221h16.5v.5h-16.5zM80 221h1v.5h-1zM80 221.5h17v.5h-17zM97.5 221.5h1v.5h-1zM97.5 222h2v.5h-2zM80 222h15v.5h-15zM95.5 222h1.5v.5h-1.5zM80 222.5h19.5v.5h-19.5zM80 223h19v.5h-19zM97 223.5h3.5v.5h-3.5zM79.5 223.5h17v.5h-17zM80.5 224h17.5v.5h-17.5zM98.5 224h2v.5h-2zM79.5 224.5h1.5v.5h-1.5zM81.5 224.5h18.5v.5h-18.5zM101 224.5h.5v.5h-.5zM79.5 225h3.5v.5h-3.5zM83.5 225h16.5v.5h-16.5zM101 225h1v.5h-1zM81.5 225.5h18v.5h-18zM100 225.5h1v.5h-1zM82 226h15v.5h-15zM98 226h5v.5h-5zM80 226h1.5v.5h-1.5zM81 226.5h.5v.5h-.5zM106 226.5h1v.5h-1zM82 226.5h21v1h-21zM106 227h.5v.5h-.5zM83 227.5h21v.5h-21zM102.5 228h1.5v.5h-1.5zM80 228h.5v.5h-.5zM82 228h20v.5h-20zM82 228.5h21.5v.5h-21.5zM80 228.5h1v.5h-1zM83.5 229h19.5v.5h-19.5zM104.5 229h1v.5h-1zM84 229.5h19.5v.5h-19.5zM82 229h1v1.5h-1zM104 229.5h2v1h-2zM85 230h17.5v.5h-17.5zM103 230h.5v.5h-.5zM106 230.5h1v.5h-1zM82 230.5h1.5v.5h-1.5zM84 230.5h18.5v.5h-18.5zM103.5 230.5h1.5v.5h-1.5zM80.5 230.5h1v1h-1zM84 231h19v.5h-19zM104 231h1v.5h-1zM106 231h.5v.5h-.5zM84 231.5h1v.5h-1zM85.5 231.5h20.5v.5h-20.5zM106.5 231.5h1v1h-1zM83.5 232h22.5v.5h-22.5zM80 232h1v1h-1zM83.5 232.5h1.5v.5h-1.5zM85.5 232.5h20.5v.5h-20.5zM104.5 233h1.5v.5h-1.5zM84 233h20v.5h-20zM106 233.5h1v.5h-1zM84 233.5h.5v.5h-.5zM104.5 233.5h1v.5h-1zM103 233.5h1v.5h-1zM85 233.5h17.5v.5h-17.5zM105.5 234h2.5v.5h-2.5zM86 234h19v.5h-19zM86 234.5h1.5v.5h-1.5zM89 234.5h20v1h-20zM84.5 235h.5v.5h-.5zM86 235h2.5v.5h-2.5zM106.5 235.5h.5v.5h-.5zM102 235.5h4v.5h-4zM86.5 235.5h15v.5h-15zM84.5 235.5h1v1h-1zM110 236h.5v.5h-.5zM87 236h19v.5h-19zM106.5 236h1.5v.5h-1.5zM86 236.5h24.5v1h-24.5zM83 237h1v.5h-1zM109.5 237.5h.5v.5h-.5zM83 237.5h.5v.5h-.5zM86 237.5h22.5v.5h-22.5zM87 238h22v.5h-22zM87 238.5h18v.5h-18zM105.5 238.5h3.5v.5h-3.5zM109.5 238.5h.5v.5h-.5zM89.5 239h21v.5h-21zM111 239h.5v.5h-.5zM86.5 239h2.5v.5h-2.5zM93 239.5h18.5v.5h-18.5zM89.5 239.5h3v.5h-3zM86.5 239.5h1v.5h-1zM87 240h1.5v.5h-1.5zM89 240h21.5v.5h-21.5zM86.5 240.5h2.5v.5h-2.5zM90 240.5h21.5v1h-21.5zM85.5 241h.5v.5h-.5zM86.5 241h.5v.5h-.5zM112.5 241h1v1h-1zM87.5 241h1v1h-1zM90 241.5h18.5v.5h-18.5zM85 241.5h2v.5h-2zM109 241.5h2.5v.5h-2.5zM86 242h.5v.5h-.5zM111.5 242h1v.5h-1zM90 242h19.5v.5h-19.5zM90 242.5h20.5v.5h-20.5zM111 242.5h1.5v.5h-1.5zM88.5 242.5h.5v.5h-.5zM87 242.5h1v1h-1zM88.5 243h1v.5h-1zM93 243h19v.5h-19zM90.5 243h2v.5h-2zM90.5 243.5h1.5v.5h-1.5zM111 243.5h1.5v.5h-1.5zM93 243.5h17.5v.5h-17.5zM89 244h.5v.5h-.5zM93.5 244h19v.5h-19zM90 244h1v1h-1zM88.5 244.5h1v.5h-1zM113 244.5h.5v.5h-.5zM93 244.5h19.5v.5h-19.5zM96 245h18v.5h-18zM92 245h3.5v.5h-3.5zM94.5 245.5h19.5v.5h-19.5zM91.5 245.5h2v.5h-2zM91 246h1.5v.5h-1.5zM94 246h19v.5h-19zM93 246.5h20v.5h-20zM91.5 246.5h1v1h-1zM95.5 247h17.5v.5h-17.5zM93 247h1v1h-1zM87 247.5h1v.5h-1zM95.5 247.5h18v.5h-18zM98.5 248h15.5v.5h-15.5zM96.5 248h.5v.5h-.5zM87.5 248h.5v.5h-.5zM98.5 248.5h15v.5h-15zM95.5 248.5h2v1h-2zM98 249h16.5v.5h-16.5zM95 249.5h.5v.5h-.5zM96 249.5h.5v.5h-.5zM101 249.5h13.5v.5h-13.5zM98 249.5h2.5v.5h-2.5zM100 250h14v.5h-14zM98.5 250h1v.5h-1zM94.5 250h2v1h-2zM102 250.5h13v.5h-13zM98.5 250.5h2.5v.5h-2.5zM101.5 251h4v.5h-4zM94.5 251h1v.5h-1zM98 251h.5v.5h-.5zM106 251h6.5v.5h-6.5zM113 251h2v.5h-2zM99 251h1.5v.5h-1.5zM99.5 251.5h13v.5h-13zM98 251.5h1v.5h-1zM94.5 251.5h.5v.5h-.5zM113 251.5h1.5v.5h-1.5zM100.5 252h15v.5h-15zM94.5 252h1v.5h-1zM102.5 252.5h13v.5h-13zM101 252.5h1v1h-1zM103 253h10.5v.5h-10.5zM114 253h1.5v.5h-1.5zM107 253.5h9v.5h-9zM101 253.5h5.5v.5h-5.5zM97.5 253.5h.5v.5h-.5zM113 254h2v.5h-2zM115.5 254h.5v.5h-.5zM101.5 254h11v.5h-11zM97.5 254h1v.5h-1zM103 254.5h13v.5h-13zM96.5 254.5h.5v.5h-.5zM96 255h1v.5h-1zM103 255h.5v.5h-.5zM104.5 255h10.5v.5h-10.5zM96.5 255.5h.5v.5h-.5zM104 255.5h12v.5h-12zM104.5 256h11v.5h-11zM106.5 256.5h10v.5h-10zM107 257h9.5v1h-9.5zM108 258h9v.5h-9zM116 258.5h1v.5h-1zM108 258.5h7.5v.5h-7.5zM108 259h9.5v.5h-9.5zM106.5 259h.5v.5h-.5zM106 259.5h1v.5h-1zM107.5 259.5h10v.5h-10zM109.5 260h5v.5h-5zM115 260h2.5v.5h-2.5zM107.5 260h1v1h-1zM110 260.5h7.5v.5h-7.5zM109.5 261h8.5v.5h-8.5zM111 261.5h7v.5h-7zM109.5 261.5h.5v.5h-.5zM111.5 262h6.5v.5h-6.5zM112 262.5h6.5v.5h-6.5zM112.5 263h6v.5h-6zM113.5 263.5h4.5v.5h-4.5zM113.5 264h5.5v.5h-5.5zM114.5 264.5h4.5v.5h-4.5zM114.5 265h.5v.5h-.5zM112 265h1v.5h-1zM115.5 265h3v1h-3zM114 265.5h.5v.5h-.5zM113.5 266h1.5v.5h-1.5zM116 266h3v1h-3zM113.5 266.5h1v.5h-1zM114 267h.5v.5h-.5zM117 267h2.5v.5h-2.5zM117.5 267.5h2v.5h-2zM118 268h2v.5h-2zM118.5 268.5h1.5v.5h-1.5zM119.5 269h1v.5h-1z" fill="#d95319"/><path d="M58 210h1v.5h-1zM58.5 210.5h.5v.5h-.5zM36.5 214.5h1v.5h-1zM36.5 215h1.5v.5h-1.5zM37 215.5h1.5v.5h-1.5zM36.5 216h4.5v1h-4.5zM37.5 217h3v.5h-3zM43.5 217.5h1v.5h-1zM37 217.5h5v.5h-5zM43.5 218h.5v.5h-.5zM37 218h5.5v.5h-5.5zM37 218.5h6v.5h-6zM37 219h6.5v.5h-6.5zM37 219.5h7.5v.5h-7.5zM50.5 220h.5v.5h-.5zM39 220h5.5v.5h-5.5zM37 220h1v.5h-1zM49.5 220h.5v.5h-.5zM37 220.5h9.5v.5h-9.5zM49 220.5h2v.5h-2zM47 221h.5v.5h-.5zM49 221h.5v.5h-.5zM37.5 221h9v.5h-9zM38 221.5h9.5v.5h-9.5zM37 222h3v.5h-3zM40.5 222h7.5v.5h-7.5zM53 222.5h.5v.5h-.5zM48.5 222.5h.5v.5h-.5zM37 222.5h11v.5h-11zM60.5 222.5h1v1h-1zM56 223h1v.5h-1zM52.5 223h1v.5h-1zM37 223h13v.5h-13zM56.5 223.5h.5v.5h-.5zM59 223.5h.5v.5h-.5zM37.5 223.5h12.5v.5h-12.5zM50.5 223h1v1.5h-1zM52 223.5h1v1h-1zM38 224h12v.5h-12zM59 224h1v.5h-1zM37.5 224.5h14v.5h-14zM37.5 225h4.5v.5h-4.5zM43 225h8.5v.5h-8.5zM40 225.5h12v.5h-12zM37.5 225.5h2v.5h-2zM56 225.5h1v1h-1zM62 225.5h1v1h-1zM54 225.5h1v1h-1zM58.5 225.5h.5v1h-.5zM40.5 226h11.5v.5h-11.5zM37.5 226h2.5v.5h-2.5zM52.5 226.5h2.5v.5h-2.5zM38.5 226.5h13.5v.5h-13.5zM58.5 226.5h1v.5h-1zM57.5 227h3v.5h-3zM38.5 227h17v.5h-17zM38.5 227.5h16v.5h-16zM59 227.5h1.5v.5h-1.5zM57.5 227.5h1v.5h-1zM59 228h1v.5h-1zM39.5 228h4v.5h-4zM38 228h1v.5h-1zM55 228h1v.5h-1zM44 228h10.5v.5h-10.5zM38 228.5h3v.5h-3zM53.5 228.5h1v.5h-1zM55 228.5h1.5v.5h-1.5zM41.5 228.5h11v.5h-11zM53 229h3v.5h-3zM38.5 229h14v.5h-14zM64 229h1v1h-1zM56.5 229.5h1v.5h-1zM38 229.5h2v.5h-2zM40.5 229.5h15.5v1h-15.5zM38.5 230h1.5v.5h-1.5zM56.5 230h1.5v.5h-1.5zM61 230h1v.5h-1zM63 230h1v.5h-1zM66.5 230h1v1h-1zM39 230.5h.5v.5h-.5zM62.5 230.5h2.5v.5h-2.5zM61.5 230.5h.5v.5h-.5zM40 230.5h18v.5h-18zM62.5 231h1v.5h-1zM38.5 231h21.5v.5h-21.5zM64 231h1v.5h-1zM38.5 231.5h21v.5h-21zM58.5 232h1.5v.5h-1.5zM62 232h1v.5h-1zM39 232h1.5v.5h-1.5zM41 232h15.5v.5h-15.5zM60.5 232h1v.5h-1zM57 232h1v.5h-1zM63 232.5h.5v.5h-.5zM57.5 232.5h2.5v.5h-2.5zM39 232.5h18v.5h-18zM62 232.5h.5v.5h-.5zM60.5 232.5h.5v.5h-.5zM39 233h2.5v.5h-2.5zM57.5 233h6.5v.5h-6.5zM67 233h.5v.5h-.5zM42 233h15v.5h-15zM56.5 233.5h.5v.5h-.5zM63.5 233.5h1v.5h-1zM62 233.5h1v.5h-1zM57.5 233.5h4v.5h-4zM43.5 233.5h5v.5h-5zM49 233.5h7v.5h-7zM66.5 233.5h1v.5h-1zM38.5 233.5h4.5v1h-4.5zM67 234h.5v.5h-.5zM43.5 234h21.5v.5h-21.5zM39 234.5h8v.5h-8zM47.5 234.5h17v.5h-17zM66.5 235h.5v.5h-.5zM56.5 235h6v.5h-6zM39 235h7.5v.5h-7.5zM47 235h9v.5h-9zM70 235h1v1h-1zM45 235.5h9.5v.5h-9.5zM66 235.5h1v.5h-1zM55 235.5h9.5v.5h-9.5zM38.5 235.5h6v.5h-6zM62.5 236h2v.5h-2zM68.5 236h1v.5h-1zM38.5 236h2.5v.5h-2.5zM65 236h.5v.5h-.5zM42 236h20v.5h-20zM40 236.5h2v.5h-2zM60 236.5h1.5v.5h-1.5zM62.5 236.5h3.5v.5h-3.5zM45.5 236.5h14v.5h-14zM68.5 236.5h.5v.5h-.5zM42.5 236.5h2v.5h-2zM40.5 237h3.5v.5h-3.5zM64.5 237h1.5v.5h-1.5zM39.5 237h.5v.5h-.5zM45 237h15v.5h-15zM60.5 237h3.5v.5h-3.5zM64.5 237.5h.5v.5h-.5zM39 237.5h5v.5h-5zM44.5 237.5h16v.5h-16zM61 237.5h2.5v.5h-2.5zM66 237.5h1v1h-1zM40.5 238h20v.5h-20zM61 238h3v.5h-3zM64.5 238h1v.5h-1zM39 238h1v.5h-1zM63 238.5h3.5v.5h-3.5zM39.5 238.5h.5v.5h-.5zM67 238.5h.5v.5h-.5zM40.5 238.5h9v.5h-9zM50 238.5h12.5v.5h-12.5zM69 238.5h1.5v1h-1.5zM39 239h1v.5h-1zM40.5 239h28v.5h-28zM69.5 239.5h.5v.5h-.5zM40 239.5h26v.5h-26zM67.5 239.5h1v1h-1zM64.5 240h1.5v.5h-1.5zM40 240h1v.5h-1zM41.5 240h22.5v.5h-22.5zM69.5 240h1v1h-1zM40.5 240.5h2.5v.5h-2.5zM43.5 240.5h25v1h-25zM40 241h2.5v.5h-2.5zM69 241h1v.5h-1zM67.5 241.5h1.5v.5h-1.5zM39.5 241.5h1.5v.5h-1.5zM43.5 241.5h1v.5h-1zM45 241.5h22v.5h-22zM42 242h19.5v.5h-19.5zM39.5 242h1v.5h-1zM70 242h1.5v.5h-1.5zM64 242h5v.5h-5zM62 242h1.5v.5h-1.5zM43 242.5h18.5v.5h-18.5zM41.5 242.5h1v.5h-1zM64.5 242.5h1.5v.5h-1.5zM70 242.5h1v.5h-1zM66.5 242.5h2.5v.5h-2.5zM62.5 242.5h1.5v.5h-1.5zM46.5 243h21v.5h-21zM43 243h2v.5h-2zM73.5 243h1v1h-1zM42 243.5h1v.5h-1zM69 243.5h1.5v.5h-1.5zM48 243.5h19v.5h-19zM44 243.5h1v.5h-1zM45.5 243.5h.5v.5h-.5zM44.5 244h22v.5h-22zM42 244h2v.5h-2zM69 244h2v.5h-2zM40 244h.5v.5h-.5zM67 244h1.5v.5h-1.5zM70.5 244.5h1v.5h-1zM42 244.5h22v.5h-22zM40 244.5h1v.5h-1zM64.5 244.5h3.5v.5h-3.5zM66 245h2v.5h-2zM68.5 245h1v.5h-1zM44 245h15.5v.5h-15.5zM70 245h1v.5h-1zM60 245h5.5v.5h-5.5zM66 245.5h1v.5h-1zM68 245.5h4v.5h-4zM44.5 245.5h21v.5h-21zM45.5 246h2v.5h-2zM70.5 246h1.5v.5h-1.5zM68.5 246h1.5v.5h-1.5zM48 246h19.5v.5h-19.5zM43 246h1.5v.5h-1.5zM43 246.5h27v.5h-27zM71 246.5h.5v.5h-.5zM66.5 247h5.5v.5h-5.5zM43 247h.5v.5h-.5zM45 247h.5v.5h-.5zM72.5 247h.5v.5h-.5zM47.5 247h18.5v.5h-18.5zM46.5 247h.5v.5h-.5zM44 247h.5v.5h-.5zM45.5 247.5h2v.5h-2zM72.5 247.5h1v.5h-1zM69 247.5h3v.5h-3zM48.5 247.5h20v.5h-20zM44 247.5h1v1h-1zM39.5 248h.5v.5h-.5zM45.5 248h5.5v.5h-5.5zM73 248h.5v.5h-.5zM51.5 248h17v.5h-17zM69 248h2.5v1h-2.5zM47 248.5h21.5v.5h-21.5zM72.5 248.5h1.5v.5h-1.5zM39 248.5h1.5v.5h-1.5zM45 248.5h1.5v.5h-1.5zM39.5 249h.5v.5h-.5zM72.5 249h1v.5h-1zM45 249h24v.5h-24zM69.5 249h2v.5h-2zM46.5 249.5h24v.5h-24zM71.5 249.5h1v.5h-1zM66 250h4v.5h-4zM70.5 250h2v.5h-2zM64.5 250h1v.5h-1zM48 250h16v.5h-16zM43.5 250h1v.5h-1zM55 250.5h9.5v.5h-9.5zM65 250.5h5v.5h-5zM70.5 250.5h2.5v.5h-2.5zM43.5 250.5h.5v.5h-.5zM73.5 250.5h.5v.5h-.5zM47.5 250.5h7v.5h-7zM41 250.5h1v1h-1zM47.5 251h27.5v.5h-27.5zM43 251h1v1h-1zM57.5 251.5h16v.5h-16zM48 251.5h9v.5h-9zM74 251.5h1v.5h-1zM74.5 252h.5v.5h-.5zM52.5 252h.5v.5h-.5zM44.5 252h.5v.5h-.5zM49.5 252h2.5v.5h-2.5zM53.5 252h19v.5h-19zM48 252h1v.5h-1zM44 252.5h1v.5h-1zM52.5 252.5h20v.5h-20zM47.5 252.5h4.5v.5h-4.5zM48 253h2.5v.5h-2.5zM51 253h20v.5h-20zM71.5 253h2v.5h-2zM53 253.5h18v.5h-18zM71.5 253.5h3.5v.5h-3.5zM48 253.5h1v.5h-1zM49.5 253.5h3v.5h-3zM55 254h6.5v.5h-6.5zM48 254h6.5v.5h-6.5zM62 254h8.5v.5h-8.5zM71.5 254h3v.5h-3zM50.5 254.5h1.5v.5h-1.5zM52.5 254.5h.5v.5h-.5zM49 254.5h1v.5h-1zM53.5 254.5h19v.5h-19zM73 254.5h2v.5h-2zM47.5 254.5h1v1h-1zM44 254.5h1v1h-1zM49 255h1.5v.5h-1.5zM53.5 255h14v.5h-14zM68 255h6.5v.5h-6.5zM51.5 255h1.5v.5h-1.5zM74.5 255.5h1.5v.5h-1.5zM71 255.5h3v.5h-3zM53.5 255.5h4.5v.5h-4.5zM50 255.5h3v.5h-3zM48 255.5h1v.5h-1zM58.5 255.5h11.5v.5h-11.5zM74.5 256h2v.5h-2zM53.5 256h.5v.5h-.5zM54.5 256h19.5v.5h-19.5zM49.5 256h3.5v.5h-3.5zM47.5 256h1v1h-1zM53.5 256.5h23v.5h-23zM49.5 256.5h3v.5h-3zM49.5 257h1v.5h-1zM56.5 257h19v.5h-19zM52.5 257h3.5v.5h-3.5zM51 257h1v.5h-1zM49.5 257.5h1.5v.5h-1.5zM57.5 257.5h13.5v.5h-13.5zM51.5 257.5h4.5v.5h-4.5zM71.5 257.5h4v.5h-4zM74.5 258h1v.5h-1zM56 258h18v.5h-18zM52 258h3v.5h-3zM50 258h1.5v.5h-1.5zM50 258.5h.5v.5h-.5zM51 258.5h1v.5h-1zM53 258.5h2v.5h-2zM56 258.5h20.5v1h-20.5zM51.5 259h.5v.5h-.5zM53 259h2.5v.5h-2.5zM75 259.5h1v.5h-1zM53.5 259.5h20v.5h-20zM58 260h17v.5h-17zM54 260h3v.5h-3zM53 260.5h1v.5h-1zM55.5 260.5h1.5v.5h-1.5zM57.5 260.5h17.5v1h-17.5zM53.5 261h.5v.5h-.5zM56.5 261h.5v.5h-.5zM56 261.5h20v.5h-20zM56 262h21v.5h-21zM73.5 262.5h3.5v.5h-3.5zM56 262.5h17v.5h-17zM54.5 262.5h1v1h-1zM57 263h1.5v.5h-1.5zM56 263h.5v.5h-.5zM59.5 263h15.5v.5h-15.5zM76 263h.5v.5h-.5zM73.5 263.5h3v.5h-3zM56 263.5h1v.5h-1zM59.5 263.5h13.5v.5h-13.5zM57.5 263.5h.5v.5h-.5zM54.5 264h.5v.5h-.5zM60 264h16v.5h-16zM58.5 264h1v.5h-1zM54 264.5h1v.5h-1zM72.5 264.5h3.5v.5h-3.5zM61.5 264.5h9.5v.5h-9.5zM58 264.5h1.5v.5h-1.5zM61.5 265h15v.5h-15zM60 265h1v.5h-1zM58.5 265h1v.5h-1zM58.5 265.5h2.5v.5h-2.5zM62 265.5h3.5v.5h-3.5zM66 265.5h11v.5h-11zM60.5 266h1v.5h-1zM73.5 266h3.5v.5h-3.5zM62 266h11v.5h-11zM72.5 266.5h4.5v.5h-4.5zM62 266.5h.5v.5h-.5zM58 266.5h1.5v.5h-1.5zM63 266.5h9v.5h-9zM62 267h2v.5h-2zM57.5 267h2v.5h-2zM64.5 267h12.5v.5h-12.5zM63 267.5h2.5v.5h-2.5zM66 267.5h11v.5h-11zM74.5 268h2.5v.5h-2.5zM64.5 268h1.5v.5h-1.5zM62 268h1v.5h-1zM66.5 268h7.5v.5h-7.5zM62.5 268.5h.5v.5h-.5zM64.5 268.5h1v.5h-1zM66 268.5h11v.5h-11zM60 269h1v.5h-1zM66 269h11.5v.5h-11.5zM51 269.5h.5v.5h-.5zM67.5 269.5h6.5v.5h-6.5zM74.5 269.5h2.5v.5h-2.5zM66 269.5h1v1h-1zM50.5 270h1v.5h-1zM68.5 270h9v.5h-9zM61.5 270h.5v.5h-.5zM61.5 270.5h1v.5h-1zM66 270.5h2v.5h-2zM69 270.5h8v.5h-8zM65 270.5h.5v.5h-.5zM65 271h1v.5h-1zM66.5 271h11v.5h-11zM68 271.5h9.5v.5h-9.5zM66.5 271.5h1v.5h-1zM63.5 271.5h.5v1h-.5zM70 272h7v.5h-7zM66 272h.5v.5h-.5zM66 272.5h1v.5h-1zM70 272.5h6.5v.5h-6.5zM70.5 273h.5v.5h-.5zM66 273h.5v.5h-.5zM71.5 273h6v1h-6zM72 274h5.5v.5h-5.5zM74.5 274.5h3v.5h-3zM72.5 274.5h1v.5h-1zM74.5 275h3.5v.5h-3.5zM76.5 275.5h1.5v.5h-1.5zM75 276h1v1h-1z" fill="#0072bd"/>
<path d="M19 251.7L19 186.4M19 251.7L81.3 282.6M81.3 282.6L161.7 260M19 251.7L16.94 250.68M19 229.93L16.94 228.91M19 208.17L16.94 207.14M19 186.4L16.94 185.38M81.3 282.6L79.09 283.22M60.53 272.3L58.32 272.92M39.77 262L37.55 262.62M19 251.7L16.79 252.32M81.3 282.6L83.36 283.62M121.5 271.3L123.56 272.32M161.7 260L163.76 261.02" stroke="#4d4d4d" stroke-width="0.55" fill="none"/>
<g font-family="Liberation Serif, serif" font-weight="bold" font-size="5.25" fill="#111" stroke="#111" stroke-width="0.1"><text x="15.2" y="253.35" text-anchor="end">0</text><text x="15.2" y="231.58" text-anchor="end">100</text><text x="15.2" y="209.82" text-anchor="end">200</text><text x="15.2" y="188.05" text-anchor="end">300</text><text x="77.1" y="289.35" text-anchor="end">0</text><text x="56.33" y="279.05" text-anchor="end">100</text><text x="35.57" y="268.75" text-anchor="end">200</text><text x="14.8" y="258.45" text-anchor="end">300</text></g>
<g font-family="Liberation Serif, serif" font-weight="bold" font-style="italic" font-size="5.5" fill="#111" stroke="#111" stroke-width="0.1"><text x="84.7" y="289.7">Horizontal</text><text x="124.9" y="278.2">Vertical</text><text x="165.1" y="266.1">Diagonal</text><text x="46.65" y="289.05" text-anchor="middle">x</text><text transform="translate(4.8 220.05) rotate(-90)" text-anchor="middle">y</text></g>
<text x="75.8" y="311.6" font-family="Liberation Serif, serif" font-size="12" fill="#000" stroke="#000" stroke-width="0.25">(d) CII</text>
<path d="M308.1 228.3L369.2 259M308.1 206.6L369.2 237.3M227.5 228.9L308.1 206.6M308.1 184.9L369.2 215.6M227.5 207.2L308.1 184.9M308.1 163.2L369.2 193.9M227.5 185.5L308.1 163.2M369.2 259L369.2 193.9M288.6 281.3L369.2 259M348.83 248.77L348.83 183.67M268.23 271.07L348.83 248.77M328.47 238.53L328.47 173.43M247.87 260.83L328.47 238.53M308.1 228.3L308.1 163.2M267.8 239.45L267.8 174.35M267.8 239.45L328.9 270.15" stroke="#e6e6e6" stroke-width="0.6" fill="none"/>
<path d="M323 187h2v1h-2zM323 188h2.5v.5h-2.5zM323 188.5h3.5v.5h-3.5zM323 189h3v.5h-3zM323 189.5h3.5v.5h-3.5zM323.5 190h3v.5h-3zM324 190.5h3v.5h-3zM327.5 191h1v.5h-1zM324.5 191h2.5v.5h-2.5zM330.5 191h1v1h-1zM323 191.5h1v.5h-1zM324.5 191.5h4v.5h-4zM325 192h3.5v.5h-3.5zM323.5 192h.5v.5h-.5zM330.5 192.5h.5v.5h-.5zM325 192.5h4v.5h-4zM330 193h1.5v.5h-1.5zM326 193h3v1h-3zM329.5 193.5h1v.5h-1zM326 194h5v.5h-5zM325.5 194.5h5.5v.5h-5.5zM326 195h7v.5h-7zM326.5 195.5h6.5v.5h-6.5zM323 195.5h1v1h-1zM327.5 196h4.5v.5h-4.5zM327 196.5h4.5v.5h-4.5zM326 197h.5v.5h-.5zM333.5 197h.5v.5h-.5zM327.5 197h5.5v.5h-5.5zM327.5 197.5h7v.5h-7zM326 197.5h1v.5h-1zM327.5 198h.5v.5h-.5zM326 198h.5v.5h-.5zM328.5 198h5v.5h-5zM328.5 198.5h6.5v.5h-6.5zM327.5 199h7.5v.5h-7.5zM327 199.5h9.5v.5h-9.5zM336 200h.5v.5h-.5zM329 200h6.5v.5h-6.5zM327 200h.5v.5h-.5zM337 200h1v1h-1zM323 200h.5v1h-.5zM335.5 200.5h.5v.5h-.5zM327.5 200.5h.5v.5h-.5zM329 200.5h6v.5h-6zM327.5 201h10.5v.5h-10.5zM330 201.5h6.5v.5h-6.5zM337 201.5h1.5v.5h-1.5zM330 202h1v.5h-1zM331.5 202h5.5v.5h-5.5zM337.5 202h1v.5h-1zM328.5 202h1v1h-1zM339 202.5h1v.5h-1zM327 202.5h.5v.5h-.5zM330 202.5h8.5v.5h-8.5zM329.5 203h8v.5h-8zM339 203h.5v.5h-.5zM327 203h1v.5h-1zM340.5 203.5h1v.5h-1zM331.5 203.5h6v.5h-6zM338.5 203.5h1.5v.5h-1.5zM330 203.5h.5v.5h-.5zM330 204h1v.5h-1zM331.5 204h10v.5h-10zM339.5 204.5h2v.5h-2zM330.5 204.5h8.5v1h-8.5zM340.5 205h1v.5h-1zM331.5 205.5h7.5v.5h-7.5zM339.5 205.5h1v.5h-1zM348 205.5h1v1h-1zM331.5 206h9v.5h-9zM343.5 206h1v.5h-1zM343.5 206.5h.5v.5h-.5zM331.5 206.5h11v.5h-11zM327.5 206.5h1v1h-1zM329 207h1v.5h-1zM342 207h1v1h-1zM332 207h9.5v1h-9.5zM328.5 207.5h1.5v.5h-1.5zM328.5 208h1v.5h-1zM332.5 208h9v.5h-9zM334 208.5h8v1h-8zM332.5 208.5h1v1h-1zM342.5 208.5h1v1.5h-1zM333.5 209.5h8.5v.5h-8.5zM333.5 210h11v.5h-11zM345.5 210h.5v.5h-.5zM345 210.5h1v.5h-1zM334.5 210.5h8.5v.5h-8.5zM343.5 210.5h1v.5h-1zM344.5 211h1v.5h-1zM334.5 211h7.5v.5h-7.5zM343.5 211h.5v.5h-.5zM330 211h.5v.5h-.5zM329.5 211.5h1.5v.5h-1.5zM335 211.5h10.5v.5h-10.5zM326.5 211.5h1v1h-1zM346.5 211.5h1.5v1h-1.5zM344 212h1v.5h-1zM334.5 212h9v.5h-9zM328.5 212h1v1h-1zM335 212.5h.5v.5h-.5zM336 212.5h7.5v.5h-7.5zM344.5 212.5h1v1h-1zM353 213h1v.5h-1zM334 213h.5v.5h-.5zM335.5 213h8v.5h-8zM353.5 213.5h.5v.5h-.5zM347.5 213.5h1.5v.5h-1.5zM331.5 213.5h1v.5h-1zM333.5 213.5h12.5v.5h-12.5zM335 214h11.5v.5h-11.5zM348 214h1v.5h-1zM334 214h.5v.5h-.5zM332 214h.5v.5h-.5zM350 214h.5v.5h-.5zM354 214h1v1h-1zM349.5 214.5h1v.5h-1zM336.5 214.5h1v.5h-1zM335.5 214.5h.5v.5h-.5zM338 214.5h10.5v.5h-10.5zM350 215h.5v.5h-.5zM337 215h10.5v1h-10.5zM334.5 215.5h1v.5h-1zM348 215.5h1v1h-1zM336.5 216h11v.5h-11zM334 216h2v1h-2zM338 216.5h9.5v.5h-9.5zM336.5 216.5h1v.5h-1zM348 216.5h2.5v.5h-2.5zM348.5 217h1.5v.5h-1.5zM335 217h1v.5h-1zM330.5 217h.5v.5h-.5zM337.5 217h10v.5h-10zM337 217.5h10.5v.5h-10.5zM348.5 217.5h1v.5h-1zM330.5 217.5h1v.5h-1zM337 218h2v.5h-2zM339.5 218h10.5v.5h-10.5zM337.5 218.5h11.5v.5h-11.5zM349.5 218.5h2v.5h-2zM339.5 219h11v.5h-11zM337.5 219h1.5v1h-1.5zM350.5 219.5h1v.5h-1zM334 219.5h1v.5h-1zM339.5 219.5h10.5v1h-10.5zM335.5 220h1v.5h-1zM363 220h.5v.5h-.5zM351 220h1v.5h-1zM337.5 220h1v.5h-1zM341 220.5h9.5v.5h-9.5zM338.5 220.5h1v.5h-1zM363 220.5h1v.5h-1zM335.5 220.5h.5v.5h-.5zM340 220.5h.5v.5h-.5zM351.5 220.5h1v.5h-1zM338 221h2.5v.5h-2.5zM341 221h7v.5h-7zM348.5 221h2v.5h-2zM351.5 221h1.5v.5h-1.5zM353 221.5h1v.5h-1zM336 221.5h.5v.5h-.5zM339.5 221.5h11v.5h-11zM337.5 221.5h1.5v1h-1.5zM335.5 222h1v.5h-1zM356.5 222h.5v.5h-.5zM350.5 222h1v.5h-1zM353 222h1.5v.5h-1.5zM340.5 222h9.5v.5h-9.5zM355.5 222h.5v.5h-.5zM333.5 222h1v1h-1zM356.5 222.5h1v.5h-1zM353.5 222.5h2.5v.5h-2.5zM342.5 222.5h10v.5h-10zM339.5 222.5h2v.5h-2zM338 222.5h1v.5h-1zM336.5 222.5h1v1h-1zM339.5 223h14v.5h-14zM354 223h.5v.5h-.5zM355.5 223h.5v.5h-.5zM340.5 223.5h13v.5h-13zM342 224h11v.5h-11zM338.5 224h1v1h-1zM340.5 224h1v1h-1zM342.5 224.5h9.5v.5h-9.5zM353.5 225h.5v.5h-.5zM342 225h11v.5h-11zM355 225h1v1h-1zM353.5 225.5h1v.5h-1zM341 225.5h2v.5h-2zM343.5 225.5h9.5v.5h-9.5zM341 226h1v.5h-1zM343 226h10v.5h-10zM353.5 226h.5v.5h-.5zM328.5 226.5h1v.5h-1zM343 226.5h10.5v.5h-10.5zM341.5 226.5h1v.5h-1zM354.5 226.5h1v.5h-1zM328.5 227h.5v.5h-.5zM343.5 227h12v.5h-12zM343.5 227.5h13v.5h-13zM342 227h1v1.5h-1zM344.5 228h12v.5h-12zM357.5 227.5h1v1.5h-1zM340.5 227.5h1v1.5h-1zM334 228h1v1h-1zM344.5 228.5h12.5v.5h-12.5zM343 228.5h.5v.5h-.5zM342 229h.5v.5h-.5zM343 229h1v.5h-1zM345 229h12v.5h-12zM341.5 229.5h1.5v.5h-1.5zM344 229.5h11v.5h-11zM344 230h12.5v.5h-12.5zM358.5 230h.5v.5h-.5zM364.5 230.5h.5v.5h-.5zM347 230.5h10.5v.5h-10.5zM345 230.5h1.5v.5h-1.5zM343.5 230.5h1v1h-1zM358 230.5h1v1h-1zM360 230.5h1v1h-1zM357 231h.5v.5h-.5zM364 231h1v.5h-1zM345 231h2v.5h-2zM347.5 231h8v.5h-8zM356 231h.5v1h-.5zM346 231.5h9.5v.5h-9.5zM357 231.5h1.5v.5h-1.5zM359.5 231.5h.5v.5h-.5zM344.5 231.5h.5v.5h-.5zM347 232h13v.5h-13zM344.5 232h2v.5h-2zM345 232.5h11.5v.5h-11.5zM357.5 232.5h1.5v1h-1.5zM346.5 233h10.5v.5h-10.5zM346 233.5h12.5v.5h-12.5zM346 234h1v.5h-1zM347.5 234h11v.5h-11zM346.5 234.5h13.5v.5h-13.5zM362.5 235h.5v.5h-.5zM361.5 235h.5v.5h-.5zM346.5 235h14.5v.5h-14.5zM347 235.5h16v.5h-16zM347.5 236h12.5v.5h-12.5zM362 236h1.5v.5h-1.5zM346.5 236.5h1v.5h-1zM350.5 236.5h10v.5h-10zM350.5 237h9.5v.5h-9.5zM347 237h.5v.5h-.5zM361 237.5h1v.5h-1zM350 237.5h10.5v1h-10.5zM361.5 238h.5v.5h-.5zM347.5 238h1v1h-1zM350 238.5h11v.5h-11zM362 238.5h1v1h-1zM350 239h.5v.5h-.5zM351 239h.5v.5h-.5zM345 239h1v1h-1zM352 239h9.5v1h-9.5zM350 239.5h1.5v1h-1.5zM348.5 239.5h1v1h-1zM352 240h9v.5h-9zM351 240.5h1v.5h-1zM352.5 240.5h8.5v.5h-8.5zM364 240.5h1v1h-1zM352.5 241h10v1h-10zM363 241.5h1v.5h-1zM351 241.5h.5v.5h-.5zM351 242h1v.5h-1zM352.5 242h11.5v.5h-11.5zM349 242h1v.5h-1zM353 242.5h10.5v.5h-10.5zM349 242.5h.5v.5h-.5zM351.5 242.5h1v1h-1zM353.5 243h10.5v.5h-10.5zM355 243.5h.5v.5h-.5zM356 243.5h7v.5h-7zM352 243.5h.5v.5h-.5zM351.5 244h1v.5h-1zM356 244h8v.5h-8zM356.5 244.5h8v.5h-8zM356 245h7.5v1h-7.5zM358 246h6v.5h-6zM358.5 246.5h5.5v.5h-5.5zM356.5 246.5h1v1h-1zM358.5 247h6v.5h-6zM360 247.5h4.5v.5h-4.5zM358.5 248h6v.5h-6zM360 248.5h4.5v.5h-4.5zM359 248.5h.5v.5h-.5zM360.5 249h4v1h-4zM361 250h1v.5h-1zM362.5 250h2v1.5h-2z" fill="#edb120"/><path d="M283.5 198.5h1v.5h-1zM283 199h1.5v.5h-1.5zM283 199.5h3v.5h-3zM283.5 200h2.5v1h-2.5zM283.5 201h3.5v.5h-3.5zM284.5 201.5h3v1.5h-3zM285 203h2.5v.5h-2.5zM285 203.5h3v.5h-3zM285.5 204h2.5v.5h-2.5zM286 204.5h3v1.5h-3zM286 206h3.5v.5h-3.5zM290 206h.5v.5h-.5zM287 206.5h4v1h-4zM292 207.5h1v.5h-1zM293.5 207.5h.5v.5h-.5zM286.5 207.5h5v.5h-5zM292 208h2.5v.5h-2.5zM287 208h4.5v1h-4.5zM297.5 209h.5v.5h-.5zM287.5 209h5.5v.5h-5.5zM297 209.5h1v.5h-1zM287.5 209.5h5v.5h-5zM294.5 210h1v.5h-1zM288.5 210h5v.5h-5zM287.5 210h.5v1h-.5zM289 210.5h6.5v.5h-6.5zM289 211h6v.5h-6zM287 211h1v.5h-1zM289.5 211.5h5.5v.5h-5.5zM286.5 212h1v.5h-1zM290 212h5v.5h-5zM287 212.5h.5v.5h-.5zM290.5 212.5h4v.5h-4zM301 212.5h.5v1h-.5zM295.5 212.5h1.5v1.5h-1.5zM290.5 213h4.5v1h-4.5zM287.5 214h.5v.5h-.5zM290.5 214h6.5v.5h-6.5zM290 214.5h6.5v.5h-6.5zM300 214.5h1v.5h-1zM287 214.5h1.5v.5h-1.5zM300.5 215h.5v.5h-.5zM290.5 215h6.5v.5h-6.5zM289.5 215.5h1v.5h-1zM291 215.5h6v.5h-6zM298 215.5h2.5v1h-2.5zM289.5 216h.5v.5h-.5zM291.5 216h6v.5h-6zM290 216.5h9.5v.5h-9.5zM290 217h2v.5h-2zM299 217h1.5v1h-1.5zM292.5 217h6v1h-6zM310 217.5h.5v.5h-.5zM301 217.5h1v1h-1zM292.5 218h7.5v.5h-7.5zM309.5 218h1v.5h-1zM292.5 218.5h7v.5h-7zM310 218.5h.5v.5h-.5zM293.5 219h7.5v1h-7.5zM288 219.5h1v.5h-1zM288.5 220h.5v.5h-.5zM294 220h8v.5h-8zM303 219.5h1v1.5h-1zM294 220.5h7.5v.5h-7.5zM302.5 221h.5v.5h-.5zM303.5 221h1v.5h-1zM293.5 221h7.5v.5h-7.5zM301.5 221h.5v.5h-.5zM291 220h1v2h-1zM304 221.5h.5v.5h-.5zM293.5 221.5h8.5v.5h-8.5zM302.5 221.5h1v.5h-1zM310 222h1v.5h-1zM294.5 222h8.5v.5h-8.5zM303.5 222h1v.5h-1zM310 222.5h.5v.5h-.5zM293.5 222.5h9.5v.5h-9.5zM306.5 222.5h1v1h-1zM293.5 223h10v.5h-10zM294 223.5h10v.5h-10zM305 224h1v.5h-1zM303 224h1.5v.5h-1.5zM295.5 224h7v.5h-7zM294 224h1v.5h-1zM290 224h.5v.5h-.5zM296.5 224.5h9v.5h-9zM289.5 224.5h1v.5h-1zM293 224.5h1.5v1h-1.5zM294 225.5h1v.5h-1zM294 226h.5v.5h-.5zM308 226h.5v.5h-.5zM296 225h9.5v2h-9.5zM291.5 226h1v1h-1zM308 226.5h1v.5h-1zM306.5 226.5h1v1h-1zM296 227h10v.5h-10zM318.5 227.5h1v.5h-1zM296.5 227.5h11v.5h-11zM315.5 227.5h1v.5h-1zM309 227.5h1v.5h-1zM312 227.5h1v1h-1zM308.5 228h3v.5h-3zM318.5 228h.5v.5h-.5zM296.5 228h11.5v.5h-11.5zM314 228h1v1h-1zM288 228h1v1h-1zM307 228.5h3v.5h-3zM311 228.5h.5v.5h-.5zM296.5 228.5h10v.5h-10zM307 229h2v.5h-2zM297 229h2v.5h-2zM299.5 229h7v.5h-7zM315.5 229h1v1h-1zM296.5 229.5h1v.5h-1zM298 229.5h11v.5h-11zM297.5 230h.5v.5h-.5zM298.5 230h9v.5h-9zM296 230h1v.5h-1zM308.5 230h1v.5h-1zM296.5 230.5h.5v.5h-.5zM297.5 230.5h10.5v.5h-10.5zM308.5 230.5h2v.5h-2zM298.5 231h12.5v.5h-12.5zM312.5 231h1v1h-1zM318 231h1v1h-1zM298.5 231.5h.5v.5h-.5zM296.5 231.5h1v.5h-1zM299.5 231.5h11.5v1h-11.5zM296.5 232h.5v.5h-.5zM310.5 232.5h.5v.5h-.5zM319 232.5h.5v.5h-.5zM299.5 232.5h10.5v.5h-10.5zM311.5 232.5h2v1h-2zM297.5 232.5h1v1h-1zM299 233h11v.5h-11zM319 233h1v.5h-1zM300.5 233.5h9.5v.5h-9.5zM298.5 233.5h1.5v.5h-1.5zM311.5 233.5h1v1h-1zM298 234h1.5v.5h-1.5zM302 234h8v.5h-8zM298 234.5h1v.5h-1zM302.5 234.5h10v.5h-10zM301.5 235h1v1h-1zM303 235h10v1h-10zM314.5 235.5h1v.5h-1zM299 235.5h1v1h-1zM315 236h.5v.5h-.5zM301 236h1.5v.5h-1.5zM303 236h8v.5h-8zM311.5 236h2v.5h-2zM301 236.5h10v.5h-10zM311.5 236.5h1.5v1h-1.5zM300 237h1.5v.5h-1.5zM304 237h7v.5h-7zM302 237h1.5v.5h-1.5zM315.5 237h.5v.5h-.5zM300 237.5h1v.5h-1zM315 237.5h1v.5h-1zM314 237.5h.5v.5h-.5zM302 237.5h11.5v.5h-11.5zM299 238h1v.5h-1zM296.5 238h1v.5h-1zM303 238h13v.5h-13zM302.5 238.5h11.5v.5h-11.5zM315.5 238.5h.5v.5h-.5zM297 238.5h.5v.5h-.5zM314.5 238.5h.5v.5h-.5zM320 238.5h1v.5h-1zM302 239h1v.5h-1zM303.5 239h10.5v1h-10.5zM314.5 239h1v1h-1zM316.5 239.5h.5v.5h-.5zM302.5 239.5h.5v.5h-.5zM323 240h1v.5h-1zM302 240h1v.5h-1zM315.5 240h2v.5h-2zM305.5 240h9.5v.5h-9.5zM322.5 240.5h1.5v.5h-1.5zM305.5 240.5h12.5v.5h-12.5zM317.5 241h.5v.5h-.5zM305 241h11.5v.5h-11.5zM322.5 241h1v.5h-1zM303.5 241h1v.5h-1zM315.5 241.5h2v.5h-2zM303 241.5h1.5v.5h-1.5zM305 241.5h10v.5h-10zM316.5 242h1v.5h-1zM304.5 242h11v.5h-11zM302.5 242h1.5v.5h-1.5zM305 242.5h11v.5h-11zM308 243h8v.5h-8zM305.5 243h2v.5h-2zM317 243h1v.5h-1zM302.5 242.5h1v1.5h-1zM322 243h1.5v1h-1.5zM304 243.5h1v.5h-1zM317 243.5h.5v.5h-.5zM305.5 243.5h10.5v.5h-10.5zM321 244h1v.5h-1zM304 244h13.5v.5h-13.5zM323 244h.5v.5h-.5zM307 244.5h.5v.5h-.5zM305.5 244.5h1v.5h-1zM321 244.5h.5v.5h-.5zM303 244.5h.5v.5h-.5zM308 244.5h9.5v.5h-9.5zM304 244.5h1v1h-1zM295.5 244.5h1v1h-1zM318 244.5h1v1h-1zM306 245h11.5v.5h-11.5zM302.5 245h1v.5h-1zM307 245.5h2.5v.5h-2.5zM310 245.5h9v.5h-9zM308 246h11v.5h-11zM307 246h.5v.5h-.5zM298 246h1v.5h-1zM322 246h1v1h-1zM298 246.5h.5v.5h-.5zM308.5 246.5h11v.5h-11zM310 247h10v.5h-10zM320.5 247h1v.5h-1zM308.5 247h1v1h-1zM319.5 247.5h2v.5h-2zM310 247.5h9v.5h-9zM308.5 248h.5v.5h-.5zM311 248h10.5v.5h-10.5zM309.5 248h1v.5h-1zM307 248h1v.5h-1zM307 248.5h2v.5h-2zM309.5 248.5h.5v.5h-.5zM321.5 248.5h.5v.5h-.5zM310.5 248.5h10.5v.5h-10.5zM309.5 249h13v.5h-13zM307.5 249h1v1h-1zM311.5 249.5h10.5v.5h-10.5zM309.5 249.5h1.5v.5h-1.5zM309.5 250h11v.5h-11zM322.5 250.5h1v.5h-1zM310 250.5h12v.5h-12zM312 251h10v.5h-10zM322.5 251h.5v.5h-.5zM311 251.5h9.5v.5h-9.5zM321 251.5h1.5v.5h-1.5zM305.5 252h1.5v.5h-1.5zM311 252h10v.5h-10zM321.5 252h1v.5h-1zM306 252.5h.5v.5h-.5zM321.5 252.5h.5v.5h-.5zM311.5 252.5h9.5v.5h-9.5zM323 253h1v.5h-1zM314 253h8v.5h-8zM306.5 253h1v1h-1zM322 253.5h1.5v.5h-1.5zM314 253.5h7.5v.5h-7.5zM310.5 253h1v1.5h-1zM314 254h9v.5h-9zM309.5 254h.5v.5h-.5zM314.5 254.5h8v.5h-8zM309.5 254.5h1.5v.5h-1.5zM315.5 255h7.5v.5h-7.5zM314.5 255h.5v.5h-.5zM312.5 255h1v1h-1zM316.5 255.5h7.5v.5h-7.5zM314 255.5h1.5v1h-1.5zM316 256h8.5v.5h-8.5zM315.5 256.5h7.5v.5h-7.5zM323.5 256.5h1v.5h-1zM316 257h.5v.5h-.5zM317 257h7.5v.5h-7.5zM316 257.5h8.5v.5h-8.5zM318 258h6v.5h-6zM315.5 258h2v.5h-2zM315.5 258.5h8.5v.5h-8.5zM319 259h5v.5h-5zM318 259h.5v.5h-.5zM317.5 259.5h6.5v.5h-6.5zM317.5 260h1v.5h-1zM319 260h5.5v.5h-5.5zM319.5 260.5h5.5v.5h-5.5zM320.5 261h4.5v.5h-4.5zM321 261.5h4.5v.5h-4.5zM321.5 262h4v1h-4zM323 263h2v.5h-2z" fill="#d95319"/><path d="M243.5 211h1.5v.5h-1.5zM243 211.5h2.5v.5h-2.5zM243 212h3.5v.5h-3.5zM243.5 212.5h3v.5h-3zM244 213h2.5v.5h-2.5zM244.5 213.5h2.5v.5h-2.5zM244.5 214h3v.5h-3zM244.5 214.5h2.5v.5h-2.5zM245.5 215h2v.5h-2zM246 215.5h1.5v.5h-1.5zM248.5 216h1.5v.5h-1.5zM245.5 216h2.5v.5h-2.5zM245.5 216.5h5v.5h-5zM250.5 217h1v.5h-1zM246.5 217h2.5v.5h-2.5zM247 217.5h2.5v.5h-2.5zM250.5 217.5h.5v.5h-.5zM246.5 218h3v.5h-3zM246.5 218.5h3.5v.5h-3.5zM246.5 219h4.5v.5h-4.5zM247.5 219.5h3.5v.5h-3.5zM248 220h4v.5h-4zM248 220.5h4.5v.5h-4.5zM248.5 221h3.5v.5h-3.5zM249 221.5h3.5v.5h-3.5zM249 222h4v.5h-4zM249 222.5h5v.5h-5zM250 223h4v.5h-4zM246.5 223h1v.5h-1zM248.5 223h1v.5h-1zM258 223h.5v.5h-.5zM249 223.5h1v.5h-1zM257.5 223.5h1v.5h-1zM250.5 223.5h3v.5h-3zM247 223.5h.5v.5h-.5zM262.5 223.5h1v1h-1zM249.5 224h4.5v.5h-4.5zM249.5 224.5h1v.5h-1zM251 224.5h3v.5h-3zM251.5 225h3v.5h-3zM250.5 225.5h5.5v1h-5.5zM250.5 226.5h6.5v.5h-6.5zM250.5 227h6v.5h-6zM257 227h.5v.5h-.5zM251 227.5h7v.5h-7zM258.5 227.5h.5v.5h-.5zM249.5 227.5h1v1h-1zM251 228h1v.5h-1zM252.5 228h5v.5h-5zM258 228h1v.5h-1zM252.5 228.5h6v.5h-6zM252.5 229h6.5v.5h-6.5zM251 229.5h8v.5h-8zM253 230h6v.5h-6zM253 230.5h6.5v.5h-6.5zM250 230.5h1v1h-1zM253.5 231h6.5v.5h-6.5zM253.5 231.5h7.5v.5h-7.5zM251.5 231.5h.5v.5h-.5zM251 232h1v.5h-1zM255 232h6.5v.5h-6.5zM253.5 232h1v.5h-1zM264.5 233h1v.5h-1zM254.5 232.5h7.5v1.5h-7.5zM264.5 233.5h.5v.5h-.5zM255 234h6.5v1h-6.5zM262 234.5h1v.5h-1zM264 234.5h1v.5h-1zM253 234.5h1v1h-1zM255.5 235h9.5v.5h-9.5zM256.5 235.5h8.5v.5h-8.5zM267 235.5h1v.5h-1zM255.5 235.5h.5v.5h-.5zM267 236h.5v.5h-.5zM256.5 236h8v.5h-8zM255.5 236.5h9.5v.5h-9.5zM255.5 237h1v.5h-1zM263 237h2v.5h-2zM258 237h4.5v.5h-4.5zM258.5 237.5h6v.5h-6zM257 237.5h1v.5h-1zM257.5 238h.5v.5h-.5zM258.5 238h5.5v.5h-5.5zM257.5 238.5h7.5v.5h-7.5zM267 238.5h1v.5h-1zM266 239h2v.5h-2zM258 239h7v1h-7zM265.5 239.5h1.5v.5h-1.5zM259 240h7.5v.5h-7.5zM256.5 240h1v1h-1zM259 240.5h7v.5h-7zM266.5 240.5h.5v.5h-.5zM260.5 241h8.5v.5h-8.5zM257.5 241h2v.5h-2zM272.5 241h1v1h-1zM260 241.5h7v.5h-7zM268 241.5h.5v.5h-.5zM269 241.5h1v.5h-1zM257.5 241.5h1v1h-1zM269.5 242h.5v.5h-.5zM260 242h8v.5h-8zM260 242.5h8.5v.5h-8.5zM260.5 243h9v1h-9zM258.5 244h1v.5h-1zM260 244h8.5v.5h-8.5zM260.5 244.5h.5v.5h-.5zM262 244.5h6.5v.5h-6.5zM257.5 244.5h1.5v.5h-1.5zM257.5 245h1v.5h-1zM262.5 245h8v1h-8zM271.5 245.5h1v.5h-1zM271 246h1.5v.5h-1.5zM262 246h8v.5h-8zM272.5 246.5h.5v.5h-.5zM261.5 246.5h10.5v.5h-10.5zM259 246.5h1v1h-1zM261 247h12v.5h-12zM261 247.5h.5v.5h-.5zM262 247.5h9.5v.5h-9.5zM262 248h10v.5h-10zM262 248.5h1v.5h-1zM273.5 248.5h.5v.5h-.5zM265.5 248.5h6.5v.5h-6.5zM264 248.5h1v1h-1zM265.5 249h7v.5h-7zM273.5 249h1v.5h-1zM265.5 249.5h7.5v.5h-7.5zM263.5 249.5h1.5v.5h-1.5zM263 250h10.5v.5h-10.5zM276 250h1v1h-1zM265.5 250.5h8v.5h-8zM266.5 251h6.5v.5h-6.5zM266.5 251.5h7v.5h-7zM274.5 252h1.5v.5h-1.5zM261.5 252h.5v.5h-.5zM266.5 252h7.5v.5h-7.5zM261.5 252.5h1v.5h-1zM276.5 252h1v1.5h-1zM266.5 252.5h9.5v1h-9.5zM265 252.5h1v1h-1zM279 253.5h1v.5h-1zM275.5 253.5h1v.5h-1zM277.5 253.5h.5v.5h-.5zM264.5 253.5h.5v.5h-.5zM265.5 253.5h9.5v.5h-9.5zM276 254h.5v.5h-.5zM281 254h.5v.5h-.5zM264.5 254h1v.5h-1zM279.5 254h.5v.5h-.5zM266 254h9v.5h-9zM277 254h1v.5h-1zM281 254.5h1v.5h-1zM279 254.5h.5v.5h-.5zM267.5 254.5h8.5v.5h-8.5zM267 255h8.5v.5h-8.5zM279 255h1v.5h-1zM266.5 255.5h9.5v.5h-9.5zM267.5 256h2v.5h-2zM281.5 256h.5v.5h-.5zM270 256h7v.5h-7zM281.5 256.5h1v.5h-1zM268 256.5h12v.5h-12zM278.5 257h1v.5h-1zM269.5 257h8.5v.5h-8.5zM270 257.5h.5v.5h-.5zM271 257.5h6v.5h-6zM278.5 257.5h.5v.5h-.5zM280 257.5h1v1h-1zM269 258h8.5v.5h-8.5zM266 258h1v1h-1zM269 258.5h9.5v.5h-9.5zM270.5 259h8v.5h-8zM270.5 259.5h8.5v.5h-8.5zM281 260h1v.5h-1zM271.5 260h8.5v.5h-8.5zM272 260.5h8v.5h-8zM281 260.5h.5v.5h-.5zM282.5 260.5h1v1h-1zM271.5 261h8.5v.5h-8.5zM273.5 261.5h7.5v1h-7.5zM270 261.5h2.5v1h-2.5zM270.5 262.5h8.5v.5h-8.5zM279.5 262.5h1v.5h-1zM281 263h1v.5h-1zM272 263h8.5v.5h-8.5zM273.5 263.5h7v.5h-7zM274 264h6.5v.5h-6.5zM282 264h1v1h-1zM274.5 264.5h6v.5h-6zM281 264.5h.5v.5h-.5zM274.5 265h1.5v.5h-1.5zM276.5 265h5.5v.5h-5.5zM276 265.5h6v.5h-6zM275 266h6v.5h-6zM275 266.5h6.5v.5h-6.5zM282 266.5h1v1h-1zM271.5 266.5h1v1h-1zM275.5 267h6v.5h-6zM275.5 267.5h6.5v.5h-6.5zM283.5 268h.5v.5h-.5zM276.5 268h5.5v.5h-5.5zM276.5 268.5h7.5v.5h-7.5zM277.5 269h5v.5h-5zM283 269h.5v.5h-.5zM278 269.5h6v.5h-6zM279 270h6v.5h-6zM279.5 270.5h5.5v.5h-5.5zM279 271h5v1h-5zM281 272h3v.5h-3zM281 272.5h3.5v.5h-3.5zM281 273h4v.5h-4zM282 273.5h3v.5h-3zM283 274h2v.5h-2zM283.5 274.5h1v.5h-1z" fill="#0072bd"/>
<path d="M227.5 250.6L227.5 185.5M227.5 250.6L288.6 281.3M288.6 281.3L369.2 259M227.5 250.6L225.44 249.57M227.5 228.9L225.44 227.87M227.5 207.2L225.44 206.17M227.5 185.5L225.44 184.47M288.6 281.3L286.38 281.91M268.23 271.07L266.02 271.68M247.87 260.83L245.65 261.45M227.5 250.6L225.28 251.21M288.6 281.3L290.66 282.33M328.9 270.15L330.96 271.18M369.2 259L371.26 260.03" stroke="#4d4d4d" stroke-width="0.55" fill="none"/>
<g font-family="Liberation Serif, serif" font-weight="bold" font-size="5.25" fill="#111" stroke="#111" stroke-width="0.1"><text x="223.7" y="252.25" text-anchor="end">0</text><text x="223.7" y="230.55" text-anchor="end">100</text><text x="223.7" y="208.85" text-anchor="end">200</text><text x="223.7" y="187.15" text-anchor="end">300</text><text x="284.4" y="288.05" text-anchor="end">0</text><text x="264.03" y="277.82" text-anchor="end">100</text><text x="243.67" y="267.58" text-anchor="end">200</text><text x="223.3" y="257.35" text-anchor="end">300</text></g>
<g font-family="Liberation Serif, serif" font-weight="bold" font-style="italic" font-size="5.5" fill="#111" stroke="#111" stroke-width="0.1"><text x="292" y="288.4">Horizontal</text><text x="332.3" y="277.05">Vertical</text><text x="372.6" y="265.1">Diagonal</text><text x="254.55" y="287.85" text-anchor="middle">x</text><text transform="translate(213.3 219.05) rotate(-90)" text-anchor="middle">y</text></g>
<text x="285.8" y="311.4" font-family="Liberation Serif, serif" font-size="12" fill="#000" stroke="#000" stroke-width="0.25">(e) RI</text>
</g>
</svg></body></html>
